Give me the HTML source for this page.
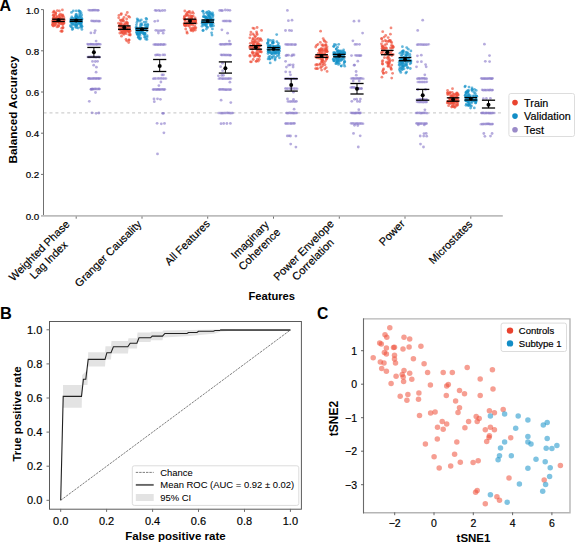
<!DOCTYPE html>
<html><head><meta charset="utf-8"><style>
html,body{margin:0;padding:0;background:#fff;}
svg{display:block;}
text{stroke:#000;stroke-width:0.18px;}
text[font-weight=bold]{stroke:none;}
.lg text{stroke-width:0.05px;}
</style></head><body>
<svg width="575" height="542" viewBox="0 0 575 542">
<rect width="575" height="542" fill="#fff"/>
<g id="panelA">
<line x1="43.6" y1="112.9" x2="502.8" y2="112.9" stroke="#cfcfcf" stroke-width="1.4" stroke-dasharray="3 2.9"/>
<circle cx="60.3" cy="18.9" r="1.4" fill="#EE4E38" fill-opacity="0.66"/>
<circle cx="53.4" cy="23.1" r="1.4" fill="#EE4E38" fill-opacity="0.66"/>
<circle cx="53.2" cy="15.2" r="1.4" fill="#EE4E38" fill-opacity="0.66"/>
<circle cx="58.6" cy="19.1" r="1.4" fill="#EE4E38" fill-opacity="0.66"/>
<circle cx="53.3" cy="26.0" r="1.4" fill="#EE4E38" fill-opacity="0.66"/>
<circle cx="53.6" cy="21.7" r="1.4" fill="#EE4E38" fill-opacity="0.66"/>
<circle cx="54.0" cy="11.1" r="1.4" fill="#EE4E38" fill-opacity="0.66"/>
<circle cx="55.2" cy="25.0" r="1.4" fill="#EE4E38" fill-opacity="0.66"/>
<circle cx="59.4" cy="11.0" r="1.4" fill="#EE4E38" fill-opacity="0.66"/>
<circle cx="57.3" cy="10.7" r="1.4" fill="#EE4E38" fill-opacity="0.66"/>
<circle cx="62.8" cy="22.0" r="1.4" fill="#EE4E38" fill-opacity="0.66"/>
<circle cx="56.0" cy="20.0" r="1.4" fill="#EE4E38" fill-opacity="0.66"/>
<circle cx="56.2" cy="22.0" r="1.4" fill="#EE4E38" fill-opacity="0.66"/>
<circle cx="62.3" cy="22.5" r="1.4" fill="#EE4E38" fill-opacity="0.66"/>
<circle cx="60.2" cy="23.4" r="1.4" fill="#EE4E38" fill-opacity="0.66"/>
<circle cx="57.0" cy="26.9" r="1.4" fill="#EE4E38" fill-opacity="0.66"/>
<circle cx="53.2" cy="18.4" r="1.4" fill="#EE4E38" fill-opacity="0.66"/>
<circle cx="55.0" cy="19.7" r="1.4" fill="#EE4E38" fill-opacity="0.66"/>
<circle cx="56.3" cy="17.8" r="1.4" fill="#EE4E38" fill-opacity="0.66"/>
<circle cx="59.5" cy="15.0" r="1.4" fill="#EE4E38" fill-opacity="0.66"/>
<circle cx="62.0" cy="15.9" r="1.4" fill="#EE4E38" fill-opacity="0.66"/>
<circle cx="60.9" cy="21.6" r="1.4" fill="#EE4E38" fill-opacity="0.66"/>
<circle cx="58.8" cy="20.6" r="1.4" fill="#EE4E38" fill-opacity="0.66"/>
<circle cx="63.0" cy="27.5" r="1.4" fill="#EE4E38" fill-opacity="0.66"/>
<circle cx="64.3" cy="19.7" r="1.4" fill="#EE4E38" fill-opacity="0.66"/>
<circle cx="53.9" cy="15.8" r="1.4" fill="#EE4E38" fill-opacity="0.66"/>
<circle cx="54.3" cy="12.2" r="1.4" fill="#EE4E38" fill-opacity="0.66"/>
<circle cx="58.4" cy="24.9" r="1.4" fill="#EE4E38" fill-opacity="0.66"/>
<circle cx="61.7" cy="28.2" r="1.4" fill="#EE4E38" fill-opacity="0.66"/>
<circle cx="59.4" cy="22.3" r="1.4" fill="#EE4E38" fill-opacity="0.66"/>
<circle cx="60.8" cy="23.7" r="1.4" fill="#EE4E38" fill-opacity="0.66"/>
<circle cx="59.6" cy="16.9" r="1.4" fill="#EE4E38" fill-opacity="0.66"/>
<circle cx="62.6" cy="15.0" r="1.4" fill="#EE4E38" fill-opacity="0.66"/>
<circle cx="63.8" cy="17.4" r="1.4" fill="#EE4E38" fill-opacity="0.66"/>
<circle cx="53.2" cy="12.3" r="1.4" fill="#EE4E38" fill-opacity="0.66"/>
<circle cx="60.9" cy="21.6" r="1.4" fill="#EE4E38" fill-opacity="0.66"/>
<circle cx="62.4" cy="9.9" r="1.4" fill="#EE4E38" fill-opacity="0.66"/>
<circle cx="60.5" cy="19.1" r="1.4" fill="#EE4E38" fill-opacity="0.66"/>
<circle cx="52.8" cy="25.6" r="1.4" fill="#EE4E38" fill-opacity="0.66"/>
<circle cx="53.9" cy="17.1" r="1.4" fill="#EE4E38" fill-opacity="0.66"/>
<circle cx="53.2" cy="21.1" r="1.4" fill="#EE4E38" fill-opacity="0.66"/>
<circle cx="55.5" cy="20.6" r="1.4" fill="#EE4E38" fill-opacity="0.66"/>
<circle cx="57.2" cy="17.4" r="1.4" fill="#EE4E38" fill-opacity="0.66"/>
<circle cx="57.9" cy="21.9" r="1.4" fill="#EE4E38" fill-opacity="0.66"/>
<circle cx="59.1" cy="18.7" r="1.4" fill="#EE4E38" fill-opacity="0.66"/>
<circle cx="62.9" cy="27.9" r="1.4" fill="#EE4E38" fill-opacity="0.66"/>
<circle cx="55.8" cy="13.5" r="1.4" fill="#EE4E38" fill-opacity="0.66"/>
<circle cx="63.1" cy="15.8" r="1.4" fill="#EE4E38" fill-opacity="0.66"/>
<circle cx="64.0" cy="22.9" r="1.4" fill="#EE4E38" fill-opacity="0.66"/>
<circle cx="55.3" cy="22.3" r="1.4" fill="#EE4E38" fill-opacity="0.66"/>
<circle cx="55.3" cy="23.1" r="1.4" fill="#EE4E38" fill-opacity="0.66"/>
<circle cx="55.7" cy="13.0" r="1.4" fill="#EE4E38" fill-opacity="0.66"/>
<circle cx="52.5" cy="21.0" r="1.4" fill="#EE4E38" fill-opacity="0.66"/>
<circle cx="59.3" cy="15.7" r="1.4" fill="#EE4E38" fill-opacity="0.66"/>
<circle cx="63.9" cy="22.9" r="1.4" fill="#EE4E38" fill-opacity="0.66"/>
<circle cx="59.9" cy="17.9" r="1.4" fill="#EE4E38" fill-opacity="0.66"/>
<circle cx="60.6" cy="14.1" r="1.4" fill="#EE4E38" fill-opacity="0.66"/>
<circle cx="61.9" cy="31.4" r="1.4" fill="#EE4E38" fill-opacity="0.66"/>
<circle cx="63.0" cy="24.2" r="1.4" fill="#EE4E38" fill-opacity="0.66"/>
<circle cx="57.3" cy="21.9" r="1.4" fill="#EE4E38" fill-opacity="0.66"/>
<circle cx="53.7" cy="15.1" r="1.4" fill="#EE4E38" fill-opacity="0.66"/>
<circle cx="53.3" cy="19.0" r="1.4" fill="#EE4E38" fill-opacity="0.66"/>
<circle cx="55.0" cy="18.8" r="1.4" fill="#EE4E38" fill-opacity="0.66"/>
<circle cx="53.1" cy="22.9" r="1.4" fill="#EE4E38" fill-opacity="0.66"/>
<circle cx="52.5" cy="24.6" r="1.4" fill="#EE4E38" fill-opacity="0.66"/>
<circle cx="56.9" cy="21.8" r="1.4" fill="#EE4E38" fill-opacity="0.66"/>
<circle cx="52.8" cy="22.4" r="1.4" fill="#EE4E38" fill-opacity="0.66"/>
<circle cx="54.3" cy="25.6" r="1.4" fill="#EE4E38" fill-opacity="0.66"/>
<circle cx="55.5" cy="14.9" r="1.4" fill="#EE4E38" fill-opacity="0.66"/>
<circle cx="54.0" cy="17.3" r="1.4" fill="#EE4E38" fill-opacity="0.66"/>
<circle cx="62.7" cy="24.6" r="1.4" fill="#EE4E38" fill-opacity="0.66"/>
<circle cx="58.3" cy="26.5" r="1.4" fill="#EE4E38" fill-opacity="0.66"/>
<circle cx="53.5" cy="20.0" r="1.4" fill="#EE4E38" fill-opacity="0.66"/>
<circle cx="55.7" cy="24.3" r="1.4" fill="#EE4E38" fill-opacity="0.66"/>
<circle cx="62.4" cy="23.3" r="1.4" fill="#EE4E38" fill-opacity="0.66"/>
<circle cx="63.9" cy="20.9" r="1.4" fill="#EE4E38" fill-opacity="0.66"/>
<circle cx="58.8" cy="21.3" r="1.4" fill="#EE4E38" fill-opacity="0.66"/>
<circle cx="52.8" cy="24.5" r="1.4" fill="#EE4E38" fill-opacity="0.66"/>
<circle cx="58.8" cy="25.8" r="1.4" fill="#EE4E38" fill-opacity="0.66"/>
<circle cx="60.9" cy="31.2" r="1.4" fill="#EE4E38" fill-opacity="0.66"/>
<circle cx="55.6" cy="18.8" r="1.4" fill="#EE4E38" fill-opacity="0.66"/>
<circle cx="61.8" cy="18.1" r="1.4" fill="#EE4E38" fill-opacity="0.66"/>
<circle cx="58.9" cy="22.8" r="1.4" fill="#EE4E38" fill-opacity="0.66"/>
<circle cx="55.2" cy="21.2" r="1.4" fill="#EE4E38" fill-opacity="0.66"/>
<circle cx="62.2" cy="15.5" r="1.4" fill="#EE4E38" fill-opacity="0.66"/>
<circle cx="62.2" cy="31.0" r="1.4" fill="#EE4E38" fill-opacity="0.66"/>
<circle cx="62.3" cy="19.3" r="1.4" fill="#EE4E38" fill-opacity="0.66"/>
<circle cx="58.7" cy="20.0" r="1.4" fill="#EE4E38" fill-opacity="0.66"/>
<circle cx="56.8" cy="16.4" r="1.4" fill="#EE4E38" fill-opacity="0.66"/>
<circle cx="55.9" cy="21.6" r="1.4" fill="#EE4E38" fill-opacity="0.66"/>
<circle cx="73.3" cy="20.8" r="1.4" fill="#1592C9" fill-opacity="0.66"/>
<circle cx="75.6" cy="16.2" r="1.4" fill="#1592C9" fill-opacity="0.66"/>
<circle cx="81.7" cy="14.9" r="1.4" fill="#1592C9" fill-opacity="0.66"/>
<circle cx="72.9" cy="18.3" r="1.4" fill="#1592C9" fill-opacity="0.66"/>
<circle cx="72.6" cy="23.3" r="1.4" fill="#1592C9" fill-opacity="0.66"/>
<circle cx="81.0" cy="22.6" r="1.4" fill="#1592C9" fill-opacity="0.66"/>
<circle cx="80.3" cy="27.3" r="1.4" fill="#1592C9" fill-opacity="0.66"/>
<circle cx="79.8" cy="13.4" r="1.4" fill="#1592C9" fill-opacity="0.66"/>
<circle cx="71.2" cy="21.5" r="1.4" fill="#1592C9" fill-opacity="0.66"/>
<circle cx="79.6" cy="14.8" r="1.4" fill="#1592C9" fill-opacity="0.66"/>
<circle cx="79.2" cy="11.3" r="1.4" fill="#1592C9" fill-opacity="0.66"/>
<circle cx="79.7" cy="17.5" r="1.4" fill="#1592C9" fill-opacity="0.66"/>
<circle cx="74.2" cy="21.0" r="1.4" fill="#1592C9" fill-opacity="0.66"/>
<circle cx="75.0" cy="24.8" r="1.4" fill="#1592C9" fill-opacity="0.66"/>
<circle cx="78.9" cy="10.7" r="1.4" fill="#1592C9" fill-opacity="0.66"/>
<circle cx="72.2" cy="27.6" r="1.4" fill="#1592C9" fill-opacity="0.66"/>
<circle cx="81.1" cy="22.6" r="1.4" fill="#1592C9" fill-opacity="0.66"/>
<circle cx="79.9" cy="22.6" r="1.4" fill="#1592C9" fill-opacity="0.66"/>
<circle cx="82.0" cy="26.3" r="1.4" fill="#1592C9" fill-opacity="0.66"/>
<circle cx="78.1" cy="28.0" r="1.4" fill="#1592C9" fill-opacity="0.66"/>
<circle cx="71.8" cy="16.9" r="1.4" fill="#1592C9" fill-opacity="0.66"/>
<circle cx="70.4" cy="25.7" r="1.4" fill="#1592C9" fill-opacity="0.66"/>
<circle cx="76.5" cy="27.7" r="1.4" fill="#1592C9" fill-opacity="0.66"/>
<circle cx="81.4" cy="19.3" r="1.4" fill="#1592C9" fill-opacity="0.66"/>
<circle cx="80.1" cy="11.3" r="1.4" fill="#1592C9" fill-opacity="0.66"/>
<circle cx="72.7" cy="24.7" r="1.4" fill="#1592C9" fill-opacity="0.66"/>
<circle cx="73.1" cy="20.6" r="1.4" fill="#1592C9" fill-opacity="0.66"/>
<circle cx="77.2" cy="24.8" r="1.4" fill="#1592C9" fill-opacity="0.66"/>
<circle cx="71.8" cy="20.3" r="1.4" fill="#1592C9" fill-opacity="0.66"/>
<circle cx="81.1" cy="25.8" r="1.4" fill="#1592C9" fill-opacity="0.66"/>
<circle cx="77.2" cy="17.2" r="1.4" fill="#1592C9" fill-opacity="0.66"/>
<circle cx="81.1" cy="25.0" r="1.4" fill="#1592C9" fill-opacity="0.66"/>
<circle cx="76.2" cy="10.8" r="1.4" fill="#1592C9" fill-opacity="0.66"/>
<circle cx="76.6" cy="25.9" r="1.4" fill="#1592C9" fill-opacity="0.66"/>
<circle cx="75.5" cy="19.6" r="1.4" fill="#1592C9" fill-opacity="0.66"/>
<circle cx="72.4" cy="20.5" r="1.4" fill="#1592C9" fill-opacity="0.66"/>
<circle cx="72.3" cy="29.6" r="1.4" fill="#1592C9" fill-opacity="0.66"/>
<circle cx="75.9" cy="20.8" r="1.4" fill="#1592C9" fill-opacity="0.66"/>
<circle cx="74.1" cy="19.6" r="1.4" fill="#1592C9" fill-opacity="0.66"/>
<circle cx="76.4" cy="14.3" r="1.4" fill="#1592C9" fill-opacity="0.66"/>
<circle cx="71.5" cy="12.4" r="1.4" fill="#1592C9" fill-opacity="0.66"/>
<circle cx="76.9" cy="17.6" r="1.4" fill="#1592C9" fill-opacity="0.66"/>
<circle cx="79.5" cy="20.6" r="1.4" fill="#1592C9" fill-opacity="0.66"/>
<circle cx="76.3" cy="24.6" r="1.4" fill="#1592C9" fill-opacity="0.66"/>
<circle cx="81.1" cy="12.8" r="1.4" fill="#1592C9" fill-opacity="0.66"/>
<circle cx="75.5" cy="17.4" r="1.4" fill="#1592C9" fill-opacity="0.66"/>
<circle cx="76.3" cy="16.1" r="1.4" fill="#1592C9" fill-opacity="0.66"/>
<circle cx="78.5" cy="16.7" r="1.4" fill="#1592C9" fill-opacity="0.66"/>
<circle cx="75.9" cy="14.7" r="1.4" fill="#1592C9" fill-opacity="0.66"/>
<circle cx="81.5" cy="22.4" r="1.4" fill="#1592C9" fill-opacity="0.66"/>
<circle cx="81.5" cy="17.4" r="1.4" fill="#1592C9" fill-opacity="0.66"/>
<circle cx="73.3" cy="10.9" r="1.4" fill="#1592C9" fill-opacity="0.66"/>
<circle cx="80.3" cy="16.2" r="1.4" fill="#1592C9" fill-opacity="0.66"/>
<circle cx="75.5" cy="22.3" r="1.4" fill="#1592C9" fill-opacity="0.66"/>
<circle cx="71.1" cy="22.5" r="1.4" fill="#1592C9" fill-opacity="0.66"/>
<circle cx="78.2" cy="20.7" r="1.4" fill="#1592C9" fill-opacity="0.66"/>
<circle cx="79.6" cy="22.5" r="1.4" fill="#1592C9" fill-opacity="0.66"/>
<circle cx="78.8" cy="22.9" r="1.4" fill="#1592C9" fill-opacity="0.66"/>
<circle cx="78.1" cy="18.9" r="1.4" fill="#1592C9" fill-opacity="0.66"/>
<circle cx="81.8" cy="27.0" r="1.4" fill="#1592C9" fill-opacity="0.66"/>
<circle cx="72.8" cy="28.7" r="1.4" fill="#1592C9" fill-opacity="0.66"/>
<circle cx="76.0" cy="25.4" r="1.4" fill="#1592C9" fill-opacity="0.66"/>
<circle cx="82.1" cy="19.1" r="1.4" fill="#1592C9" fill-opacity="0.66"/>
<circle cx="75.4" cy="22.1" r="1.4" fill="#1592C9" fill-opacity="0.66"/>
<circle cx="76.4" cy="18.0" r="1.4" fill="#1592C9" fill-opacity="0.66"/>
<circle cx="74.0" cy="18.8" r="1.4" fill="#1592C9" fill-opacity="0.66"/>
<circle cx="78.9" cy="23.4" r="1.4" fill="#1592C9" fill-opacity="0.66"/>
<circle cx="75.5" cy="26.9" r="1.4" fill="#1592C9" fill-opacity="0.66"/>
<circle cx="70.4" cy="21.4" r="1.4" fill="#1592C9" fill-opacity="0.66"/>
<circle cx="76.3" cy="17.2" r="1.4" fill="#1592C9" fill-opacity="0.66"/>
<circle cx="71.0" cy="26.7" r="1.4" fill="#1592C9" fill-opacity="0.66"/>
<circle cx="81.9" cy="29.4" r="1.4" fill="#1592C9" fill-opacity="0.66"/>
<circle cx="71.5" cy="19.8" r="1.4" fill="#1592C9" fill-opacity="0.66"/>
<circle cx="79.5" cy="20.5" r="1.4" fill="#1592C9" fill-opacity="0.66"/>
<circle cx="73.4" cy="22.0" r="1.4" fill="#1592C9" fill-opacity="0.66"/>
<circle cx="81.1" cy="24.2" r="1.4" fill="#1592C9" fill-opacity="0.66"/>
<circle cx="80.0" cy="24.4" r="1.4" fill="#1592C9" fill-opacity="0.66"/>
<circle cx="81.2" cy="20.4" r="1.4" fill="#1592C9" fill-opacity="0.66"/>
<circle cx="77.0" cy="23.4" r="1.4" fill="#1592C9" fill-opacity="0.66"/>
<circle cx="70.9" cy="19.9" r="1.4" fill="#1592C9" fill-opacity="0.66"/>
<circle cx="78.5" cy="18.5" r="1.4" fill="#1592C9" fill-opacity="0.66"/>
<circle cx="81.5" cy="18.9" r="1.4" fill="#1592C9" fill-opacity="0.66"/>
<circle cx="77.8" cy="21.5" r="1.4" fill="#1592C9" fill-opacity="0.66"/>
<circle cx="80.5" cy="21.3" r="1.4" fill="#1592C9" fill-opacity="0.66"/>
<circle cx="71.0" cy="18.6" r="1.4" fill="#1592C9" fill-opacity="0.66"/>
<circle cx="74.3" cy="24.2" r="1.4" fill="#1592C9" fill-opacity="0.66"/>
<circle cx="76.8" cy="16.4" r="1.4" fill="#1592C9" fill-opacity="0.66"/>
<circle cx="71.8" cy="24.1" r="1.4" fill="#1592C9" fill-opacity="0.66"/>
<circle cx="76.5" cy="18.8" r="1.4" fill="#1592C9" fill-opacity="0.66"/>
<circle cx="72.1" cy="20.8" r="1.4" fill="#1592C9" fill-opacity="0.66"/>
<rect x="88.4" y="9.1" width="10.9" height="2.4" rx="1.2" fill="#8575C8" fill-opacity="0.48"/>
<circle cx="88.5" cy="10.1" r="1.25" fill="#8575C8" fill-opacity="0.45"/>
<circle cx="90.1" cy="10.2" r="1.25" fill="#8575C8" fill-opacity="0.45"/>
<circle cx="92.0" cy="10.2" r="1.25" fill="#8575C8" fill-opacity="0.45"/>
<circle cx="93.1" cy="10.1" r="1.25" fill="#8575C8" fill-opacity="0.45"/>
<circle cx="94.4" cy="10.0" r="1.25" fill="#8575C8" fill-opacity="0.45"/>
<circle cx="95.7" cy="10.0" r="1.25" fill="#8575C8" fill-opacity="0.45"/>
<circle cx="97.6" cy="10.3" r="1.25" fill="#8575C8" fill-opacity="0.45"/>
<circle cx="98.5" cy="10.3" r="1.25" fill="#8575C8" fill-opacity="0.45"/>
<rect x="90.5" y="19.8" width="10.0" height="2.4" rx="1.2" fill="#8575C8" fill-opacity="0.48"/>
<circle cx="91.4" cy="20.8" r="1.25" fill="#8575C8" fill-opacity="0.45"/>
<circle cx="93.1" cy="21.0" r="1.25" fill="#8575C8" fill-opacity="0.45"/>
<circle cx="94.6" cy="21.2" r="1.25" fill="#8575C8" fill-opacity="0.45"/>
<circle cx="96.3" cy="21.0" r="1.25" fill="#8575C8" fill-opacity="0.45"/>
<circle cx="98.4" cy="21.3" r="1.25" fill="#8575C8" fill-opacity="0.45"/>
<circle cx="99.8" cy="21.2" r="1.25" fill="#8575C8" fill-opacity="0.45"/>
<circle cx="95.2" cy="30.6" r="1.4" fill="#8575C8" fill-opacity="0.6"/>
<circle cx="90.9" cy="32.9" r="1.4" fill="#8575C8" fill-opacity="0.6"/>
<circle cx="94.5" cy="32.8" r="1.4" fill="#8575C8" fill-opacity="0.6"/>
<circle cx="96.1" cy="41.1" r="1.4" fill="#8575C8" fill-opacity="0.6"/>
<rect x="87.0" y="43.0" width="14.0" height="2.4" rx="1.2" fill="#8575C8" fill-opacity="0.48"/>
<circle cx="87.3" cy="44.0" r="1.25" fill="#8575C8" fill-opacity="0.45"/>
<circle cx="88.3" cy="44.4" r="1.25" fill="#8575C8" fill-opacity="0.45"/>
<circle cx="90.2" cy="44.3" r="1.25" fill="#8575C8" fill-opacity="0.45"/>
<circle cx="90.8" cy="44.0" r="1.25" fill="#8575C8" fill-opacity="0.45"/>
<circle cx="92.0" cy="44.2" r="1.25" fill="#8575C8" fill-opacity="0.45"/>
<circle cx="93.1" cy="44.2" r="1.25" fill="#8575C8" fill-opacity="0.45"/>
<circle cx="94.4" cy="44.5" r="1.25" fill="#8575C8" fill-opacity="0.45"/>
<circle cx="96.2" cy="44.2" r="1.25" fill="#8575C8" fill-opacity="0.45"/>
<circle cx="96.7" cy="44.5" r="1.25" fill="#8575C8" fill-opacity="0.45"/>
<circle cx="97.9" cy="44.1" r="1.25" fill="#8575C8" fill-opacity="0.45"/>
<circle cx="98.8" cy="44.1" r="1.25" fill="#8575C8" fill-opacity="0.45"/>
<circle cx="100.5" cy="44.2" r="1.25" fill="#8575C8" fill-opacity="0.45"/>
<rect x="87.5" y="55.8" width="13.0" height="2.4" rx="1.2" fill="#8575C8" fill-opacity="0.48"/>
<circle cx="87.7" cy="57.0" r="1.25" fill="#8575C8" fill-opacity="0.45"/>
<circle cx="88.6" cy="56.9" r="1.25" fill="#8575C8" fill-opacity="0.45"/>
<circle cx="89.8" cy="56.9" r="1.25" fill="#8575C8" fill-opacity="0.45"/>
<circle cx="90.8" cy="56.7" r="1.25" fill="#8575C8" fill-opacity="0.45"/>
<circle cx="92.2" cy="56.8" r="1.25" fill="#8575C8" fill-opacity="0.45"/>
<circle cx="93.5" cy="57.0" r="1.25" fill="#8575C8" fill-opacity="0.45"/>
<circle cx="94.8" cy="57.1" r="1.25" fill="#8575C8" fill-opacity="0.45"/>
<circle cx="95.9" cy="57.2" r="1.25" fill="#8575C8" fill-opacity="0.45"/>
<circle cx="96.6" cy="56.9" r="1.25" fill="#8575C8" fill-opacity="0.45"/>
<circle cx="98.3" cy="56.8" r="1.25" fill="#8575C8" fill-opacity="0.45"/>
<circle cx="99.1" cy="57.1" r="1.25" fill="#8575C8" fill-opacity="0.45"/>
<circle cx="99.5" cy="57.2" r="1.25" fill="#8575C8" fill-opacity="0.45"/>
<circle cx="92.5" cy="61.4" r="1.4" fill="#8575C8" fill-opacity="0.6"/>
<circle cx="95.3" cy="61.5" r="1.4" fill="#8575C8" fill-opacity="0.6"/>
<circle cx="97.6" cy="61.3" r="1.4" fill="#8575C8" fill-opacity="0.6"/>
<circle cx="93.7" cy="65.2" r="1.4" fill="#8575C8" fill-opacity="0.6"/>
<circle cx="96.4" cy="67.2" r="1.4" fill="#8575C8" fill-opacity="0.6"/>
<circle cx="96.1" cy="72.2" r="1.4" fill="#8575C8" fill-opacity="0.6"/>
<rect x="87.5" y="77.3" width="13.5" height="2.4" rx="1.2" fill="#8575C8" fill-opacity="0.48"/>
<circle cx="88.2" cy="78.6" r="1.25" fill="#8575C8" fill-opacity="0.45"/>
<circle cx="88.8" cy="78.2" r="1.25" fill="#8575C8" fill-opacity="0.45"/>
<circle cx="89.7" cy="78.4" r="1.25" fill="#8575C8" fill-opacity="0.45"/>
<circle cx="90.7" cy="78.7" r="1.25" fill="#8575C8" fill-opacity="0.45"/>
<circle cx="92.2" cy="78.6" r="1.25" fill="#8575C8" fill-opacity="0.45"/>
<circle cx="93.3" cy="78.6" r="1.25" fill="#8575C8" fill-opacity="0.45"/>
<circle cx="94.2" cy="78.2" r="1.25" fill="#8575C8" fill-opacity="0.45"/>
<circle cx="95.6" cy="78.6" r="1.25" fill="#8575C8" fill-opacity="0.45"/>
<circle cx="96.3" cy="78.5" r="1.25" fill="#8575C8" fill-opacity="0.45"/>
<circle cx="97.5" cy="78.2" r="1.25" fill="#8575C8" fill-opacity="0.45"/>
<circle cx="98.7" cy="78.4" r="1.25" fill="#8575C8" fill-opacity="0.45"/>
<circle cx="99.0" cy="78.4" r="1.25" fill="#8575C8" fill-opacity="0.45"/>
<circle cx="100.7" cy="78.3" r="1.25" fill="#8575C8" fill-opacity="0.45"/>
<rect x="90.0" y="87.8" width="10.5" height="2.4" rx="1.2" fill="#8575C8" fill-opacity="0.48"/>
<circle cx="90.7" cy="89.3" r="1.25" fill="#8575C8" fill-opacity="0.45"/>
<circle cx="91.7" cy="88.9" r="1.25" fill="#8575C8" fill-opacity="0.45"/>
<circle cx="92.9" cy="89.1" r="1.25" fill="#8575C8" fill-opacity="0.45"/>
<circle cx="94.3" cy="89.1" r="1.25" fill="#8575C8" fill-opacity="0.45"/>
<circle cx="95.4" cy="88.7" r="1.25" fill="#8575C8" fill-opacity="0.45"/>
<circle cx="96.1" cy="88.9" r="1.25" fill="#8575C8" fill-opacity="0.45"/>
<circle cx="97.9" cy="88.9" r="1.25" fill="#8575C8" fill-opacity="0.45"/>
<circle cx="98.9" cy="88.7" r="1.25" fill="#8575C8" fill-opacity="0.45"/>
<circle cx="99.6" cy="88.9" r="1.25" fill="#8575C8" fill-opacity="0.45"/>
<circle cx="91.2" cy="89.4" r="1.4" fill="#8575C8" fill-opacity="0.6"/>
<circle cx="92.7" cy="89.2" r="1.4" fill="#8575C8" fill-opacity="0.6"/>
<circle cx="95.5" cy="92.5" r="1.4" fill="#8575C8" fill-opacity="0.6"/>
<circle cx="89.3" cy="101.3" r="1.4" fill="#8575C8" fill-opacity="0.6"/>
<circle cx="92.0" cy="112.8" r="1.4" fill="#8575C8" fill-opacity="0.6"/>
<circle cx="96.1" cy="113.3" r="1.4" fill="#8575C8" fill-opacity="0.6"/>
<circle cx="98.9" cy="113.0" r="1.4" fill="#8575C8" fill-opacity="0.6"/>
<circle cx="128.1" cy="31.4" r="1.4" fill="#EE4E38" fill-opacity="0.66"/>
<circle cx="121.5" cy="36.2" r="1.4" fill="#EE4E38" fill-opacity="0.66"/>
<circle cx="120.8" cy="25.9" r="1.4" fill="#EE4E38" fill-opacity="0.66"/>
<circle cx="125.2" cy="32.8" r="1.4" fill="#EE4E38" fill-opacity="0.66"/>
<circle cx="120.0" cy="25.8" r="1.4" fill="#EE4E38" fill-opacity="0.66"/>
<circle cx="119.9" cy="24.6" r="1.4" fill="#EE4E38" fill-opacity="0.66"/>
<circle cx="128.9" cy="31.7" r="1.4" fill="#EE4E38" fill-opacity="0.66"/>
<circle cx="126.7" cy="19.0" r="1.4" fill="#EE4E38" fill-opacity="0.66"/>
<circle cx="124.1" cy="29.6" r="1.4" fill="#EE4E38" fill-opacity="0.66"/>
<circle cx="124.2" cy="28.3" r="1.4" fill="#EE4E38" fill-opacity="0.66"/>
<circle cx="123.7" cy="27.7" r="1.4" fill="#EE4E38" fill-opacity="0.66"/>
<circle cx="122.4" cy="26.2" r="1.4" fill="#EE4E38" fill-opacity="0.66"/>
<circle cx="122.1" cy="31.8" r="1.4" fill="#EE4E38" fill-opacity="0.66"/>
<circle cx="127.3" cy="27.9" r="1.4" fill="#EE4E38" fill-opacity="0.66"/>
<circle cx="128.3" cy="27.2" r="1.4" fill="#EE4E38" fill-opacity="0.66"/>
<circle cx="126.8" cy="40.9" r="1.4" fill="#EE4E38" fill-opacity="0.66"/>
<circle cx="129.1" cy="40.1" r="1.4" fill="#EE4E38" fill-opacity="0.66"/>
<circle cx="123.0" cy="25.7" r="1.4" fill="#EE4E38" fill-opacity="0.66"/>
<circle cx="130.3" cy="35.1" r="1.4" fill="#EE4E38" fill-opacity="0.66"/>
<circle cx="123.4" cy="21.2" r="1.4" fill="#EE4E38" fill-opacity="0.66"/>
<circle cx="121.6" cy="23.6" r="1.4" fill="#EE4E38" fill-opacity="0.66"/>
<circle cx="128.3" cy="31.1" r="1.4" fill="#EE4E38" fill-opacity="0.66"/>
<circle cx="121.7" cy="28.7" r="1.4" fill="#EE4E38" fill-opacity="0.66"/>
<circle cx="121.5" cy="33.2" r="1.4" fill="#EE4E38" fill-opacity="0.66"/>
<circle cx="124.4" cy="25.2" r="1.4" fill="#EE4E38" fill-opacity="0.66"/>
<circle cx="129.7" cy="30.5" r="1.4" fill="#EE4E38" fill-opacity="0.66"/>
<circle cx="128.9" cy="34.8" r="1.4" fill="#EE4E38" fill-opacity="0.66"/>
<circle cx="129.2" cy="31.9" r="1.4" fill="#EE4E38" fill-opacity="0.66"/>
<circle cx="129.6" cy="17.2" r="1.4" fill="#EE4E38" fill-opacity="0.66"/>
<circle cx="118.9" cy="15.4" r="1.4" fill="#EE4E38" fill-opacity="0.66"/>
<circle cx="127.1" cy="23.7" r="1.4" fill="#EE4E38" fill-opacity="0.66"/>
<circle cx="126.0" cy="14.9" r="1.4" fill="#EE4E38" fill-opacity="0.66"/>
<circle cx="121.7" cy="31.7" r="1.4" fill="#EE4E38" fill-opacity="0.66"/>
<circle cx="119.8" cy="33.1" r="1.4" fill="#EE4E38" fill-opacity="0.66"/>
<circle cx="121.8" cy="20.4" r="1.4" fill="#EE4E38" fill-opacity="0.66"/>
<circle cx="127.1" cy="28.9" r="1.4" fill="#EE4E38" fill-opacity="0.66"/>
<circle cx="126.1" cy="33.7" r="1.4" fill="#EE4E38" fill-opacity="0.66"/>
<circle cx="121.9" cy="26.7" r="1.4" fill="#EE4E38" fill-opacity="0.66"/>
<circle cx="120.3" cy="20.1" r="1.4" fill="#EE4E38" fill-opacity="0.66"/>
<circle cx="120.2" cy="24.8" r="1.4" fill="#EE4E38" fill-opacity="0.66"/>
<circle cx="124.2" cy="32.2" r="1.4" fill="#EE4E38" fill-opacity="0.66"/>
<circle cx="130.2" cy="30.9" r="1.4" fill="#EE4E38" fill-opacity="0.66"/>
<circle cx="120.6" cy="23.4" r="1.4" fill="#EE4E38" fill-opacity="0.66"/>
<circle cx="119.4" cy="29.0" r="1.4" fill="#EE4E38" fill-opacity="0.66"/>
<circle cx="121.1" cy="25.7" r="1.4" fill="#EE4E38" fill-opacity="0.66"/>
<circle cx="121.4" cy="30.5" r="1.4" fill="#EE4E38" fill-opacity="0.66"/>
<circle cx="127.3" cy="12.5" r="1.4" fill="#EE4E38" fill-opacity="0.66"/>
<circle cx="123.2" cy="20.5" r="1.4" fill="#EE4E38" fill-opacity="0.66"/>
<circle cx="122.8" cy="19.2" r="1.4" fill="#EE4E38" fill-opacity="0.66"/>
<circle cx="122.3" cy="32.6" r="1.4" fill="#EE4E38" fill-opacity="0.66"/>
<circle cx="129.9" cy="33.6" r="1.4" fill="#EE4E38" fill-opacity="0.66"/>
<circle cx="119.8" cy="30.1" r="1.4" fill="#EE4E38" fill-opacity="0.66"/>
<circle cx="128.6" cy="16.3" r="1.4" fill="#EE4E38" fill-opacity="0.66"/>
<circle cx="120.9" cy="27.4" r="1.4" fill="#EE4E38" fill-opacity="0.66"/>
<circle cx="123.1" cy="26.8" r="1.4" fill="#EE4E38" fill-opacity="0.66"/>
<circle cx="123.6" cy="33.6" r="1.4" fill="#EE4E38" fill-opacity="0.66"/>
<circle cx="128.7" cy="42.5" r="1.4" fill="#EE4E38" fill-opacity="0.66"/>
<circle cx="118.5" cy="23.2" r="1.4" fill="#EE4E38" fill-opacity="0.66"/>
<circle cx="129.0" cy="39.9" r="1.4" fill="#EE4E38" fill-opacity="0.66"/>
<circle cx="123.9" cy="30.1" r="1.4" fill="#EE4E38" fill-opacity="0.66"/>
<circle cx="123.0" cy="27.5" r="1.4" fill="#EE4E38" fill-opacity="0.66"/>
<circle cx="129.4" cy="27.5" r="1.4" fill="#EE4E38" fill-opacity="0.66"/>
<circle cx="129.9" cy="34.8" r="1.4" fill="#EE4E38" fill-opacity="0.66"/>
<circle cx="121.3" cy="13.6" r="1.4" fill="#EE4E38" fill-opacity="0.66"/>
<circle cx="124.5" cy="31.2" r="1.4" fill="#EE4E38" fill-opacity="0.66"/>
<circle cx="126.5" cy="30.5" r="1.4" fill="#EE4E38" fill-opacity="0.66"/>
<circle cx="126.0" cy="39.5" r="1.4" fill="#EE4E38" fill-opacity="0.66"/>
<circle cx="127.4" cy="23.0" r="1.4" fill="#EE4E38" fill-opacity="0.66"/>
<circle cx="118.7" cy="17.8" r="1.4" fill="#EE4E38" fill-opacity="0.66"/>
<circle cx="127.7" cy="30.3" r="1.4" fill="#EE4E38" fill-opacity="0.66"/>
<circle cx="126.0" cy="29.6" r="1.4" fill="#EE4E38" fill-opacity="0.66"/>
<circle cx="121.3" cy="26.2" r="1.4" fill="#EE4E38" fill-opacity="0.66"/>
<circle cx="125.9" cy="31.5" r="1.4" fill="#EE4E38" fill-opacity="0.66"/>
<circle cx="119.1" cy="26.4" r="1.4" fill="#EE4E38" fill-opacity="0.66"/>
<circle cx="124.6" cy="23.9" r="1.4" fill="#EE4E38" fill-opacity="0.66"/>
<circle cx="121.0" cy="20.7" r="1.4" fill="#EE4E38" fill-opacity="0.66"/>
<circle cx="125.5" cy="23.7" r="1.4" fill="#EE4E38" fill-opacity="0.66"/>
<circle cx="123.8" cy="34.4" r="1.4" fill="#EE4E38" fill-opacity="0.66"/>
<circle cx="129.8" cy="28.0" r="1.4" fill="#EE4E38" fill-opacity="0.66"/>
<circle cx="124.0" cy="17.4" r="1.4" fill="#EE4E38" fill-opacity="0.66"/>
<circle cx="121.1" cy="14.5" r="1.4" fill="#EE4E38" fill-opacity="0.66"/>
<circle cx="126.7" cy="28.0" r="1.4" fill="#EE4E38" fill-opacity="0.66"/>
<circle cx="124.2" cy="27.0" r="1.4" fill="#EE4E38" fill-opacity="0.66"/>
<circle cx="126.4" cy="29.2" r="1.4" fill="#EE4E38" fill-opacity="0.66"/>
<circle cx="126.3" cy="22.2" r="1.4" fill="#EE4E38" fill-opacity="0.66"/>
<circle cx="129.4" cy="30.6" r="1.4" fill="#EE4E38" fill-opacity="0.66"/>
<circle cx="122.3" cy="27.9" r="1.4" fill="#EE4E38" fill-opacity="0.66"/>
<circle cx="123.3" cy="29.7" r="1.4" fill="#EE4E38" fill-opacity="0.66"/>
<circle cx="127.8" cy="25.4" r="1.4" fill="#EE4E38" fill-opacity="0.66"/>
<circle cx="127.1" cy="22.8" r="1.4" fill="#EE4E38" fill-opacity="0.66"/>
<circle cx="147.6" cy="25.2" r="1.4" fill="#1592C9" fill-opacity="0.66"/>
<circle cx="139.7" cy="29.2" r="1.4" fill="#1592C9" fill-opacity="0.66"/>
<circle cx="138.6" cy="31.2" r="1.4" fill="#1592C9" fill-opacity="0.66"/>
<circle cx="145.1" cy="25.4" r="1.4" fill="#1592C9" fill-opacity="0.66"/>
<circle cx="141.9" cy="25.2" r="1.4" fill="#1592C9" fill-opacity="0.66"/>
<circle cx="141.0" cy="30.9" r="1.4" fill="#1592C9" fill-opacity="0.66"/>
<circle cx="144.0" cy="33.2" r="1.4" fill="#1592C9" fill-opacity="0.66"/>
<circle cx="140.7" cy="32.5" r="1.4" fill="#1592C9" fill-opacity="0.66"/>
<circle cx="138.5" cy="28.2" r="1.4" fill="#1592C9" fill-opacity="0.66"/>
<circle cx="136.6" cy="32.6" r="1.4" fill="#1592C9" fill-opacity="0.66"/>
<circle cx="136.7" cy="28.8" r="1.4" fill="#1592C9" fill-opacity="0.66"/>
<circle cx="146.6" cy="19.2" r="1.4" fill="#1592C9" fill-opacity="0.66"/>
<circle cx="144.8" cy="37.3" r="1.4" fill="#1592C9" fill-opacity="0.66"/>
<circle cx="139.9" cy="29.1" r="1.4" fill="#1592C9" fill-opacity="0.66"/>
<circle cx="144.9" cy="34.8" r="1.4" fill="#1592C9" fill-opacity="0.66"/>
<circle cx="140.5" cy="38.0" r="1.4" fill="#1592C9" fill-opacity="0.66"/>
<circle cx="140.5" cy="31.1" r="1.4" fill="#1592C9" fill-opacity="0.66"/>
<circle cx="136.0" cy="27.5" r="1.4" fill="#1592C9" fill-opacity="0.66"/>
<circle cx="139.3" cy="32.5" r="1.4" fill="#1592C9" fill-opacity="0.66"/>
<circle cx="137.5" cy="20.4" r="1.4" fill="#1592C9" fill-opacity="0.66"/>
<circle cx="140.2" cy="33.3" r="1.4" fill="#1592C9" fill-opacity="0.66"/>
<circle cx="145.8" cy="28.4" r="1.4" fill="#1592C9" fill-opacity="0.66"/>
<circle cx="136.6" cy="32.1" r="1.4" fill="#1592C9" fill-opacity="0.66"/>
<circle cx="141.7" cy="23.6" r="1.4" fill="#1592C9" fill-opacity="0.66"/>
<circle cx="138.3" cy="19.9" r="1.4" fill="#1592C9" fill-opacity="0.66"/>
<circle cx="140.3" cy="39.0" r="1.4" fill="#1592C9" fill-opacity="0.66"/>
<circle cx="140.9" cy="30.5" r="1.4" fill="#1592C9" fill-opacity="0.66"/>
<circle cx="145.7" cy="28.4" r="1.4" fill="#1592C9" fill-opacity="0.66"/>
<circle cx="136.4" cy="29.5" r="1.4" fill="#1592C9" fill-opacity="0.66"/>
<circle cx="136.7" cy="27.6" r="1.4" fill="#1592C9" fill-opacity="0.66"/>
<circle cx="144.9" cy="33.4" r="1.4" fill="#1592C9" fill-opacity="0.66"/>
<circle cx="146.8" cy="27.1" r="1.4" fill="#1592C9" fill-opacity="0.66"/>
<circle cx="147.5" cy="26.8" r="1.4" fill="#1592C9" fill-opacity="0.66"/>
<circle cx="143.4" cy="33.4" r="1.4" fill="#1592C9" fill-opacity="0.66"/>
<circle cx="139.8" cy="28.6" r="1.4" fill="#1592C9" fill-opacity="0.66"/>
<circle cx="139.3" cy="38.8" r="1.4" fill="#1592C9" fill-opacity="0.66"/>
<circle cx="147.0" cy="39.4" r="1.4" fill="#1592C9" fill-opacity="0.66"/>
<circle cx="143.6" cy="29.5" r="1.4" fill="#1592C9" fill-opacity="0.66"/>
<circle cx="138.8" cy="30.5" r="1.4" fill="#1592C9" fill-opacity="0.66"/>
<circle cx="141.7" cy="28.8" r="1.4" fill="#1592C9" fill-opacity="0.66"/>
<circle cx="140.6" cy="25.3" r="1.4" fill="#1592C9" fill-opacity="0.66"/>
<circle cx="141.9" cy="29.3" r="1.4" fill="#1592C9" fill-opacity="0.66"/>
<circle cx="147.1" cy="35.7" r="1.4" fill="#1592C9" fill-opacity="0.66"/>
<circle cx="144.8" cy="33.7" r="1.4" fill="#1592C9" fill-opacity="0.66"/>
<circle cx="145.8" cy="39.2" r="1.4" fill="#1592C9" fill-opacity="0.66"/>
<circle cx="139.9" cy="30.5" r="1.4" fill="#1592C9" fill-opacity="0.66"/>
<circle cx="139.8" cy="21.2" r="1.4" fill="#1592C9" fill-opacity="0.66"/>
<circle cx="136.9" cy="22.5" r="1.4" fill="#1592C9" fill-opacity="0.66"/>
<circle cx="138.3" cy="37.3" r="1.4" fill="#1592C9" fill-opacity="0.66"/>
<circle cx="136.7" cy="29.4" r="1.4" fill="#1592C9" fill-opacity="0.66"/>
<circle cx="136.4" cy="24.8" r="1.4" fill="#1592C9" fill-opacity="0.66"/>
<circle cx="147.7" cy="24.3" r="1.4" fill="#1592C9" fill-opacity="0.66"/>
<circle cx="146.6" cy="27.6" r="1.4" fill="#1592C9" fill-opacity="0.66"/>
<circle cx="137.0" cy="34.0" r="1.4" fill="#1592C9" fill-opacity="0.66"/>
<circle cx="137.1" cy="28.9" r="1.4" fill="#1592C9" fill-opacity="0.66"/>
<circle cx="141.3" cy="19.9" r="1.4" fill="#1592C9" fill-opacity="0.66"/>
<circle cx="138.8" cy="29.4" r="1.4" fill="#1592C9" fill-opacity="0.66"/>
<circle cx="144.1" cy="22.1" r="1.4" fill="#1592C9" fill-opacity="0.66"/>
<circle cx="144.9" cy="33.5" r="1.4" fill="#1592C9" fill-opacity="0.66"/>
<circle cx="137.4" cy="34.4" r="1.4" fill="#1592C9" fill-opacity="0.66"/>
<circle cx="146.1" cy="22.0" r="1.4" fill="#1592C9" fill-opacity="0.66"/>
<circle cx="140.4" cy="27.2" r="1.4" fill="#1592C9" fill-opacity="0.66"/>
<circle cx="144.8" cy="36.8" r="1.4" fill="#1592C9" fill-opacity="0.66"/>
<circle cx="138.9" cy="30.7" r="1.4" fill="#1592C9" fill-opacity="0.66"/>
<circle cx="137.8" cy="33.6" r="1.4" fill="#1592C9" fill-opacity="0.66"/>
<circle cx="139.9" cy="35.2" r="1.4" fill="#1592C9" fill-opacity="0.66"/>
<circle cx="140.7" cy="24.1" r="1.4" fill="#1592C9" fill-opacity="0.66"/>
<circle cx="138.7" cy="36.4" r="1.4" fill="#1592C9" fill-opacity="0.66"/>
<circle cx="145.7" cy="29.0" r="1.4" fill="#1592C9" fill-opacity="0.66"/>
<circle cx="137.2" cy="18.8" r="1.4" fill="#1592C9" fill-opacity="0.66"/>
<circle cx="146.1" cy="18.3" r="1.4" fill="#1592C9" fill-opacity="0.66"/>
<circle cx="146.9" cy="31.1" r="1.4" fill="#1592C9" fill-opacity="0.66"/>
<circle cx="137.4" cy="34.1" r="1.4" fill="#1592C9" fill-opacity="0.66"/>
<circle cx="138.2" cy="30.6" r="1.4" fill="#1592C9" fill-opacity="0.66"/>
<circle cx="147.1" cy="37.1" r="1.4" fill="#1592C9" fill-opacity="0.66"/>
<circle cx="140.4" cy="28.0" r="1.4" fill="#1592C9" fill-opacity="0.66"/>
<circle cx="139.1" cy="33.7" r="1.4" fill="#1592C9" fill-opacity="0.66"/>
<circle cx="145.3" cy="24.4" r="1.4" fill="#1592C9" fill-opacity="0.66"/>
<circle cx="143.1" cy="32.0" r="1.4" fill="#1592C9" fill-opacity="0.66"/>
<circle cx="143.4" cy="28.4" r="1.4" fill="#1592C9" fill-opacity="0.66"/>
<circle cx="137.7" cy="30.5" r="1.4" fill="#1592C9" fill-opacity="0.66"/>
<circle cx="138.4" cy="34.9" r="1.4" fill="#1592C9" fill-opacity="0.66"/>
<circle cx="143.8" cy="29.0" r="1.4" fill="#1592C9" fill-opacity="0.66"/>
<circle cx="138.4" cy="37.4" r="1.4" fill="#1592C9" fill-opacity="0.66"/>
<circle cx="144.1" cy="34.6" r="1.4" fill="#1592C9" fill-opacity="0.66"/>
<circle cx="138.2" cy="29.7" r="1.4" fill="#1592C9" fill-opacity="0.66"/>
<circle cx="145.5" cy="27.8" r="1.4" fill="#1592C9" fill-opacity="0.66"/>
<circle cx="142.5" cy="33.0" r="1.4" fill="#1592C9" fill-opacity="0.66"/>
<circle cx="140.7" cy="31.9" r="1.4" fill="#1592C9" fill-opacity="0.66"/>
<circle cx="142.6" cy="30.4" r="1.4" fill="#1592C9" fill-opacity="0.66"/>
<circle cx="155.2" cy="10.3" r="1.4" fill="#8575C8" fill-opacity="0.6"/>
<circle cx="156.5" cy="10.6" r="1.4" fill="#8575C8" fill-opacity="0.6"/>
<circle cx="158.7" cy="10.4" r="1.4" fill="#8575C8" fill-opacity="0.6"/>
<circle cx="160.3" cy="10.8" r="1.4" fill="#8575C8" fill-opacity="0.6"/>
<circle cx="162.5" cy="10.5" r="1.4" fill="#8575C8" fill-opacity="0.6"/>
<circle cx="164.8" cy="10.4" r="1.4" fill="#8575C8" fill-opacity="0.6"/>
<circle cx="154.8" cy="21.3" r="1.4" fill="#8575C8" fill-opacity="0.6"/>
<circle cx="157.8" cy="20.8" r="1.4" fill="#8575C8" fill-opacity="0.6"/>
<circle cx="155.8" cy="30.3" r="1.4" fill="#8575C8" fill-opacity="0.6"/>
<circle cx="157.9" cy="30.7" r="1.4" fill="#8575C8" fill-opacity="0.6"/>
<circle cx="160.2" cy="30.7" r="1.4" fill="#8575C8" fill-opacity="0.6"/>
<circle cx="162.1" cy="30.7" r="1.4" fill="#8575C8" fill-opacity="0.6"/>
<circle cx="164.0" cy="30.3" r="1.4" fill="#8575C8" fill-opacity="0.6"/>
<circle cx="158.4" cy="33.0" r="1.4" fill="#8575C8" fill-opacity="0.6"/>
<circle cx="163.2" cy="33.2" r="1.4" fill="#8575C8" fill-opacity="0.6"/>
<rect x="153.5" y="43.3" width="12.0" height="2.4" rx="1.2" fill="#8575C8" fill-opacity="0.48"/>
<circle cx="153.6" cy="44.6" r="1.25" fill="#8575C8" fill-opacity="0.45"/>
<circle cx="155.1" cy="44.5" r="1.25" fill="#8575C8" fill-opacity="0.45"/>
<circle cx="156.1" cy="44.4" r="1.25" fill="#8575C8" fill-opacity="0.45"/>
<circle cx="157.7" cy="44.8" r="1.25" fill="#8575C8" fill-opacity="0.45"/>
<circle cx="158.5" cy="44.5" r="1.25" fill="#8575C8" fill-opacity="0.45"/>
<circle cx="160.4" cy="44.8" r="1.25" fill="#8575C8" fill-opacity="0.45"/>
<circle cx="161.0" cy="44.3" r="1.25" fill="#8575C8" fill-opacity="0.45"/>
<circle cx="163.0" cy="44.8" r="1.25" fill="#8575C8" fill-opacity="0.45"/>
<circle cx="163.8" cy="44.2" r="1.25" fill="#8575C8" fill-opacity="0.45"/>
<circle cx="165.4" cy="44.4" r="1.25" fill="#8575C8" fill-opacity="0.45"/>
<circle cx="155.5" cy="55.1" r="1.4" fill="#8575C8" fill-opacity="0.6"/>
<circle cx="156.9" cy="54.8" r="1.4" fill="#8575C8" fill-opacity="0.6"/>
<circle cx="158.3" cy="54.8" r="1.4" fill="#8575C8" fill-opacity="0.6"/>
<circle cx="159.9" cy="55.2" r="1.4" fill="#8575C8" fill-opacity="0.6"/>
<circle cx="162.9" cy="54.8" r="1.4" fill="#8575C8" fill-opacity="0.6"/>
<circle cx="164.7" cy="54.9" r="1.4" fill="#8575C8" fill-opacity="0.6"/>
<circle cx="162.0" cy="74.9" r="1.4" fill="#8575C8" fill-opacity="0.6"/>
<circle cx="163.5" cy="74.8" r="1.4" fill="#8575C8" fill-opacity="0.6"/>
<rect x="152.5" y="77.3" width="14.0" height="2.4" rx="1.2" fill="#8575C8" fill-opacity="0.48"/>
<circle cx="153.2" cy="78.7" r="1.25" fill="#8575C8" fill-opacity="0.45"/>
<circle cx="155.1" cy="78.5" r="1.25" fill="#8575C8" fill-opacity="0.45"/>
<circle cx="158.5" cy="78.2" r="1.25" fill="#8575C8" fill-opacity="0.45"/>
<circle cx="161.1" cy="78.3" r="1.25" fill="#8575C8" fill-opacity="0.45"/>
<circle cx="163.5" cy="78.5" r="1.25" fill="#8575C8" fill-opacity="0.45"/>
<circle cx="166.1" cy="78.4" r="1.25" fill="#8575C8" fill-opacity="0.45"/>
<circle cx="160.9" cy="82.0" r="1.4" fill="#8575C8" fill-opacity="0.6"/>
<circle cx="158.9" cy="85.6" r="1.4" fill="#8575C8" fill-opacity="0.6"/>
<rect x="152.5" y="88.3" width="13.0" height="2.4" rx="1.2" fill="#8575C8" fill-opacity="0.48"/>
<circle cx="152.9" cy="89.5" r="1.25" fill="#8575C8" fill-opacity="0.45"/>
<circle cx="153.6" cy="89.6" r="1.25" fill="#8575C8" fill-opacity="0.45"/>
<circle cx="155.2" cy="89.3" r="1.25" fill="#8575C8" fill-opacity="0.45"/>
<circle cx="156.5" cy="89.7" r="1.25" fill="#8575C8" fill-opacity="0.45"/>
<circle cx="157.3" cy="89.3" r="1.25" fill="#8575C8" fill-opacity="0.45"/>
<circle cx="158.4" cy="89.3" r="1.25" fill="#8575C8" fill-opacity="0.45"/>
<circle cx="159.2" cy="89.5" r="1.25" fill="#8575C8" fill-opacity="0.45"/>
<circle cx="160.2" cy="89.5" r="1.25" fill="#8575C8" fill-opacity="0.45"/>
<circle cx="161.7" cy="89.2" r="1.25" fill="#8575C8" fill-opacity="0.45"/>
<circle cx="163.0" cy="89.2" r="1.25" fill="#8575C8" fill-opacity="0.45"/>
<circle cx="164.1" cy="89.7" r="1.25" fill="#8575C8" fill-opacity="0.45"/>
<circle cx="165.0" cy="89.2" r="1.25" fill="#8575C8" fill-opacity="0.45"/>
<circle cx="154.0" cy="98.9" r="1.4" fill="#8575C8" fill-opacity="0.6"/>
<circle cx="157.5" cy="98.8" r="1.4" fill="#8575C8" fill-opacity="0.6"/>
<circle cx="160.4" cy="99.3" r="1.4" fill="#8575C8" fill-opacity="0.6"/>
<circle cx="154.3" cy="101.7" r="1.4" fill="#8575C8" fill-opacity="0.6"/>
<circle cx="162.6" cy="113.3" r="1.4" fill="#8575C8" fill-opacity="0.6"/>
<circle cx="163.5" cy="113.3" r="1.4" fill="#8575C8" fill-opacity="0.6"/>
<circle cx="157.1" cy="123.3" r="1.4" fill="#8575C8" fill-opacity="0.6"/>
<circle cx="161.3" cy="123.8" r="1.4" fill="#8575C8" fill-opacity="0.6"/>
<circle cx="164.5" cy="123.4" r="1.4" fill="#8575C8" fill-opacity="0.6"/>
<circle cx="163.9" cy="132.8" r="1.4" fill="#8575C8" fill-opacity="0.6"/>
<circle cx="157.5" cy="153.9" r="1.4" fill="#8575C8" fill-opacity="0.6"/>
<circle cx="190.1" cy="22.4" r="1.4" fill="#EE4E38" fill-opacity="0.66"/>
<circle cx="195.1" cy="18.0" r="1.4" fill="#EE4E38" fill-opacity="0.66"/>
<circle cx="190.1" cy="22.3" r="1.4" fill="#EE4E38" fill-opacity="0.66"/>
<circle cx="187.9" cy="25.6" r="1.4" fill="#EE4E38" fill-opacity="0.66"/>
<circle cx="186.0" cy="24.8" r="1.4" fill="#EE4E38" fill-opacity="0.66"/>
<circle cx="195.3" cy="22.0" r="1.4" fill="#EE4E38" fill-opacity="0.66"/>
<circle cx="186.1" cy="15.6" r="1.4" fill="#EE4E38" fill-opacity="0.66"/>
<circle cx="190.4" cy="21.7" r="1.4" fill="#EE4E38" fill-opacity="0.66"/>
<circle cx="191.7" cy="18.2" r="1.4" fill="#EE4E38" fill-opacity="0.66"/>
<circle cx="190.7" cy="13.3" r="1.4" fill="#EE4E38" fill-opacity="0.66"/>
<circle cx="191.0" cy="30.5" r="1.4" fill="#EE4E38" fill-opacity="0.66"/>
<circle cx="196.0" cy="23.2" r="1.4" fill="#EE4E38" fill-opacity="0.66"/>
<circle cx="191.6" cy="19.2" r="1.4" fill="#EE4E38" fill-opacity="0.66"/>
<circle cx="187.2" cy="12.7" r="1.4" fill="#EE4E38" fill-opacity="0.66"/>
<circle cx="195.9" cy="27.7" r="1.4" fill="#EE4E38" fill-opacity="0.66"/>
<circle cx="193.2" cy="16.1" r="1.4" fill="#EE4E38" fill-opacity="0.66"/>
<circle cx="189.3" cy="18.5" r="1.4" fill="#EE4E38" fill-opacity="0.66"/>
<circle cx="184.6" cy="25.5" r="1.4" fill="#EE4E38" fill-opacity="0.66"/>
<circle cx="193.9" cy="30.0" r="1.4" fill="#EE4E38" fill-opacity="0.66"/>
<circle cx="195.8" cy="20.9" r="1.4" fill="#EE4E38" fill-opacity="0.66"/>
<circle cx="191.1" cy="29.7" r="1.4" fill="#EE4E38" fill-opacity="0.66"/>
<circle cx="184.1" cy="18.4" r="1.4" fill="#EE4E38" fill-opacity="0.66"/>
<circle cx="184.4" cy="16.6" r="1.4" fill="#EE4E38" fill-opacity="0.66"/>
<circle cx="189.2" cy="26.0" r="1.4" fill="#EE4E38" fill-opacity="0.66"/>
<circle cx="190.2" cy="27.8" r="1.4" fill="#EE4E38" fill-opacity="0.66"/>
<circle cx="186.8" cy="23.6" r="1.4" fill="#EE4E38" fill-opacity="0.66"/>
<circle cx="191.9" cy="19.2" r="1.4" fill="#EE4E38" fill-opacity="0.66"/>
<circle cx="188.3" cy="21.5" r="1.4" fill="#EE4E38" fill-opacity="0.66"/>
<circle cx="185.3" cy="21.2" r="1.4" fill="#EE4E38" fill-opacity="0.66"/>
<circle cx="191.0" cy="18.4" r="1.4" fill="#EE4E38" fill-opacity="0.66"/>
<circle cx="191.1" cy="24.4" r="1.4" fill="#EE4E38" fill-opacity="0.66"/>
<circle cx="189.7" cy="23.5" r="1.4" fill="#EE4E38" fill-opacity="0.66"/>
<circle cx="185.7" cy="29.1" r="1.4" fill="#EE4E38" fill-opacity="0.66"/>
<circle cx="185.8" cy="25.2" r="1.4" fill="#EE4E38" fill-opacity="0.66"/>
<circle cx="185.2" cy="19.4" r="1.4" fill="#EE4E38" fill-opacity="0.66"/>
<circle cx="193.4" cy="13.3" r="1.4" fill="#EE4E38" fill-opacity="0.66"/>
<circle cx="188.9" cy="11.8" r="1.4" fill="#EE4E38" fill-opacity="0.66"/>
<circle cx="191.8" cy="21.0" r="1.4" fill="#EE4E38" fill-opacity="0.66"/>
<circle cx="190.8" cy="22.0" r="1.4" fill="#EE4E38" fill-opacity="0.66"/>
<circle cx="189.4" cy="16.0" r="1.4" fill="#EE4E38" fill-opacity="0.66"/>
<circle cx="195.3" cy="28.1" r="1.4" fill="#EE4E38" fill-opacity="0.66"/>
<circle cx="194.9" cy="20.6" r="1.4" fill="#EE4E38" fill-opacity="0.66"/>
<circle cx="184.6" cy="16.6" r="1.4" fill="#EE4E38" fill-opacity="0.66"/>
<circle cx="186.9" cy="15.1" r="1.4" fill="#EE4E38" fill-opacity="0.66"/>
<circle cx="184.7" cy="19.9" r="1.4" fill="#EE4E38" fill-opacity="0.66"/>
<circle cx="190.7" cy="21.3" r="1.4" fill="#EE4E38" fill-opacity="0.66"/>
<circle cx="195.3" cy="20.2" r="1.4" fill="#EE4E38" fill-opacity="0.66"/>
<circle cx="191.3" cy="23.6" r="1.4" fill="#EE4E38" fill-opacity="0.66"/>
<circle cx="190.1" cy="24.2" r="1.4" fill="#EE4E38" fill-opacity="0.66"/>
<circle cx="186.1" cy="14.2" r="1.4" fill="#EE4E38" fill-opacity="0.66"/>
<circle cx="187.8" cy="12.6" r="1.4" fill="#EE4E38" fill-opacity="0.66"/>
<circle cx="194.7" cy="20.5" r="1.4" fill="#EE4E38" fill-opacity="0.66"/>
<circle cx="193.4" cy="22.9" r="1.4" fill="#EE4E38" fill-opacity="0.66"/>
<circle cx="194.2" cy="21.0" r="1.4" fill="#EE4E38" fill-opacity="0.66"/>
<circle cx="193.0" cy="20.4" r="1.4" fill="#EE4E38" fill-opacity="0.66"/>
<circle cx="189.5" cy="11.5" r="1.4" fill="#EE4E38" fill-opacity="0.66"/>
<circle cx="186.8" cy="23.2" r="1.4" fill="#EE4E38" fill-opacity="0.66"/>
<circle cx="184.5" cy="24.5" r="1.4" fill="#EE4E38" fill-opacity="0.66"/>
<circle cx="188.1" cy="23.8" r="1.4" fill="#EE4E38" fill-opacity="0.66"/>
<circle cx="194.2" cy="21.1" r="1.4" fill="#EE4E38" fill-opacity="0.66"/>
<circle cx="192.6" cy="11.9" r="1.4" fill="#EE4E38" fill-opacity="0.66"/>
<circle cx="189.3" cy="20.3" r="1.4" fill="#EE4E38" fill-opacity="0.66"/>
<circle cx="193.5" cy="28.7" r="1.4" fill="#EE4E38" fill-opacity="0.66"/>
<circle cx="191.7" cy="16.4" r="1.4" fill="#EE4E38" fill-opacity="0.66"/>
<circle cx="195.6" cy="20.4" r="1.4" fill="#EE4E38" fill-opacity="0.66"/>
<circle cx="184.2" cy="23.6" r="1.4" fill="#EE4E38" fill-opacity="0.66"/>
<circle cx="187.2" cy="33.2" r="1.4" fill="#EE4E38" fill-opacity="0.66"/>
<circle cx="195.4" cy="22.0" r="1.4" fill="#EE4E38" fill-opacity="0.66"/>
<circle cx="193.0" cy="31.0" r="1.4" fill="#EE4E38" fill-opacity="0.66"/>
<circle cx="188.0" cy="15.4" r="1.4" fill="#EE4E38" fill-opacity="0.66"/>
<circle cx="186.9" cy="32.0" r="1.4" fill="#EE4E38" fill-opacity="0.66"/>
<circle cx="192.4" cy="28.2" r="1.4" fill="#EE4E38" fill-opacity="0.66"/>
<circle cx="192.0" cy="16.5" r="1.4" fill="#EE4E38" fill-opacity="0.66"/>
<circle cx="194.1" cy="27.8" r="1.4" fill="#EE4E38" fill-opacity="0.66"/>
<circle cx="192.4" cy="20.2" r="1.4" fill="#EE4E38" fill-opacity="0.66"/>
<circle cx="192.7" cy="25.1" r="1.4" fill="#EE4E38" fill-opacity="0.66"/>
<circle cx="190.9" cy="16.1" r="1.4" fill="#EE4E38" fill-opacity="0.66"/>
<circle cx="191.5" cy="19.6" r="1.4" fill="#EE4E38" fill-opacity="0.66"/>
<circle cx="185.0" cy="25.0" r="1.4" fill="#EE4E38" fill-opacity="0.66"/>
<circle cx="184.4" cy="23.9" r="1.4" fill="#EE4E38" fill-opacity="0.66"/>
<circle cx="185.3" cy="19.3" r="1.4" fill="#EE4E38" fill-opacity="0.66"/>
<circle cx="185.7" cy="26.1" r="1.4" fill="#EE4E38" fill-opacity="0.66"/>
<circle cx="184.4" cy="18.7" r="1.4" fill="#EE4E38" fill-opacity="0.66"/>
<circle cx="191.6" cy="30.0" r="1.4" fill="#EE4E38" fill-opacity="0.66"/>
<circle cx="192.4" cy="23.5" r="1.4" fill="#EE4E38" fill-opacity="0.66"/>
<circle cx="191.1" cy="20.9" r="1.4" fill="#EE4E38" fill-opacity="0.66"/>
<circle cx="188.4" cy="18.9" r="1.4" fill="#EE4E38" fill-opacity="0.66"/>
<circle cx="194.7" cy="25.7" r="1.4" fill="#EE4E38" fill-opacity="0.66"/>
<circle cx="184.8" cy="11.0" r="1.4" fill="#EE4E38" fill-opacity="0.66"/>
<circle cx="195.4" cy="30.1" r="1.4" fill="#EE4E38" fill-opacity="0.66"/>
<circle cx="203.0" cy="11.3" r="1.4" fill="#1592C9" fill-opacity="0.66"/>
<circle cx="202.2" cy="21.9" r="1.4" fill="#1592C9" fill-opacity="0.66"/>
<circle cx="211.9" cy="23.9" r="1.4" fill="#1592C9" fill-opacity="0.66"/>
<circle cx="211.6" cy="24.3" r="1.4" fill="#1592C9" fill-opacity="0.66"/>
<circle cx="209.3" cy="13.2" r="1.4" fill="#1592C9" fill-opacity="0.66"/>
<circle cx="202.9" cy="20.5" r="1.4" fill="#1592C9" fill-opacity="0.66"/>
<circle cx="210.8" cy="23.8" r="1.4" fill="#1592C9" fill-opacity="0.66"/>
<circle cx="206.8" cy="22.6" r="1.4" fill="#1592C9" fill-opacity="0.66"/>
<circle cx="202.0" cy="26.2" r="1.4" fill="#1592C9" fill-opacity="0.66"/>
<circle cx="210.3" cy="20.9" r="1.4" fill="#1592C9" fill-opacity="0.66"/>
<circle cx="206.2" cy="26.0" r="1.4" fill="#1592C9" fill-opacity="0.66"/>
<circle cx="207.8" cy="14.4" r="1.4" fill="#1592C9" fill-opacity="0.66"/>
<circle cx="212.0" cy="35.1" r="1.4" fill="#1592C9" fill-opacity="0.66"/>
<circle cx="206.7" cy="20.0" r="1.4" fill="#1592C9" fill-opacity="0.66"/>
<circle cx="207.0" cy="20.1" r="1.4" fill="#1592C9" fill-opacity="0.66"/>
<circle cx="210.2" cy="21.9" r="1.4" fill="#1592C9" fill-opacity="0.66"/>
<circle cx="208.2" cy="15.6" r="1.4" fill="#1592C9" fill-opacity="0.66"/>
<circle cx="202.8" cy="23.6" r="1.4" fill="#1592C9" fill-opacity="0.66"/>
<circle cx="211.6" cy="32.8" r="1.4" fill="#1592C9" fill-opacity="0.66"/>
<circle cx="204.2" cy="21.2" r="1.4" fill="#1592C9" fill-opacity="0.66"/>
<circle cx="210.9" cy="21.4" r="1.4" fill="#1592C9" fill-opacity="0.66"/>
<circle cx="207.6" cy="21.7" r="1.4" fill="#1592C9" fill-opacity="0.66"/>
<circle cx="207.6" cy="21.0" r="1.4" fill="#1592C9" fill-opacity="0.66"/>
<circle cx="207.7" cy="22.2" r="1.4" fill="#1592C9" fill-opacity="0.66"/>
<circle cx="205.9" cy="17.4" r="1.4" fill="#1592C9" fill-opacity="0.66"/>
<circle cx="213.1" cy="23.4" r="1.4" fill="#1592C9" fill-opacity="0.66"/>
<circle cx="205.1" cy="17.0" r="1.4" fill="#1592C9" fill-opacity="0.66"/>
<circle cx="207.7" cy="23.1" r="1.4" fill="#1592C9" fill-opacity="0.66"/>
<circle cx="203.1" cy="30.2" r="1.4" fill="#1592C9" fill-opacity="0.66"/>
<circle cx="211.2" cy="19.5" r="1.4" fill="#1592C9" fill-opacity="0.66"/>
<circle cx="210.1" cy="19.2" r="1.4" fill="#1592C9" fill-opacity="0.66"/>
<circle cx="206.0" cy="23.0" r="1.4" fill="#1592C9" fill-opacity="0.66"/>
<circle cx="206.6" cy="12.9" r="1.4" fill="#1592C9" fill-opacity="0.66"/>
<circle cx="202.8" cy="11.2" r="1.4" fill="#1592C9" fill-opacity="0.66"/>
<circle cx="212.4" cy="28.9" r="1.4" fill="#1592C9" fill-opacity="0.66"/>
<circle cx="204.9" cy="25.1" r="1.4" fill="#1592C9" fill-opacity="0.66"/>
<circle cx="212.6" cy="21.7" r="1.4" fill="#1592C9" fill-opacity="0.66"/>
<circle cx="212.3" cy="15.2" r="1.4" fill="#1592C9" fill-opacity="0.66"/>
<circle cx="204.5" cy="21.1" r="1.4" fill="#1592C9" fill-opacity="0.66"/>
<circle cx="210.8" cy="13.9" r="1.4" fill="#1592C9" fill-opacity="0.66"/>
<circle cx="210.8" cy="22.9" r="1.4" fill="#1592C9" fill-opacity="0.66"/>
<circle cx="205.7" cy="17.7" r="1.4" fill="#1592C9" fill-opacity="0.66"/>
<circle cx="203.6" cy="16.7" r="1.4" fill="#1592C9" fill-opacity="0.66"/>
<circle cx="210.6" cy="26.0" r="1.4" fill="#1592C9" fill-opacity="0.66"/>
<circle cx="203.8" cy="13.7" r="1.4" fill="#1592C9" fill-opacity="0.66"/>
<circle cx="208.7" cy="11.5" r="1.4" fill="#1592C9" fill-opacity="0.66"/>
<circle cx="203.3" cy="25.0" r="1.4" fill="#1592C9" fill-opacity="0.66"/>
<circle cx="204.6" cy="24.1" r="1.4" fill="#1592C9" fill-opacity="0.66"/>
<circle cx="210.2" cy="22.9" r="1.4" fill="#1592C9" fill-opacity="0.66"/>
<circle cx="211.9" cy="25.8" r="1.4" fill="#1592C9" fill-opacity="0.66"/>
<circle cx="204.7" cy="23.1" r="1.4" fill="#1592C9" fill-opacity="0.66"/>
<circle cx="205.7" cy="24.0" r="1.4" fill="#1592C9" fill-opacity="0.66"/>
<circle cx="205.7" cy="17.6" r="1.4" fill="#1592C9" fill-opacity="0.66"/>
<circle cx="204.0" cy="20.6" r="1.4" fill="#1592C9" fill-opacity="0.66"/>
<circle cx="203.0" cy="30.7" r="1.4" fill="#1592C9" fill-opacity="0.66"/>
<circle cx="213.3" cy="19.6" r="1.4" fill="#1592C9" fill-opacity="0.66"/>
<circle cx="213.5" cy="25.8" r="1.4" fill="#1592C9" fill-opacity="0.66"/>
<circle cx="211.3" cy="24.6" r="1.4" fill="#1592C9" fill-opacity="0.66"/>
<circle cx="204.1" cy="20.4" r="1.4" fill="#1592C9" fill-opacity="0.66"/>
<circle cx="209.4" cy="14.7" r="1.4" fill="#1592C9" fill-opacity="0.66"/>
<circle cx="206.4" cy="24.3" r="1.4" fill="#1592C9" fill-opacity="0.66"/>
<circle cx="202.1" cy="23.6" r="1.4" fill="#1592C9" fill-opacity="0.66"/>
<circle cx="210.1" cy="12.5" r="1.4" fill="#1592C9" fill-opacity="0.66"/>
<circle cx="207.7" cy="27.4" r="1.4" fill="#1592C9" fill-opacity="0.66"/>
<circle cx="203.4" cy="16.6" r="1.4" fill="#1592C9" fill-opacity="0.66"/>
<circle cx="209.0" cy="16.2" r="1.4" fill="#1592C9" fill-opacity="0.66"/>
<circle cx="212.6" cy="13.0" r="1.4" fill="#1592C9" fill-opacity="0.66"/>
<circle cx="206.9" cy="26.7" r="1.4" fill="#1592C9" fill-opacity="0.66"/>
<circle cx="206.8" cy="12.2" r="1.4" fill="#1592C9" fill-opacity="0.66"/>
<circle cx="204.5" cy="16.6" r="1.4" fill="#1592C9" fill-opacity="0.66"/>
<circle cx="211.0" cy="19.0" r="1.4" fill="#1592C9" fill-opacity="0.66"/>
<circle cx="209.9" cy="17.5" r="1.4" fill="#1592C9" fill-opacity="0.66"/>
<circle cx="205.5" cy="16.9" r="1.4" fill="#1592C9" fill-opacity="0.66"/>
<circle cx="209.3" cy="16.0" r="1.4" fill="#1592C9" fill-opacity="0.66"/>
<circle cx="211.1" cy="26.2" r="1.4" fill="#1592C9" fill-opacity="0.66"/>
<circle cx="210.3" cy="24.7" r="1.4" fill="#1592C9" fill-opacity="0.66"/>
<circle cx="206.8" cy="18.0" r="1.4" fill="#1592C9" fill-opacity="0.66"/>
<circle cx="207.2" cy="17.8" r="1.4" fill="#1592C9" fill-opacity="0.66"/>
<circle cx="209.8" cy="16.7" r="1.4" fill="#1592C9" fill-opacity="0.66"/>
<circle cx="212.9" cy="16.8" r="1.4" fill="#1592C9" fill-opacity="0.66"/>
<circle cx="211.1" cy="24.7" r="1.4" fill="#1592C9" fill-opacity="0.66"/>
<circle cx="206.4" cy="29.1" r="1.4" fill="#1592C9" fill-opacity="0.66"/>
<circle cx="202.2" cy="22.1" r="1.4" fill="#1592C9" fill-opacity="0.66"/>
<circle cx="211.1" cy="17.7" r="1.4" fill="#1592C9" fill-opacity="0.66"/>
<circle cx="213.0" cy="20.1" r="1.4" fill="#1592C9" fill-opacity="0.66"/>
<circle cx="208.6" cy="18.4" r="1.4" fill="#1592C9" fill-opacity="0.66"/>
<circle cx="208.2" cy="20.8" r="1.4" fill="#1592C9" fill-opacity="0.66"/>
<circle cx="209.4" cy="19.6" r="1.4" fill="#1592C9" fill-opacity="0.66"/>
<circle cx="211.7" cy="14.1" r="1.4" fill="#1592C9" fill-opacity="0.66"/>
<circle cx="213.1" cy="15.0" r="1.4" fill="#1592C9" fill-opacity="0.66"/>
<circle cx="219.7" cy="10.4" r="1.4" fill="#8575C8" fill-opacity="0.6"/>
<circle cx="221.4" cy="10.5" r="1.4" fill="#8575C8" fill-opacity="0.6"/>
<circle cx="222.5" cy="10.6" r="1.4" fill="#8575C8" fill-opacity="0.6"/>
<circle cx="225.3" cy="10.0" r="1.4" fill="#8575C8" fill-opacity="0.6"/>
<circle cx="227.7" cy="10.2" r="1.4" fill="#8575C8" fill-opacity="0.6"/>
<circle cx="229.9" cy="10.3" r="1.4" fill="#8575C8" fill-opacity="0.6"/>
<rect x="222.5" y="19.8" width="8.8" height="2.4" rx="1.2" fill="#8575C8" fill-opacity="0.48"/>
<circle cx="222.9" cy="21.1" r="1.25" fill="#8575C8" fill-opacity="0.45"/>
<circle cx="224.8" cy="20.9" r="1.25" fill="#8575C8" fill-opacity="0.45"/>
<circle cx="226.6" cy="21.1" r="1.25" fill="#8575C8" fill-opacity="0.45"/>
<circle cx="229.3" cy="21.0" r="1.25" fill="#8575C8" fill-opacity="0.45"/>
<circle cx="230.5" cy="21.2" r="1.25" fill="#8575C8" fill-opacity="0.45"/>
<circle cx="221.9" cy="29.8" r="1.4" fill="#8575C8" fill-opacity="0.6"/>
<circle cx="227.6" cy="33.2" r="1.4" fill="#8575C8" fill-opacity="0.6"/>
<circle cx="229.4" cy="41.1" r="1.4" fill="#8575C8" fill-opacity="0.6"/>
<rect x="219.5" y="43.0" width="12.0" height="2.4" rx="1.2" fill="#8575C8" fill-opacity="0.48"/>
<circle cx="220.0" cy="44.2" r="1.25" fill="#8575C8" fill-opacity="0.45"/>
<circle cx="221.1" cy="44.5" r="1.25" fill="#8575C8" fill-opacity="0.45"/>
<circle cx="222.6" cy="44.3" r="1.25" fill="#8575C8" fill-opacity="0.45"/>
<circle cx="224.4" cy="44.4" r="1.25" fill="#8575C8" fill-opacity="0.45"/>
<circle cx="225.5" cy="44.1" r="1.25" fill="#8575C8" fill-opacity="0.45"/>
<circle cx="226.9" cy="44.0" r="1.25" fill="#8575C8" fill-opacity="0.45"/>
<circle cx="228.6" cy="44.1" r="1.25" fill="#8575C8" fill-opacity="0.45"/>
<circle cx="230.0" cy="44.1" r="1.25" fill="#8575C8" fill-opacity="0.45"/>
<circle cx="230.9" cy="44.1" r="1.25" fill="#8575C8" fill-opacity="0.45"/>
<rect x="220.5" y="53.8" width="11.0" height="2.4" rx="1.2" fill="#8575C8" fill-opacity="0.48"/>
<circle cx="220.9" cy="54.8" r="1.25" fill="#8575C8" fill-opacity="0.45"/>
<circle cx="221.9" cy="55.1" r="1.25" fill="#8575C8" fill-opacity="0.45"/>
<circle cx="223.6" cy="54.8" r="1.25" fill="#8575C8" fill-opacity="0.45"/>
<circle cx="225.1" cy="55.0" r="1.25" fill="#8575C8" fill-opacity="0.45"/>
<circle cx="226.6" cy="55.1" r="1.25" fill="#8575C8" fill-opacity="0.45"/>
<circle cx="228.3" cy="54.9" r="1.25" fill="#8575C8" fill-opacity="0.45"/>
<circle cx="230.0" cy="55.2" r="1.25" fill="#8575C8" fill-opacity="0.45"/>
<circle cx="230.6" cy="55.2" r="1.25" fill="#8575C8" fill-opacity="0.45"/>
<circle cx="222.5" cy="63.2" r="1.4" fill="#8575C8" fill-opacity="0.6"/>
<circle cx="220.6" cy="66.7" r="1.4" fill="#8575C8" fill-opacity="0.6"/>
<circle cx="222.6" cy="70.7" r="1.4" fill="#8575C8" fill-opacity="0.6"/>
<circle cx="218.4" cy="75.8" r="1.4" fill="#8575C8" fill-opacity="0.6"/>
<circle cx="221.7" cy="75.4" r="1.4" fill="#8575C8" fill-opacity="0.6"/>
<circle cx="223.5" cy="75.3" r="1.4" fill="#8575C8" fill-opacity="0.6"/>
<rect x="218.5" y="77.3" width="13.0" height="2.4" rx="1.2" fill="#8575C8" fill-opacity="0.48"/>
<circle cx="218.7" cy="78.7" r="1.25" fill="#8575C8" fill-opacity="0.45"/>
<circle cx="220.3" cy="78.3" r="1.25" fill="#8575C8" fill-opacity="0.45"/>
<circle cx="222.4" cy="78.7" r="1.25" fill="#8575C8" fill-opacity="0.45"/>
<circle cx="223.2" cy="78.7" r="1.25" fill="#8575C8" fill-opacity="0.45"/>
<circle cx="225.1" cy="78.7" r="1.25" fill="#8575C8" fill-opacity="0.45"/>
<circle cx="226.7" cy="78.7" r="1.25" fill="#8575C8" fill-opacity="0.45"/>
<circle cx="228.3" cy="78.7" r="1.25" fill="#8575C8" fill-opacity="0.45"/>
<circle cx="229.2" cy="78.6" r="1.25" fill="#8575C8" fill-opacity="0.45"/>
<circle cx="231.0" cy="78.6" r="1.25" fill="#8575C8" fill-opacity="0.45"/>
<circle cx="229.9" cy="82.2" r="1.4" fill="#8575C8" fill-opacity="0.6"/>
<rect x="218.5" y="88.3" width="13.0" height="2.4" rx="1.2" fill="#8575C8" fill-opacity="0.48"/>
<circle cx="219.1" cy="89.4" r="1.25" fill="#8575C8" fill-opacity="0.45"/>
<circle cx="220.1" cy="89.3" r="1.25" fill="#8575C8" fill-opacity="0.45"/>
<circle cx="221.7" cy="89.2" r="1.25" fill="#8575C8" fill-opacity="0.45"/>
<circle cx="223.0" cy="89.3" r="1.25" fill="#8575C8" fill-opacity="0.45"/>
<circle cx="224.3" cy="89.5" r="1.25" fill="#8575C8" fill-opacity="0.45"/>
<circle cx="225.7" cy="89.7" r="1.25" fill="#8575C8" fill-opacity="0.45"/>
<circle cx="226.5" cy="89.7" r="1.25" fill="#8575C8" fill-opacity="0.45"/>
<circle cx="228.3" cy="89.5" r="1.25" fill="#8575C8" fill-opacity="0.45"/>
<circle cx="229.8" cy="89.7" r="1.25" fill="#8575C8" fill-opacity="0.45"/>
<circle cx="230.9" cy="89.5" r="1.25" fill="#8575C8" fill-opacity="0.45"/>
<circle cx="221.1" cy="100.2" r="1.4" fill="#8575C8" fill-opacity="0.6"/>
<circle cx="230.8" cy="102.6" r="1.4" fill="#8575C8" fill-opacity="0.6"/>
<rect x="218.5" y="111.8" width="15.0" height="2.4" rx="1.2" fill="#8575C8" fill-opacity="0.48"/>
<circle cx="218.5" cy="113.1" r="1.25" fill="#8575C8" fill-opacity="0.45"/>
<circle cx="221.2" cy="113.3" r="1.25" fill="#8575C8" fill-opacity="0.45"/>
<circle cx="222.8" cy="113.3" r="1.25" fill="#8575C8" fill-opacity="0.45"/>
<circle cx="225.0" cy="113.0" r="1.25" fill="#8575C8" fill-opacity="0.45"/>
<circle cx="227.4" cy="112.7" r="1.25" fill="#8575C8" fill-opacity="0.45"/>
<circle cx="229.2" cy="113.1" r="1.25" fill="#8575C8" fill-opacity="0.45"/>
<circle cx="230.8" cy="113.2" r="1.25" fill="#8575C8" fill-opacity="0.45"/>
<circle cx="232.9" cy="113.0" r="1.25" fill="#8575C8" fill-opacity="0.45"/>
<circle cx="221.0" cy="123.7" r="1.4" fill="#8575C8" fill-opacity="0.6"/>
<circle cx="223.7" cy="123.5" r="1.4" fill="#8575C8" fill-opacity="0.6"/>
<circle cx="226.9" cy="123.5" r="1.4" fill="#8575C8" fill-opacity="0.6"/>
<circle cx="230.4" cy="123.4" r="1.4" fill="#8575C8" fill-opacity="0.6"/>
<circle cx="259.7" cy="46.0" r="1.4" fill="#EE4E38" fill-opacity="0.66"/>
<circle cx="253.1" cy="38.9" r="1.4" fill="#EE4E38" fill-opacity="0.66"/>
<circle cx="255.9" cy="52.9" r="1.4" fill="#EE4E38" fill-opacity="0.66"/>
<circle cx="259.3" cy="59.4" r="1.4" fill="#EE4E38" fill-opacity="0.66"/>
<circle cx="253.8" cy="45.3" r="1.4" fill="#EE4E38" fill-opacity="0.66"/>
<circle cx="256.8" cy="44.3" r="1.4" fill="#EE4E38" fill-opacity="0.66"/>
<circle cx="257.4" cy="53.7" r="1.4" fill="#EE4E38" fill-opacity="0.66"/>
<circle cx="258.5" cy="47.7" r="1.4" fill="#EE4E38" fill-opacity="0.66"/>
<circle cx="260.4" cy="44.8" r="1.4" fill="#EE4E38" fill-opacity="0.66"/>
<circle cx="253.4" cy="44.6" r="1.4" fill="#EE4E38" fill-opacity="0.66"/>
<circle cx="249.9" cy="46.4" r="1.4" fill="#EE4E38" fill-opacity="0.66"/>
<circle cx="257.1" cy="54.3" r="1.4" fill="#EE4E38" fill-opacity="0.66"/>
<circle cx="260.7" cy="39.0" r="1.4" fill="#EE4E38" fill-opacity="0.66"/>
<circle cx="257.2" cy="34.6" r="1.4" fill="#EE4E38" fill-opacity="0.66"/>
<circle cx="258.2" cy="38.3" r="1.4" fill="#EE4E38" fill-opacity="0.66"/>
<circle cx="257.0" cy="39.2" r="1.4" fill="#EE4E38" fill-opacity="0.66"/>
<circle cx="257.8" cy="44.7" r="1.4" fill="#EE4E38" fill-opacity="0.66"/>
<circle cx="255.3" cy="41.9" r="1.4" fill="#EE4E38" fill-opacity="0.66"/>
<circle cx="252.0" cy="47.5" r="1.4" fill="#EE4E38" fill-opacity="0.66"/>
<circle cx="250.3" cy="43.3" r="1.4" fill="#EE4E38" fill-opacity="0.66"/>
<circle cx="257.7" cy="50.1" r="1.4" fill="#EE4E38" fill-opacity="0.66"/>
<circle cx="254.2" cy="28.6" r="1.4" fill="#EE4E38" fill-opacity="0.66"/>
<circle cx="256.6" cy="53.8" r="1.4" fill="#EE4E38" fill-opacity="0.66"/>
<circle cx="252.9" cy="33.8" r="1.4" fill="#EE4E38" fill-opacity="0.66"/>
<circle cx="253.6" cy="44.3" r="1.4" fill="#EE4E38" fill-opacity="0.66"/>
<circle cx="255.0" cy="55.6" r="1.4" fill="#EE4E38" fill-opacity="0.66"/>
<circle cx="250.5" cy="34.7" r="1.4" fill="#EE4E38" fill-opacity="0.66"/>
<circle cx="256.6" cy="31.8" r="1.4" fill="#EE4E38" fill-opacity="0.66"/>
<circle cx="259.5" cy="51.3" r="1.4" fill="#EE4E38" fill-opacity="0.66"/>
<circle cx="256.7" cy="48.2" r="1.4" fill="#EE4E38" fill-opacity="0.66"/>
<circle cx="250.0" cy="55.3" r="1.4" fill="#EE4E38" fill-opacity="0.66"/>
<circle cx="254.5" cy="42.7" r="1.4" fill="#EE4E38" fill-opacity="0.66"/>
<circle cx="261.6" cy="30.4" r="1.4" fill="#EE4E38" fill-opacity="0.66"/>
<circle cx="255.5" cy="36.3" r="1.4" fill="#EE4E38" fill-opacity="0.66"/>
<circle cx="257.5" cy="43.8" r="1.4" fill="#EE4E38" fill-opacity="0.66"/>
<circle cx="252.4" cy="49.3" r="1.4" fill="#EE4E38" fill-opacity="0.66"/>
<circle cx="249.9" cy="48.1" r="1.4" fill="#EE4E38" fill-opacity="0.66"/>
<circle cx="258.0" cy="48.4" r="1.4" fill="#EE4E38" fill-opacity="0.66"/>
<circle cx="251.4" cy="61.8" r="1.4" fill="#EE4E38" fill-opacity="0.66"/>
<circle cx="250.0" cy="56.2" r="1.4" fill="#EE4E38" fill-opacity="0.66"/>
<circle cx="258.6" cy="46.0" r="1.4" fill="#EE4E38" fill-opacity="0.66"/>
<circle cx="252.1" cy="41.0" r="1.4" fill="#EE4E38" fill-opacity="0.66"/>
<circle cx="258.4" cy="61.1" r="1.4" fill="#EE4E38" fill-opacity="0.66"/>
<circle cx="260.1" cy="51.7" r="1.4" fill="#EE4E38" fill-opacity="0.66"/>
<circle cx="257.4" cy="46.7" r="1.4" fill="#EE4E38" fill-opacity="0.66"/>
<circle cx="258.3" cy="43.7" r="1.4" fill="#EE4E38" fill-opacity="0.66"/>
<circle cx="252.9" cy="28.1" r="1.4" fill="#EE4E38" fill-opacity="0.66"/>
<circle cx="261.4" cy="52.0" r="1.4" fill="#EE4E38" fill-opacity="0.66"/>
<circle cx="250.0" cy="46.9" r="1.4" fill="#EE4E38" fill-opacity="0.66"/>
<circle cx="257.6" cy="45.9" r="1.4" fill="#EE4E38" fill-opacity="0.66"/>
<circle cx="253.5" cy="48.6" r="1.4" fill="#EE4E38" fill-opacity="0.66"/>
<circle cx="258.6" cy="44.0" r="1.4" fill="#EE4E38" fill-opacity="0.66"/>
<circle cx="255.6" cy="55.7" r="1.4" fill="#EE4E38" fill-opacity="0.66"/>
<circle cx="250.5" cy="61.8" r="1.4" fill="#EE4E38" fill-opacity="0.66"/>
<circle cx="255.1" cy="39.7" r="1.4" fill="#EE4E38" fill-opacity="0.66"/>
<circle cx="257.9" cy="55.4" r="1.4" fill="#EE4E38" fill-opacity="0.66"/>
<circle cx="254.2" cy="56.5" r="1.4" fill="#EE4E38" fill-opacity="0.66"/>
<circle cx="257.5" cy="59.2" r="1.4" fill="#EE4E38" fill-opacity="0.66"/>
<circle cx="254.4" cy="41.1" r="1.4" fill="#EE4E38" fill-opacity="0.66"/>
<circle cx="259.2" cy="40.8" r="1.4" fill="#EE4E38" fill-opacity="0.66"/>
<circle cx="256.6" cy="61.2" r="1.4" fill="#EE4E38" fill-opacity="0.66"/>
<circle cx="253.3" cy="42.1" r="1.4" fill="#EE4E38" fill-opacity="0.66"/>
<circle cx="258.2" cy="55.7" r="1.4" fill="#EE4E38" fill-opacity="0.66"/>
<circle cx="257.1" cy="50.8" r="1.4" fill="#EE4E38" fill-opacity="0.66"/>
<circle cx="261.5" cy="40.4" r="1.4" fill="#EE4E38" fill-opacity="0.66"/>
<circle cx="253.5" cy="52.8" r="1.4" fill="#EE4E38" fill-opacity="0.66"/>
<circle cx="255.0" cy="37.1" r="1.4" fill="#EE4E38" fill-opacity="0.66"/>
<circle cx="258.0" cy="53.5" r="1.4" fill="#EE4E38" fill-opacity="0.66"/>
<circle cx="257.0" cy="41.9" r="1.4" fill="#EE4E38" fill-opacity="0.66"/>
<circle cx="253.2" cy="59.5" r="1.4" fill="#EE4E38" fill-opacity="0.66"/>
<circle cx="249.8" cy="37.8" r="1.4" fill="#EE4E38" fill-opacity="0.66"/>
<circle cx="256.8" cy="46.5" r="1.4" fill="#EE4E38" fill-opacity="0.66"/>
<circle cx="259.6" cy="56.1" r="1.4" fill="#EE4E38" fill-opacity="0.66"/>
<circle cx="259.8" cy="49.1" r="1.4" fill="#EE4E38" fill-opacity="0.66"/>
<circle cx="259.6" cy="45.6" r="1.4" fill="#EE4E38" fill-opacity="0.66"/>
<circle cx="253.1" cy="54.6" r="1.4" fill="#EE4E38" fill-opacity="0.66"/>
<circle cx="260.0" cy="39.0" r="1.4" fill="#EE4E38" fill-opacity="0.66"/>
<circle cx="260.8" cy="51.7" r="1.4" fill="#EE4E38" fill-opacity="0.66"/>
<circle cx="254.0" cy="35.1" r="1.4" fill="#EE4E38" fill-opacity="0.66"/>
<circle cx="259.4" cy="56.5" r="1.4" fill="#EE4E38" fill-opacity="0.66"/>
<circle cx="252.2" cy="52.7" r="1.4" fill="#EE4E38" fill-opacity="0.66"/>
<circle cx="252.6" cy="47.2" r="1.4" fill="#EE4E38" fill-opacity="0.66"/>
<circle cx="257.1" cy="27.5" r="1.4" fill="#EE4E38" fill-opacity="0.66"/>
<circle cx="252.3" cy="43.0" r="1.4" fill="#EE4E38" fill-opacity="0.66"/>
<circle cx="252.9" cy="38.7" r="1.4" fill="#EE4E38" fill-opacity="0.66"/>
<circle cx="255.3" cy="47.3" r="1.4" fill="#EE4E38" fill-opacity="0.66"/>
<circle cx="250.9" cy="32.1" r="1.4" fill="#EE4E38" fill-opacity="0.66"/>
<circle cx="252.6" cy="52.3" r="1.4" fill="#EE4E38" fill-opacity="0.66"/>
<circle cx="256.8" cy="33.5" r="1.4" fill="#EE4E38" fill-opacity="0.66"/>
<circle cx="256.1" cy="61.3" r="1.4" fill="#EE4E38" fill-opacity="0.66"/>
<circle cx="273.2" cy="40.5" r="1.4" fill="#1592C9" fill-opacity="0.66"/>
<circle cx="269.8" cy="45.1" r="1.4" fill="#1592C9" fill-opacity="0.66"/>
<circle cx="269.7" cy="46.5" r="1.4" fill="#1592C9" fill-opacity="0.66"/>
<circle cx="274.3" cy="46.8" r="1.4" fill="#1592C9" fill-opacity="0.66"/>
<circle cx="272.3" cy="42.8" r="1.4" fill="#1592C9" fill-opacity="0.66"/>
<circle cx="268.0" cy="45.0" r="1.4" fill="#1592C9" fill-opacity="0.66"/>
<circle cx="279.5" cy="48.3" r="1.4" fill="#1592C9" fill-opacity="0.66"/>
<circle cx="275.1" cy="46.5" r="1.4" fill="#1592C9" fill-opacity="0.66"/>
<circle cx="277.0" cy="50.9" r="1.4" fill="#1592C9" fill-opacity="0.66"/>
<circle cx="271.6" cy="53.6" r="1.4" fill="#1592C9" fill-opacity="0.66"/>
<circle cx="273.7" cy="56.0" r="1.4" fill="#1592C9" fill-opacity="0.66"/>
<circle cx="279.4" cy="50.4" r="1.4" fill="#1592C9" fill-opacity="0.66"/>
<circle cx="277.9" cy="48.9" r="1.4" fill="#1592C9" fill-opacity="0.66"/>
<circle cx="270.6" cy="40.3" r="1.4" fill="#1592C9" fill-opacity="0.66"/>
<circle cx="276.9" cy="49.4" r="1.4" fill="#1592C9" fill-opacity="0.66"/>
<circle cx="276.7" cy="34.6" r="1.4" fill="#1592C9" fill-opacity="0.66"/>
<circle cx="277.3" cy="55.8" r="1.4" fill="#1592C9" fill-opacity="0.66"/>
<circle cx="268.0" cy="53.5" r="1.4" fill="#1592C9" fill-opacity="0.66"/>
<circle cx="269.9" cy="47.6" r="1.4" fill="#1592C9" fill-opacity="0.66"/>
<circle cx="268.1" cy="49.8" r="1.4" fill="#1592C9" fill-opacity="0.66"/>
<circle cx="274.2" cy="51.2" r="1.4" fill="#1592C9" fill-opacity="0.66"/>
<circle cx="278.9" cy="53.6" r="1.4" fill="#1592C9" fill-opacity="0.66"/>
<circle cx="278.4" cy="43.5" r="1.4" fill="#1592C9" fill-opacity="0.66"/>
<circle cx="272.3" cy="56.8" r="1.4" fill="#1592C9" fill-opacity="0.66"/>
<circle cx="268.9" cy="52.1" r="1.4" fill="#1592C9" fill-opacity="0.66"/>
<circle cx="274.3" cy="53.5" r="1.4" fill="#1592C9" fill-opacity="0.66"/>
<circle cx="275.2" cy="47.4" r="1.4" fill="#1592C9" fill-opacity="0.66"/>
<circle cx="272.2" cy="58.0" r="1.4" fill="#1592C9" fill-opacity="0.66"/>
<circle cx="272.9" cy="46.1" r="1.4" fill="#1592C9" fill-opacity="0.66"/>
<circle cx="279.4" cy="57.8" r="1.4" fill="#1592C9" fill-opacity="0.66"/>
<circle cx="270.2" cy="62.9" r="1.4" fill="#1592C9" fill-opacity="0.66"/>
<circle cx="271.7" cy="53.6" r="1.4" fill="#1592C9" fill-opacity="0.66"/>
<circle cx="278.3" cy="49.9" r="1.4" fill="#1592C9" fill-opacity="0.66"/>
<circle cx="268.1" cy="58.9" r="1.4" fill="#1592C9" fill-opacity="0.66"/>
<circle cx="276.9" cy="41.7" r="1.4" fill="#1592C9" fill-opacity="0.66"/>
<circle cx="279.3" cy="46.3" r="1.4" fill="#1592C9" fill-opacity="0.66"/>
<circle cx="268.2" cy="39.6" r="1.4" fill="#1592C9" fill-opacity="0.66"/>
<circle cx="278.8" cy="55.4" r="1.4" fill="#1592C9" fill-opacity="0.66"/>
<circle cx="275.6" cy="57.3" r="1.4" fill="#1592C9" fill-opacity="0.66"/>
<circle cx="276.6" cy="46.1" r="1.4" fill="#1592C9" fill-opacity="0.66"/>
<circle cx="268.8" cy="57.0" r="1.4" fill="#1592C9" fill-opacity="0.66"/>
<circle cx="269.0" cy="46.5" r="1.4" fill="#1592C9" fill-opacity="0.66"/>
<circle cx="273.3" cy="53.2" r="1.4" fill="#1592C9" fill-opacity="0.66"/>
<circle cx="269.2" cy="51.0" r="1.4" fill="#1592C9" fill-opacity="0.66"/>
<circle cx="275.6" cy="52.9" r="1.4" fill="#1592C9" fill-opacity="0.66"/>
<circle cx="269.9" cy="59.0" r="1.4" fill="#1592C9" fill-opacity="0.66"/>
<circle cx="267.9" cy="49.5" r="1.4" fill="#1592C9" fill-opacity="0.66"/>
<circle cx="278.7" cy="52.8" r="1.4" fill="#1592C9" fill-opacity="0.66"/>
<circle cx="277.9" cy="46.7" r="1.4" fill="#1592C9" fill-opacity="0.66"/>
<circle cx="272.9" cy="51.4" r="1.4" fill="#1592C9" fill-opacity="0.66"/>
<circle cx="268.7" cy="46.4" r="1.4" fill="#1592C9" fill-opacity="0.66"/>
<circle cx="275.1" cy="60.0" r="1.4" fill="#1592C9" fill-opacity="0.66"/>
<circle cx="272.9" cy="43.3" r="1.4" fill="#1592C9" fill-opacity="0.66"/>
<circle cx="273.2" cy="42.2" r="1.4" fill="#1592C9" fill-opacity="0.66"/>
<circle cx="275.0" cy="58.9" r="1.4" fill="#1592C9" fill-opacity="0.66"/>
<circle cx="268.2" cy="51.6" r="1.4" fill="#1592C9" fill-opacity="0.66"/>
<circle cx="276.1" cy="52.3" r="1.4" fill="#1592C9" fill-opacity="0.66"/>
<circle cx="278.0" cy="45.3" r="1.4" fill="#1592C9" fill-opacity="0.66"/>
<circle cx="270.7" cy="47.5" r="1.4" fill="#1592C9" fill-opacity="0.66"/>
<circle cx="270.8" cy="45.5" r="1.4" fill="#1592C9" fill-opacity="0.66"/>
<circle cx="277.6" cy="50.7" r="1.4" fill="#1592C9" fill-opacity="0.66"/>
<circle cx="273.4" cy="46.7" r="1.4" fill="#1592C9" fill-opacity="0.66"/>
<circle cx="271.3" cy="52.1" r="1.4" fill="#1592C9" fill-opacity="0.66"/>
<circle cx="279.3" cy="51.3" r="1.4" fill="#1592C9" fill-opacity="0.66"/>
<circle cx="268.2" cy="46.9" r="1.4" fill="#1592C9" fill-opacity="0.66"/>
<circle cx="270.0" cy="56.3" r="1.4" fill="#1592C9" fill-opacity="0.66"/>
<circle cx="273.2" cy="42.8" r="1.4" fill="#1592C9" fill-opacity="0.66"/>
<circle cx="269.9" cy="47.6" r="1.4" fill="#1592C9" fill-opacity="0.66"/>
<circle cx="271.9" cy="53.6" r="1.4" fill="#1592C9" fill-opacity="0.66"/>
<circle cx="278.6" cy="47.4" r="1.4" fill="#1592C9" fill-opacity="0.66"/>
<circle cx="278.3" cy="53.1" r="1.4" fill="#1592C9" fill-opacity="0.66"/>
<circle cx="268.2" cy="51.8" r="1.4" fill="#1592C9" fill-opacity="0.66"/>
<circle cx="279.3" cy="47.9" r="1.4" fill="#1592C9" fill-opacity="0.66"/>
<circle cx="267.7" cy="43.3" r="1.4" fill="#1592C9" fill-opacity="0.66"/>
<circle cx="269.2" cy="50.8" r="1.4" fill="#1592C9" fill-opacity="0.66"/>
<circle cx="267.5" cy="43.1" r="1.4" fill="#1592C9" fill-opacity="0.66"/>
<circle cx="269.7" cy="52.6" r="1.4" fill="#1592C9" fill-opacity="0.66"/>
<circle cx="272.7" cy="41.8" r="1.4" fill="#1592C9" fill-opacity="0.66"/>
<circle cx="274.4" cy="52.6" r="1.4" fill="#1592C9" fill-opacity="0.66"/>
<circle cx="269.2" cy="46.3" r="1.4" fill="#1592C9" fill-opacity="0.66"/>
<circle cx="276.0" cy="53.4" r="1.4" fill="#1592C9" fill-opacity="0.66"/>
<circle cx="269.9" cy="58.8" r="1.4" fill="#1592C9" fill-opacity="0.66"/>
<circle cx="274.8" cy="51.1" r="1.4" fill="#1592C9" fill-opacity="0.66"/>
<circle cx="273.5" cy="50.0" r="1.4" fill="#1592C9" fill-opacity="0.66"/>
<circle cx="274.9" cy="48.0" r="1.4" fill="#1592C9" fill-opacity="0.66"/>
<circle cx="276.0" cy="53.1" r="1.4" fill="#1592C9" fill-opacity="0.66"/>
<circle cx="269.9" cy="51.9" r="1.4" fill="#1592C9" fill-opacity="0.66"/>
<circle cx="268.3" cy="40.7" r="1.4" fill="#1592C9" fill-opacity="0.66"/>
<circle cx="276.2" cy="48.0" r="1.4" fill="#1592C9" fill-opacity="0.66"/>
<circle cx="268.2" cy="42.1" r="1.4" fill="#1592C9" fill-opacity="0.66"/>
<circle cx="287.4" cy="10.4" r="1.4" fill="#8575C8" fill-opacity="0.6"/>
<circle cx="288.4" cy="20.7" r="1.4" fill="#8575C8" fill-opacity="0.6"/>
<circle cx="292.0" cy="20.2" r="1.4" fill="#8575C8" fill-opacity="0.6"/>
<circle cx="285.5" cy="30.5" r="1.4" fill="#8575C8" fill-opacity="0.6"/>
<circle cx="289.4" cy="30.4" r="1.4" fill="#8575C8" fill-opacity="0.6"/>
<circle cx="291.6" cy="30.7" r="1.4" fill="#8575C8" fill-opacity="0.6"/>
<rect x="285.0" y="43.3" width="11.5" height="2.4" rx="1.2" fill="#8575C8" fill-opacity="0.48"/>
<circle cx="285.4" cy="44.3" r="1.25" fill="#8575C8" fill-opacity="0.45"/>
<circle cx="287.1" cy="44.6" r="1.25" fill="#8575C8" fill-opacity="0.45"/>
<circle cx="288.5" cy="44.5" r="1.25" fill="#8575C8" fill-opacity="0.45"/>
<circle cx="290.7" cy="44.5" r="1.25" fill="#8575C8" fill-opacity="0.45"/>
<circle cx="292.1" cy="44.6" r="1.25" fill="#8575C8" fill-opacity="0.45"/>
<circle cx="294.6" cy="44.7" r="1.25" fill="#8575C8" fill-opacity="0.45"/>
<circle cx="295.8" cy="44.6" r="1.25" fill="#8575C8" fill-opacity="0.45"/>
<circle cx="286.9" cy="55.2" r="1.4" fill="#8575C8" fill-opacity="0.6"/>
<circle cx="288.5" cy="55.2" r="1.4" fill="#8575C8" fill-opacity="0.6"/>
<circle cx="292.5" cy="55.0" r="1.4" fill="#8575C8" fill-opacity="0.6"/>
<circle cx="294.0" cy="55.0" r="1.4" fill="#8575C8" fill-opacity="0.6"/>
<circle cx="286.0" cy="55.7" r="1.4" fill="#8575C8" fill-opacity="0.6"/>
<circle cx="291.6" cy="55.8" r="1.4" fill="#8575C8" fill-opacity="0.6"/>
<circle cx="285.6" cy="61.3" r="1.4" fill="#8575C8" fill-opacity="0.6"/>
<circle cx="288.7" cy="65.2" r="1.4" fill="#8575C8" fill-opacity="0.6"/>
<circle cx="290.4" cy="64.8" r="1.4" fill="#8575C8" fill-opacity="0.6"/>
<circle cx="293.2" cy="64.8" r="1.4" fill="#8575C8" fill-opacity="0.6"/>
<circle cx="286.4" cy="67.1" r="1.4" fill="#8575C8" fill-opacity="0.6"/>
<circle cx="293.1" cy="67.0" r="1.4" fill="#8575C8" fill-opacity="0.6"/>
<circle cx="285.7" cy="71.8" r="1.4" fill="#8575C8" fill-opacity="0.6"/>
<circle cx="289.9" cy="72.1" r="1.4" fill="#8575C8" fill-opacity="0.6"/>
<circle cx="290.5" cy="74.8" r="1.4" fill="#8575C8" fill-opacity="0.6"/>
<rect x="284.5" y="77.6" width="13.0" height="2.4" rx="1.2" fill="#8575C8" fill-opacity="0.48"/>
<circle cx="285.0" cy="78.8" r="1.25" fill="#8575C8" fill-opacity="0.45"/>
<circle cx="286.5" cy="78.6" r="1.25" fill="#8575C8" fill-opacity="0.45"/>
<circle cx="288.3" cy="78.6" r="1.25" fill="#8575C8" fill-opacity="0.45"/>
<circle cx="290.2" cy="79.0" r="1.25" fill="#8575C8" fill-opacity="0.45"/>
<circle cx="291.5" cy="78.8" r="1.25" fill="#8575C8" fill-opacity="0.45"/>
<circle cx="293.8" cy="78.6" r="1.25" fill="#8575C8" fill-opacity="0.45"/>
<circle cx="295.6" cy="79.1" r="1.25" fill="#8575C8" fill-opacity="0.45"/>
<circle cx="296.9" cy="78.8" r="1.25" fill="#8575C8" fill-opacity="0.45"/>
<rect x="284.5" y="87.3" width="13.0" height="2.4" rx="1.2" fill="#8575C8" fill-opacity="0.48"/>
<circle cx="285.3" cy="88.5" r="1.25" fill="#8575C8" fill-opacity="0.45"/>
<circle cx="287.3" cy="88.8" r="1.25" fill="#8575C8" fill-opacity="0.45"/>
<circle cx="290.1" cy="88.4" r="1.25" fill="#8575C8" fill-opacity="0.45"/>
<circle cx="291.9" cy="88.4" r="1.25" fill="#8575C8" fill-opacity="0.45"/>
<circle cx="294.5" cy="88.8" r="1.25" fill="#8575C8" fill-opacity="0.45"/>
<circle cx="297.3" cy="88.7" r="1.25" fill="#8575C8" fill-opacity="0.45"/>
<circle cx="293.4" cy="92.2" r="1.4" fill="#8575C8" fill-opacity="0.6"/>
<circle cx="287.5" cy="99.0" r="1.4" fill="#8575C8" fill-opacity="0.6"/>
<circle cx="293.5" cy="99.3" r="1.4" fill="#8575C8" fill-opacity="0.6"/>
<rect x="287.5" y="100.3" width="10.0" height="2.4" rx="1.2" fill="#8575C8" fill-opacity="0.48"/>
<circle cx="287.7" cy="101.5" r="1.25" fill="#8575C8" fill-opacity="0.45"/>
<circle cx="290.4" cy="101.4" r="1.25" fill="#8575C8" fill-opacity="0.45"/>
<circle cx="292.5" cy="101.2" r="1.25" fill="#8575C8" fill-opacity="0.45"/>
<circle cx="294.7" cy="101.5" r="1.25" fill="#8575C8" fill-opacity="0.45"/>
<circle cx="296.5" cy="101.3" r="1.25" fill="#8575C8" fill-opacity="0.45"/>
<circle cx="294.1" cy="109.2" r="1.4" fill="#8575C8" fill-opacity="0.6"/>
<rect x="285.5" y="111.8" width="12.0" height="2.4" rx="1.2" fill="#8575C8" fill-opacity="0.48"/>
<circle cx="286.4" cy="113.1" r="1.25" fill="#8575C8" fill-opacity="0.45"/>
<circle cx="287.9" cy="113.2" r="1.25" fill="#8575C8" fill-opacity="0.45"/>
<circle cx="289.5" cy="112.7" r="1.25" fill="#8575C8" fill-opacity="0.45"/>
<circle cx="290.9" cy="112.9" r="1.25" fill="#8575C8" fill-opacity="0.45"/>
<circle cx="292.5" cy="112.9" r="1.25" fill="#8575C8" fill-opacity="0.45"/>
<circle cx="293.9" cy="113.3" r="1.25" fill="#8575C8" fill-opacity="0.45"/>
<circle cx="295.5" cy="112.9" r="1.25" fill="#8575C8" fill-opacity="0.45"/>
<circle cx="297.0" cy="113.0" r="1.25" fill="#8575C8" fill-opacity="0.45"/>
<rect x="284.5" y="122.3" width="11.0" height="2.4" rx="1.2" fill="#8575C8" fill-opacity="0.48"/>
<circle cx="285.5" cy="123.4" r="1.25" fill="#8575C8" fill-opacity="0.45"/>
<circle cx="286.5" cy="123.6" r="1.25" fill="#8575C8" fill-opacity="0.45"/>
<circle cx="288.0" cy="123.6" r="1.25" fill="#8575C8" fill-opacity="0.45"/>
<circle cx="290.5" cy="123.5" r="1.25" fill="#8575C8" fill-opacity="0.45"/>
<circle cx="291.4" cy="123.5" r="1.25" fill="#8575C8" fill-opacity="0.45"/>
<circle cx="293.4" cy="123.3" r="1.25" fill="#8575C8" fill-opacity="0.45"/>
<circle cx="294.6" cy="123.3" r="1.25" fill="#8575C8" fill-opacity="0.45"/>
<circle cx="287.3" cy="135.9" r="1.4" fill="#8575C8" fill-opacity="0.6"/>
<circle cx="289.0" cy="135.8" r="1.4" fill="#8575C8" fill-opacity="0.6"/>
<circle cx="290.5" cy="136.0" r="1.4" fill="#8575C8" fill-opacity="0.6"/>
<circle cx="295.9" cy="136.1" r="1.4" fill="#8575C8" fill-opacity="0.6"/>
<circle cx="290.7" cy="144.1" r="1.4" fill="#8575C8" fill-opacity="0.6"/>
<circle cx="295.9" cy="147.1" r="1.4" fill="#8575C8" fill-opacity="0.6"/>
<circle cx="322.9" cy="44.9" r="1.4" fill="#EE4E38" fill-opacity="0.66"/>
<circle cx="321.2" cy="58.7" r="1.4" fill="#EE4E38" fill-opacity="0.66"/>
<circle cx="318.2" cy="53.4" r="1.4" fill="#EE4E38" fill-opacity="0.66"/>
<circle cx="321.7" cy="62.1" r="1.4" fill="#EE4E38" fill-opacity="0.66"/>
<circle cx="315.7" cy="47.0" r="1.4" fill="#EE4E38" fill-opacity="0.66"/>
<circle cx="319.8" cy="63.9" r="1.4" fill="#EE4E38" fill-opacity="0.66"/>
<circle cx="322.3" cy="60.2" r="1.4" fill="#EE4E38" fill-opacity="0.66"/>
<circle cx="321.5" cy="50.8" r="1.4" fill="#EE4E38" fill-opacity="0.66"/>
<circle cx="319.1" cy="50.1" r="1.4" fill="#EE4E38" fill-opacity="0.66"/>
<circle cx="316.4" cy="56.6" r="1.4" fill="#EE4E38" fill-opacity="0.66"/>
<circle cx="326.0" cy="50.7" r="1.4" fill="#EE4E38" fill-opacity="0.66"/>
<circle cx="320.2" cy="52.9" r="1.4" fill="#EE4E38" fill-opacity="0.66"/>
<circle cx="320.9" cy="57.1" r="1.4" fill="#EE4E38" fill-opacity="0.66"/>
<circle cx="318.3" cy="55.5" r="1.4" fill="#EE4E38" fill-opacity="0.66"/>
<circle cx="327.1" cy="51.6" r="1.4" fill="#EE4E38" fill-opacity="0.66"/>
<circle cx="319.6" cy="55.5" r="1.4" fill="#EE4E38" fill-opacity="0.66"/>
<circle cx="319.8" cy="50.7" r="1.4" fill="#EE4E38" fill-opacity="0.66"/>
<circle cx="325.8" cy="50.3" r="1.4" fill="#EE4E38" fill-opacity="0.66"/>
<circle cx="325.4" cy="44.8" r="1.4" fill="#EE4E38" fill-opacity="0.66"/>
<circle cx="324.5" cy="41.2" r="1.4" fill="#EE4E38" fill-opacity="0.66"/>
<circle cx="324.7" cy="54.3" r="1.4" fill="#EE4E38" fill-opacity="0.66"/>
<circle cx="324.1" cy="40.3" r="1.4" fill="#EE4E38" fill-opacity="0.66"/>
<circle cx="326.6" cy="58.3" r="1.4" fill="#EE4E38" fill-opacity="0.66"/>
<circle cx="315.6" cy="68.6" r="1.4" fill="#EE4E38" fill-opacity="0.66"/>
<circle cx="324.8" cy="69.0" r="1.4" fill="#EE4E38" fill-opacity="0.66"/>
<circle cx="327.1" cy="46.8" r="1.4" fill="#EE4E38" fill-opacity="0.66"/>
<circle cx="322.4" cy="50.5" r="1.4" fill="#EE4E38" fill-opacity="0.66"/>
<circle cx="326.1" cy="42.2" r="1.4" fill="#EE4E38" fill-opacity="0.66"/>
<circle cx="322.9" cy="63.7" r="1.4" fill="#EE4E38" fill-opacity="0.66"/>
<circle cx="321.1" cy="48.7" r="1.4" fill="#EE4E38" fill-opacity="0.66"/>
<circle cx="324.3" cy="62.7" r="1.4" fill="#EE4E38" fill-opacity="0.66"/>
<circle cx="322.2" cy="53.5" r="1.4" fill="#EE4E38" fill-opacity="0.66"/>
<circle cx="320.2" cy="64.5" r="1.4" fill="#EE4E38" fill-opacity="0.66"/>
<circle cx="325.8" cy="49.0" r="1.4" fill="#EE4E38" fill-opacity="0.66"/>
<circle cx="321.6" cy="70.1" r="1.4" fill="#EE4E38" fill-opacity="0.66"/>
<circle cx="319.2" cy="50.5" r="1.4" fill="#EE4E38" fill-opacity="0.66"/>
<circle cx="317.3" cy="57.9" r="1.4" fill="#EE4E38" fill-opacity="0.66"/>
<circle cx="316.6" cy="45.3" r="1.4" fill="#EE4E38" fill-opacity="0.66"/>
<circle cx="326.6" cy="50.5" r="1.4" fill="#EE4E38" fill-opacity="0.66"/>
<circle cx="325.6" cy="48.1" r="1.4" fill="#EE4E38" fill-opacity="0.66"/>
<circle cx="327.1" cy="71.4" r="1.4" fill="#EE4E38" fill-opacity="0.66"/>
<circle cx="326.5" cy="58.6" r="1.4" fill="#EE4E38" fill-opacity="0.66"/>
<circle cx="315.7" cy="65.0" r="1.4" fill="#EE4E38" fill-opacity="0.66"/>
<circle cx="321.5" cy="67.0" r="1.4" fill="#EE4E38" fill-opacity="0.66"/>
<circle cx="326.6" cy="59.3" r="1.4" fill="#EE4E38" fill-opacity="0.66"/>
<circle cx="327.6" cy="57.5" r="1.4" fill="#EE4E38" fill-opacity="0.66"/>
<circle cx="321.8" cy="44.8" r="1.4" fill="#EE4E38" fill-opacity="0.66"/>
<circle cx="320.3" cy="42.3" r="1.4" fill="#EE4E38" fill-opacity="0.66"/>
<circle cx="319.9" cy="54.4" r="1.4" fill="#EE4E38" fill-opacity="0.66"/>
<circle cx="327.0" cy="49.0" r="1.4" fill="#EE4E38" fill-opacity="0.66"/>
<circle cx="323.7" cy="51.2" r="1.4" fill="#EE4E38" fill-opacity="0.66"/>
<circle cx="320.1" cy="51.8" r="1.4" fill="#EE4E38" fill-opacity="0.66"/>
<circle cx="320.4" cy="55.3" r="1.4" fill="#EE4E38" fill-opacity="0.66"/>
<circle cx="326.1" cy="45.0" r="1.4" fill="#EE4E38" fill-opacity="0.66"/>
<circle cx="327.2" cy="51.5" r="1.4" fill="#EE4E38" fill-opacity="0.66"/>
<circle cx="323.1" cy="46.2" r="1.4" fill="#EE4E38" fill-opacity="0.66"/>
<circle cx="327.5" cy="56.7" r="1.4" fill="#EE4E38" fill-opacity="0.66"/>
<circle cx="325.4" cy="49.8" r="1.4" fill="#EE4E38" fill-opacity="0.66"/>
<circle cx="317.6" cy="65.1" r="1.4" fill="#EE4E38" fill-opacity="0.66"/>
<circle cx="325.5" cy="45.6" r="1.4" fill="#EE4E38" fill-opacity="0.66"/>
<circle cx="326.3" cy="51.6" r="1.4" fill="#EE4E38" fill-opacity="0.66"/>
<circle cx="323.9" cy="55.6" r="1.4" fill="#EE4E38" fill-opacity="0.66"/>
<circle cx="326.2" cy="67.6" r="1.4" fill="#EE4E38" fill-opacity="0.66"/>
<circle cx="320.6" cy="31.2" r="1.4" fill="#EE4E38" fill-opacity="0.66"/>
<circle cx="321.7" cy="60.0" r="1.4" fill="#EE4E38" fill-opacity="0.66"/>
<circle cx="321.6" cy="62.1" r="1.4" fill="#EE4E38" fill-opacity="0.66"/>
<circle cx="323.1" cy="58.1" r="1.4" fill="#EE4E38" fill-opacity="0.66"/>
<circle cx="322.8" cy="61.2" r="1.4" fill="#EE4E38" fill-opacity="0.66"/>
<circle cx="323.2" cy="38.6" r="1.4" fill="#EE4E38" fill-opacity="0.66"/>
<circle cx="325.0" cy="64.8" r="1.4" fill="#EE4E38" fill-opacity="0.66"/>
<circle cx="319.3" cy="58.3" r="1.4" fill="#EE4E38" fill-opacity="0.66"/>
<circle cx="319.2" cy="55.6" r="1.4" fill="#EE4E38" fill-opacity="0.66"/>
<circle cx="325.7" cy="55.2" r="1.4" fill="#EE4E38" fill-opacity="0.66"/>
<circle cx="317.9" cy="44.4" r="1.4" fill="#EE4E38" fill-opacity="0.66"/>
<circle cx="321.6" cy="49.0" r="1.4" fill="#EE4E38" fill-opacity="0.66"/>
<circle cx="323.3" cy="49.2" r="1.4" fill="#EE4E38" fill-opacity="0.66"/>
<circle cx="322.0" cy="53.6" r="1.4" fill="#EE4E38" fill-opacity="0.66"/>
<circle cx="320.5" cy="67.7" r="1.4" fill="#EE4E38" fill-opacity="0.66"/>
<circle cx="317.0" cy="55.7" r="1.4" fill="#EE4E38" fill-opacity="0.66"/>
<circle cx="316.9" cy="64.3" r="1.4" fill="#EE4E38" fill-opacity="0.66"/>
<circle cx="316.8" cy="68.6" r="1.4" fill="#EE4E38" fill-opacity="0.66"/>
<circle cx="325.5" cy="61.1" r="1.4" fill="#EE4E38" fill-opacity="0.66"/>
<circle cx="322.9" cy="65.5" r="1.4" fill="#EE4E38" fill-opacity="0.66"/>
<circle cx="315.7" cy="57.0" r="1.4" fill="#EE4E38" fill-opacity="0.66"/>
<circle cx="324.8" cy="52.9" r="1.4" fill="#EE4E38" fill-opacity="0.66"/>
<circle cx="319.8" cy="49.6" r="1.4" fill="#EE4E38" fill-opacity="0.66"/>
<circle cx="317.6" cy="68.7" r="1.4" fill="#EE4E38" fill-opacity="0.66"/>
<circle cx="326.4" cy="55.5" r="1.4" fill="#EE4E38" fill-opacity="0.66"/>
<circle cx="322.6" cy="60.0" r="1.4" fill="#EE4E38" fill-opacity="0.66"/>
<circle cx="320.2" cy="50.2" r="1.4" fill="#EE4E38" fill-opacity="0.66"/>
<circle cx="333.9" cy="60.9" r="1.4" fill="#1592C9" fill-opacity="0.66"/>
<circle cx="344.8" cy="61.7" r="1.4" fill="#1592C9" fill-opacity="0.66"/>
<circle cx="338.6" cy="50.6" r="1.4" fill="#1592C9" fill-opacity="0.66"/>
<circle cx="333.8" cy="52.3" r="1.4" fill="#1592C9" fill-opacity="0.66"/>
<circle cx="344.4" cy="52.5" r="1.4" fill="#1592C9" fill-opacity="0.66"/>
<circle cx="344.1" cy="58.8" r="1.4" fill="#1592C9" fill-opacity="0.66"/>
<circle cx="343.1" cy="51.5" r="1.4" fill="#1592C9" fill-opacity="0.66"/>
<circle cx="344.8" cy="52.9" r="1.4" fill="#1592C9" fill-opacity="0.66"/>
<circle cx="339.2" cy="63.3" r="1.4" fill="#1592C9" fill-opacity="0.66"/>
<circle cx="338.0" cy="59.9" r="1.4" fill="#1592C9" fill-opacity="0.66"/>
<circle cx="341.9" cy="54.2" r="1.4" fill="#1592C9" fill-opacity="0.66"/>
<circle cx="343.8" cy="56.5" r="1.4" fill="#1592C9" fill-opacity="0.66"/>
<circle cx="339.1" cy="60.7" r="1.4" fill="#1592C9" fill-opacity="0.66"/>
<circle cx="335.4" cy="56.8" r="1.4" fill="#1592C9" fill-opacity="0.66"/>
<circle cx="337.6" cy="51.3" r="1.4" fill="#1592C9" fill-opacity="0.66"/>
<circle cx="336.8" cy="61.8" r="1.4" fill="#1592C9" fill-opacity="0.66"/>
<circle cx="339.7" cy="52.9" r="1.4" fill="#1592C9" fill-opacity="0.66"/>
<circle cx="337.9" cy="54.5" r="1.4" fill="#1592C9" fill-opacity="0.66"/>
<circle cx="334.8" cy="53.8" r="1.4" fill="#1592C9" fill-opacity="0.66"/>
<circle cx="343.2" cy="56.9" r="1.4" fill="#1592C9" fill-opacity="0.66"/>
<circle cx="335.6" cy="52.9" r="1.4" fill="#1592C9" fill-opacity="0.66"/>
<circle cx="336.7" cy="59.2" r="1.4" fill="#1592C9" fill-opacity="0.66"/>
<circle cx="341.3" cy="55.7" r="1.4" fill="#1592C9" fill-opacity="0.66"/>
<circle cx="337.4" cy="57.2" r="1.4" fill="#1592C9" fill-opacity="0.66"/>
<circle cx="334.4" cy="60.8" r="1.4" fill="#1592C9" fill-opacity="0.66"/>
<circle cx="336.5" cy="63.4" r="1.4" fill="#1592C9" fill-opacity="0.66"/>
<circle cx="338.6" cy="57.2" r="1.4" fill="#1592C9" fill-opacity="0.66"/>
<circle cx="343.3" cy="52.9" r="1.4" fill="#1592C9" fill-opacity="0.66"/>
<circle cx="337.5" cy="56.8" r="1.4" fill="#1592C9" fill-opacity="0.66"/>
<circle cx="341.9" cy="52.3" r="1.4" fill="#1592C9" fill-opacity="0.66"/>
<circle cx="335.8" cy="44.8" r="1.4" fill="#1592C9" fill-opacity="0.66"/>
<circle cx="344.7" cy="66.2" r="1.4" fill="#1592C9" fill-opacity="0.66"/>
<circle cx="338.7" cy="51.3" r="1.4" fill="#1592C9" fill-opacity="0.66"/>
<circle cx="334.9" cy="55.5" r="1.4" fill="#1592C9" fill-opacity="0.66"/>
<circle cx="344.1" cy="54.3" r="1.4" fill="#1592C9" fill-opacity="0.66"/>
<circle cx="340.3" cy="51.1" r="1.4" fill="#1592C9" fill-opacity="0.66"/>
<circle cx="340.6" cy="52.6" r="1.4" fill="#1592C9" fill-opacity="0.66"/>
<circle cx="335.8" cy="58.9" r="1.4" fill="#1592C9" fill-opacity="0.66"/>
<circle cx="339.4" cy="57.7" r="1.4" fill="#1592C9" fill-opacity="0.66"/>
<circle cx="339.8" cy="53.4" r="1.4" fill="#1592C9" fill-opacity="0.66"/>
<circle cx="337.9" cy="54.3" r="1.4" fill="#1592C9" fill-opacity="0.66"/>
<circle cx="341.2" cy="65.8" r="1.4" fill="#1592C9" fill-opacity="0.66"/>
<circle cx="338.0" cy="50.9" r="1.4" fill="#1592C9" fill-opacity="0.66"/>
<circle cx="334.3" cy="53.5" r="1.4" fill="#1592C9" fill-opacity="0.66"/>
<circle cx="337.1" cy="60.8" r="1.4" fill="#1592C9" fill-opacity="0.66"/>
<circle cx="341.2" cy="66.1" r="1.4" fill="#1592C9" fill-opacity="0.66"/>
<circle cx="337.6" cy="61.6" r="1.4" fill="#1592C9" fill-opacity="0.66"/>
<circle cx="339.3" cy="60.5" r="1.4" fill="#1592C9" fill-opacity="0.66"/>
<circle cx="337.0" cy="55.0" r="1.4" fill="#1592C9" fill-opacity="0.66"/>
<circle cx="336.0" cy="57.7" r="1.4" fill="#1592C9" fill-opacity="0.66"/>
<circle cx="336.7" cy="62.3" r="1.4" fill="#1592C9" fill-opacity="0.66"/>
<circle cx="338.1" cy="62.4" r="1.4" fill="#1592C9" fill-opacity="0.66"/>
<circle cx="343.9" cy="64.3" r="1.4" fill="#1592C9" fill-opacity="0.66"/>
<circle cx="343.6" cy="50.0" r="1.4" fill="#1592C9" fill-opacity="0.66"/>
<circle cx="333.6" cy="58.9" r="1.4" fill="#1592C9" fill-opacity="0.66"/>
<circle cx="341.4" cy="59.2" r="1.4" fill="#1592C9" fill-opacity="0.66"/>
<circle cx="338.2" cy="52.7" r="1.4" fill="#1592C9" fill-opacity="0.66"/>
<circle cx="341.2" cy="50.8" r="1.4" fill="#1592C9" fill-opacity="0.66"/>
<circle cx="343.4" cy="54.2" r="1.4" fill="#1592C9" fill-opacity="0.66"/>
<circle cx="337.5" cy="51.3" r="1.4" fill="#1592C9" fill-opacity="0.66"/>
<circle cx="334.7" cy="53.0" r="1.4" fill="#1592C9" fill-opacity="0.66"/>
<circle cx="344.2" cy="52.8" r="1.4" fill="#1592C9" fill-opacity="0.66"/>
<circle cx="333.8" cy="54.7" r="1.4" fill="#1592C9" fill-opacity="0.66"/>
<circle cx="333.8" cy="46.2" r="1.4" fill="#1592C9" fill-opacity="0.66"/>
<circle cx="336.9" cy="57.7" r="1.4" fill="#1592C9" fill-opacity="0.66"/>
<circle cx="337.8" cy="59.0" r="1.4" fill="#1592C9" fill-opacity="0.66"/>
<circle cx="340.9" cy="60.6" r="1.4" fill="#1592C9" fill-opacity="0.66"/>
<circle cx="335.4" cy="56.9" r="1.4" fill="#1592C9" fill-opacity="0.66"/>
<circle cx="341.9" cy="59.8" r="1.4" fill="#1592C9" fill-opacity="0.66"/>
<circle cx="336.3" cy="49.0" r="1.4" fill="#1592C9" fill-opacity="0.66"/>
<circle cx="337.5" cy="47.2" r="1.4" fill="#1592C9" fill-opacity="0.66"/>
<circle cx="333.3" cy="59.2" r="1.4" fill="#1592C9" fill-opacity="0.66"/>
<circle cx="336.7" cy="60.8" r="1.4" fill="#1592C9" fill-opacity="0.66"/>
<circle cx="333.8" cy="46.6" r="1.4" fill="#1592C9" fill-opacity="0.66"/>
<circle cx="333.8" cy="60.6" r="1.4" fill="#1592C9" fill-opacity="0.66"/>
<circle cx="336.2" cy="49.1" r="1.4" fill="#1592C9" fill-opacity="0.66"/>
<circle cx="335.8" cy="63.7" r="1.4" fill="#1592C9" fill-opacity="0.66"/>
<circle cx="344.3" cy="62.4" r="1.4" fill="#1592C9" fill-opacity="0.66"/>
<circle cx="341.6" cy="55.6" r="1.4" fill="#1592C9" fill-opacity="0.66"/>
<circle cx="338.0" cy="53.1" r="1.4" fill="#1592C9" fill-opacity="0.66"/>
<circle cx="336.7" cy="55.4" r="1.4" fill="#1592C9" fill-opacity="0.66"/>
<circle cx="334.4" cy="44.3" r="1.4" fill="#1592C9" fill-opacity="0.66"/>
<circle cx="344.4" cy="61.5" r="1.4" fill="#1592C9" fill-opacity="0.66"/>
<circle cx="341.6" cy="53.5" r="1.4" fill="#1592C9" fill-opacity="0.66"/>
<circle cx="340.8" cy="54.8" r="1.4" fill="#1592C9" fill-opacity="0.66"/>
<circle cx="338.7" cy="44.3" r="1.4" fill="#1592C9" fill-opacity="0.66"/>
<circle cx="338.4" cy="64.4" r="1.4" fill="#1592C9" fill-opacity="0.66"/>
<circle cx="339.4" cy="58.7" r="1.4" fill="#1592C9" fill-opacity="0.66"/>
<circle cx="342.4" cy="58.4" r="1.4" fill="#1592C9" fill-opacity="0.66"/>
<circle cx="333.8" cy="54.2" r="1.4" fill="#1592C9" fill-opacity="0.66"/>
<circle cx="354.0" cy="21.2" r="1.4" fill="#8575C8" fill-opacity="0.6"/>
<circle cx="359.0" cy="21.0" r="1.4" fill="#8575C8" fill-opacity="0.6"/>
<circle cx="362.6" cy="33.1" r="1.4" fill="#8575C8" fill-opacity="0.6"/>
<circle cx="352.9" cy="40.8" r="1.4" fill="#8575C8" fill-opacity="0.6"/>
<circle cx="355.0" cy="44.4" r="1.4" fill="#8575C8" fill-opacity="0.6"/>
<circle cx="356.9" cy="44.3" r="1.4" fill="#8575C8" fill-opacity="0.6"/>
<circle cx="359.5" cy="44.3" r="1.4" fill="#8575C8" fill-opacity="0.6"/>
<circle cx="351.5" cy="55.6" r="1.4" fill="#8575C8" fill-opacity="0.6"/>
<rect x="355.0" y="54.3" width="7.0" height="2.4" rx="1.2" fill="#8575C8" fill-opacity="0.48"/>
<circle cx="355.2" cy="55.3" r="1.25" fill="#8575C8" fill-opacity="0.45"/>
<circle cx="357.0" cy="55.5" r="1.25" fill="#8575C8" fill-opacity="0.45"/>
<circle cx="358.9" cy="55.4" r="1.25" fill="#8575C8" fill-opacity="0.45"/>
<circle cx="359.8" cy="55.7" r="1.25" fill="#8575C8" fill-opacity="0.45"/>
<circle cx="361.1" cy="55.5" r="1.25" fill="#8575C8" fill-opacity="0.45"/>
<circle cx="357.8" cy="61.2" r="1.4" fill="#8575C8" fill-opacity="0.6"/>
<circle cx="354.1" cy="65.2" r="1.4" fill="#8575C8" fill-opacity="0.6"/>
<circle cx="354.6" cy="65.1" r="1.4" fill="#8575C8" fill-opacity="0.6"/>
<circle cx="356.1" cy="71.5" r="1.4" fill="#8575C8" fill-opacity="0.6"/>
<circle cx="356.3" cy="75.2" r="1.4" fill="#8575C8" fill-opacity="0.6"/>
<rect x="351.0" y="77.3" width="12.5" height="2.4" rx="1.2" fill="#8575C8" fill-opacity="0.48"/>
<circle cx="351.1" cy="78.4" r="1.25" fill="#8575C8" fill-opacity="0.45"/>
<circle cx="352.8" cy="78.3" r="1.25" fill="#8575C8" fill-opacity="0.45"/>
<circle cx="353.9" cy="78.4" r="1.25" fill="#8575C8" fill-opacity="0.45"/>
<circle cx="355.5" cy="78.6" r="1.25" fill="#8575C8" fill-opacity="0.45"/>
<circle cx="357.2" cy="78.3" r="1.25" fill="#8575C8" fill-opacity="0.45"/>
<circle cx="358.5" cy="78.5" r="1.25" fill="#8575C8" fill-opacity="0.45"/>
<circle cx="360.0" cy="78.3" r="1.25" fill="#8575C8" fill-opacity="0.45"/>
<circle cx="361.1" cy="78.2" r="1.25" fill="#8575C8" fill-opacity="0.45"/>
<circle cx="363.5" cy="78.7" r="1.25" fill="#8575C8" fill-opacity="0.45"/>
<circle cx="353.2" cy="81.1" r="1.4" fill="#8575C8" fill-opacity="0.6"/>
<circle cx="359.2" cy="81.0" r="1.4" fill="#8575C8" fill-opacity="0.6"/>
<rect x="350.5" y="86.3" width="5.0" height="2.4" rx="1.2" fill="#8575C8" fill-opacity="0.48"/>
<circle cx="350.6" cy="87.5" r="1.25" fill="#8575C8" fill-opacity="0.45"/>
<circle cx="351.9" cy="87.3" r="1.25" fill="#8575C8" fill-opacity="0.45"/>
<circle cx="353.0" cy="87.2" r="1.25" fill="#8575C8" fill-opacity="0.45"/>
<circle cx="354.4" cy="87.6" r="1.25" fill="#8575C8" fill-opacity="0.45"/>
<circle cx="355.1" cy="87.8" r="1.25" fill="#8575C8" fill-opacity="0.45"/>
<rect x="357.5" y="87.3" width="5.0" height="2.4" rx="1.2" fill="#8575C8" fill-opacity="0.48"/>
<circle cx="358.2" cy="88.4" r="1.25" fill="#8575C8" fill-opacity="0.45"/>
<circle cx="358.7" cy="88.3" r="1.25" fill="#8575C8" fill-opacity="0.45"/>
<circle cx="359.5" cy="88.7" r="1.25" fill="#8575C8" fill-opacity="0.45"/>
<circle cx="361.3" cy="88.4" r="1.25" fill="#8575C8" fill-opacity="0.45"/>
<circle cx="361.7" cy="88.6" r="1.25" fill="#8575C8" fill-opacity="0.45"/>
<circle cx="354.4" cy="99.3" r="1.4" fill="#8575C8" fill-opacity="0.6"/>
<circle cx="356.6" cy="99.2" r="1.4" fill="#8575C8" fill-opacity="0.6"/>
<circle cx="360.4" cy="99.1" r="1.4" fill="#8575C8" fill-opacity="0.6"/>
<circle cx="351.8" cy="101.3" r="1.4" fill="#8575C8" fill-opacity="0.6"/>
<circle cx="357.4" cy="101.4" r="1.4" fill="#8575C8" fill-opacity="0.6"/>
<circle cx="359.8" cy="101.5" r="1.4" fill="#8575C8" fill-opacity="0.6"/>
<circle cx="358.8" cy="109.7" r="1.4" fill="#8575C8" fill-opacity="0.6"/>
<rect x="350.5" y="111.8" width="11.0" height="2.4" rx="1.2" fill="#8575C8" fill-opacity="0.48"/>
<circle cx="350.7" cy="112.7" r="1.25" fill="#8575C8" fill-opacity="0.45"/>
<circle cx="352.2" cy="113.1" r="1.25" fill="#8575C8" fill-opacity="0.45"/>
<circle cx="353.5" cy="113.1" r="1.25" fill="#8575C8" fill-opacity="0.45"/>
<circle cx="354.7" cy="113.3" r="1.25" fill="#8575C8" fill-opacity="0.45"/>
<circle cx="355.4" cy="113.0" r="1.25" fill="#8575C8" fill-opacity="0.45"/>
<circle cx="356.2" cy="112.9" r="1.25" fill="#8575C8" fill-opacity="0.45"/>
<circle cx="357.7" cy="112.7" r="1.25" fill="#8575C8" fill-opacity="0.45"/>
<circle cx="359.0" cy="112.8" r="1.25" fill="#8575C8" fill-opacity="0.45"/>
<circle cx="359.8" cy="113.3" r="1.25" fill="#8575C8" fill-opacity="0.45"/>
<circle cx="360.6" cy="112.7" r="1.25" fill="#8575C8" fill-opacity="0.45"/>
<rect x="350.5" y="122.3" width="13.0" height="2.4" rx="1.2" fill="#8575C8" fill-opacity="0.48"/>
<circle cx="350.9" cy="123.3" r="1.25" fill="#8575C8" fill-opacity="0.45"/>
<circle cx="352.9" cy="123.2" r="1.25" fill="#8575C8" fill-opacity="0.45"/>
<circle cx="354.8" cy="123.7" r="1.25" fill="#8575C8" fill-opacity="0.45"/>
<circle cx="356.4" cy="123.5" r="1.25" fill="#8575C8" fill-opacity="0.45"/>
<circle cx="357.6" cy="123.6" r="1.25" fill="#8575C8" fill-opacity="0.45"/>
<circle cx="359.6" cy="123.5" r="1.25" fill="#8575C8" fill-opacity="0.45"/>
<circle cx="361.1" cy="123.5" r="1.25" fill="#8575C8" fill-opacity="0.45"/>
<circle cx="363.2" cy="123.7" r="1.25" fill="#8575C8" fill-opacity="0.45"/>
<circle cx="354.5" cy="125.3" r="1.4" fill="#8575C8" fill-opacity="0.6"/>
<circle cx="357.8" cy="125.5" r="1.4" fill="#8575C8" fill-opacity="0.6"/>
<circle cx="353.5" cy="133.4" r="1.4" fill="#8575C8" fill-opacity="0.6"/>
<circle cx="360.2" cy="135.8" r="1.4" fill="#8575C8" fill-opacity="0.6"/>
<circle cx="358.3" cy="147.0" r="1.4" fill="#8575C8" fill-opacity="0.6"/>
<circle cx="391.7" cy="78.1" r="1.4" fill="#EE4E38" fill-opacity="0.66"/>
<circle cx="393.0" cy="47.6" r="1.4" fill="#EE4E38" fill-opacity="0.66"/>
<circle cx="391.1" cy="68.5" r="1.4" fill="#EE4E38" fill-opacity="0.66"/>
<circle cx="382.1" cy="48.3" r="1.4" fill="#EE4E38" fill-opacity="0.66"/>
<circle cx="384.9" cy="45.0" r="1.4" fill="#EE4E38" fill-opacity="0.66"/>
<circle cx="388.2" cy="37.6" r="1.4" fill="#EE4E38" fill-opacity="0.66"/>
<circle cx="389.1" cy="65.4" r="1.4" fill="#EE4E38" fill-opacity="0.66"/>
<circle cx="384.9" cy="48.3" r="1.4" fill="#EE4E38" fill-opacity="0.66"/>
<circle cx="381.7" cy="38.5" r="1.4" fill="#EE4E38" fill-opacity="0.66"/>
<circle cx="383.6" cy="73.1" r="1.4" fill="#EE4E38" fill-opacity="0.66"/>
<circle cx="382.4" cy="46.6" r="1.4" fill="#EE4E38" fill-opacity="0.66"/>
<circle cx="389.3" cy="40.5" r="1.4" fill="#EE4E38" fill-opacity="0.66"/>
<circle cx="386.3" cy="41.3" r="1.4" fill="#EE4E38" fill-opacity="0.66"/>
<circle cx="387.7" cy="63.7" r="1.4" fill="#EE4E38" fill-opacity="0.66"/>
<circle cx="382.7" cy="41.2" r="1.4" fill="#EE4E38" fill-opacity="0.66"/>
<circle cx="383.5" cy="47.5" r="1.4" fill="#EE4E38" fill-opacity="0.66"/>
<circle cx="382.7" cy="64.0" r="1.4" fill="#EE4E38" fill-opacity="0.66"/>
<circle cx="391.7" cy="42.7" r="1.4" fill="#EE4E38" fill-opacity="0.66"/>
<circle cx="387.7" cy="52.2" r="1.4" fill="#EE4E38" fill-opacity="0.66"/>
<circle cx="384.4" cy="57.7" r="1.4" fill="#EE4E38" fill-opacity="0.66"/>
<circle cx="384.1" cy="37.1" r="1.4" fill="#EE4E38" fill-opacity="0.66"/>
<circle cx="388.2" cy="53.3" r="1.4" fill="#EE4E38" fill-opacity="0.66"/>
<circle cx="388.4" cy="63.2" r="1.4" fill="#EE4E38" fill-opacity="0.66"/>
<circle cx="382.3" cy="61.7" r="1.4" fill="#EE4E38" fill-opacity="0.66"/>
<circle cx="386.6" cy="48.4" r="1.4" fill="#EE4E38" fill-opacity="0.66"/>
<circle cx="391.7" cy="54.9" r="1.4" fill="#EE4E38" fill-opacity="0.66"/>
<circle cx="390.4" cy="34.2" r="1.4" fill="#EE4E38" fill-opacity="0.66"/>
<circle cx="382.7" cy="46.4" r="1.4" fill="#EE4E38" fill-opacity="0.66"/>
<circle cx="382.6" cy="71.5" r="1.4" fill="#EE4E38" fill-opacity="0.66"/>
<circle cx="391.3" cy="51.2" r="1.4" fill="#EE4E38" fill-opacity="0.66"/>
<circle cx="392.9" cy="46.6" r="1.4" fill="#EE4E38" fill-opacity="0.66"/>
<circle cx="388.1" cy="56.9" r="1.4" fill="#EE4E38" fill-opacity="0.66"/>
<circle cx="390.7" cy="53.3" r="1.4" fill="#EE4E38" fill-opacity="0.66"/>
<circle cx="382.0" cy="45.9" r="1.4" fill="#EE4E38" fill-opacity="0.66"/>
<circle cx="381.5" cy="53.3" r="1.4" fill="#EE4E38" fill-opacity="0.66"/>
<circle cx="388.5" cy="63.8" r="1.4" fill="#EE4E38" fill-opacity="0.66"/>
<circle cx="389.8" cy="54.6" r="1.4" fill="#EE4E38" fill-opacity="0.66"/>
<circle cx="386.5" cy="62.2" r="1.4" fill="#EE4E38" fill-opacity="0.66"/>
<circle cx="391.8" cy="65.1" r="1.4" fill="#EE4E38" fill-opacity="0.66"/>
<circle cx="388.1" cy="41.5" r="1.4" fill="#EE4E38" fill-opacity="0.66"/>
<circle cx="383.4" cy="73.4" r="1.4" fill="#EE4E38" fill-opacity="0.66"/>
<circle cx="390.3" cy="40.3" r="1.4" fill="#EE4E38" fill-opacity="0.66"/>
<circle cx="389.5" cy="41.2" r="1.4" fill="#EE4E38" fill-opacity="0.66"/>
<circle cx="391.3" cy="69.4" r="1.4" fill="#EE4E38" fill-opacity="0.66"/>
<circle cx="390.2" cy="60.6" r="1.4" fill="#EE4E38" fill-opacity="0.66"/>
<circle cx="392.7" cy="60.4" r="1.4" fill="#EE4E38" fill-opacity="0.66"/>
<circle cx="388.6" cy="51.7" r="1.4" fill="#EE4E38" fill-opacity="0.66"/>
<circle cx="382.5" cy="48.8" r="1.4" fill="#EE4E38" fill-opacity="0.66"/>
<circle cx="382.7" cy="31.7" r="1.4" fill="#EE4E38" fill-opacity="0.66"/>
<circle cx="392.5" cy="45.8" r="1.4" fill="#EE4E38" fill-opacity="0.66"/>
<circle cx="383.7" cy="48.1" r="1.4" fill="#EE4E38" fill-opacity="0.66"/>
<circle cx="386.7" cy="44.1" r="1.4" fill="#EE4E38" fill-opacity="0.66"/>
<circle cx="382.7" cy="60.6" r="1.4" fill="#EE4E38" fill-opacity="0.66"/>
<circle cx="381.6" cy="38.8" r="1.4" fill="#EE4E38" fill-opacity="0.66"/>
<circle cx="383.6" cy="68.9" r="1.4" fill="#EE4E38" fill-opacity="0.66"/>
<circle cx="388.0" cy="66.1" r="1.4" fill="#EE4E38" fill-opacity="0.66"/>
<circle cx="385.9" cy="47.7" r="1.4" fill="#EE4E38" fill-opacity="0.66"/>
<circle cx="383.1" cy="70.0" r="1.4" fill="#EE4E38" fill-opacity="0.66"/>
<circle cx="389.6" cy="62.9" r="1.4" fill="#EE4E38" fill-opacity="0.66"/>
<circle cx="391.0" cy="41.8" r="1.4" fill="#EE4E38" fill-opacity="0.66"/>
<circle cx="385.5" cy="54.2" r="1.4" fill="#EE4E38" fill-opacity="0.66"/>
<circle cx="383.2" cy="51.7" r="1.4" fill="#EE4E38" fill-opacity="0.66"/>
<circle cx="391.0" cy="27.9" r="1.4" fill="#EE4E38" fill-opacity="0.66"/>
<circle cx="381.8" cy="52.0" r="1.4" fill="#EE4E38" fill-opacity="0.66"/>
<circle cx="389.5" cy="61.4" r="1.4" fill="#EE4E38" fill-opacity="0.66"/>
<circle cx="386.1" cy="72.5" r="1.4" fill="#EE4E38" fill-opacity="0.66"/>
<circle cx="391.5" cy="45.3" r="1.4" fill="#EE4E38" fill-opacity="0.66"/>
<circle cx="386.1" cy="53.4" r="1.4" fill="#EE4E38" fill-opacity="0.66"/>
<circle cx="382.3" cy="63.8" r="1.4" fill="#EE4E38" fill-opacity="0.66"/>
<circle cx="385.3" cy="40.5" r="1.4" fill="#EE4E38" fill-opacity="0.66"/>
<circle cx="388.4" cy="57.6" r="1.4" fill="#EE4E38" fill-opacity="0.66"/>
<circle cx="381.9" cy="77.2" r="1.4" fill="#EE4E38" fill-opacity="0.66"/>
<circle cx="387.0" cy="57.8" r="1.4" fill="#EE4E38" fill-opacity="0.66"/>
<circle cx="388.3" cy="62.2" r="1.4" fill="#EE4E38" fill-opacity="0.66"/>
<circle cx="381.4" cy="43.8" r="1.4" fill="#EE4E38" fill-opacity="0.66"/>
<circle cx="388.3" cy="59.6" r="1.4" fill="#EE4E38" fill-opacity="0.66"/>
<circle cx="386.9" cy="51.1" r="1.4" fill="#EE4E38" fill-opacity="0.66"/>
<circle cx="393.2" cy="54.4" r="1.4" fill="#EE4E38" fill-opacity="0.66"/>
<circle cx="389.4" cy="58.8" r="1.4" fill="#EE4E38" fill-opacity="0.66"/>
<circle cx="384.6" cy="54.2" r="1.4" fill="#EE4E38" fill-opacity="0.66"/>
<circle cx="384.5" cy="50.2" r="1.4" fill="#EE4E38" fill-opacity="0.66"/>
<circle cx="388.2" cy="66.3" r="1.4" fill="#EE4E38" fill-opacity="0.66"/>
<circle cx="393.3" cy="47.0" r="1.4" fill="#EE4E38" fill-opacity="0.66"/>
<circle cx="390.6" cy="67.3" r="1.4" fill="#EE4E38" fill-opacity="0.66"/>
<circle cx="391.8" cy="55.6" r="1.4" fill="#EE4E38" fill-opacity="0.66"/>
<circle cx="389.0" cy="54.9" r="1.4" fill="#EE4E38" fill-opacity="0.66"/>
<circle cx="385.7" cy="35.5" r="1.4" fill="#EE4E38" fill-opacity="0.66"/>
<circle cx="391.8" cy="48.1" r="1.4" fill="#EE4E38" fill-opacity="0.66"/>
<circle cx="392.6" cy="73.3" r="1.4" fill="#EE4E38" fill-opacity="0.66"/>
<circle cx="390.5" cy="48.0" r="1.4" fill="#EE4E38" fill-opacity="0.66"/>
<circle cx="407.9" cy="54.9" r="1.4" fill="#1592C9" fill-opacity="0.66"/>
<circle cx="403.3" cy="51.0" r="1.4" fill="#1592C9" fill-opacity="0.66"/>
<circle cx="405.7" cy="59.0" r="1.4" fill="#1592C9" fill-opacity="0.66"/>
<circle cx="403.1" cy="57.7" r="1.4" fill="#1592C9" fill-opacity="0.66"/>
<circle cx="402.9" cy="60.7" r="1.4" fill="#1592C9" fill-opacity="0.66"/>
<circle cx="403.5" cy="66.4" r="1.4" fill="#1592C9" fill-opacity="0.66"/>
<circle cx="402.0" cy="59.0" r="1.4" fill="#1592C9" fill-opacity="0.66"/>
<circle cx="400.7" cy="60.0" r="1.4" fill="#1592C9" fill-opacity="0.66"/>
<circle cx="399.1" cy="65.0" r="1.4" fill="#1592C9" fill-opacity="0.66"/>
<circle cx="404.4" cy="64.0" r="1.4" fill="#1592C9" fill-opacity="0.66"/>
<circle cx="405.9" cy="54.7" r="1.4" fill="#1592C9" fill-opacity="0.66"/>
<circle cx="399.8" cy="58.3" r="1.4" fill="#1592C9" fill-opacity="0.66"/>
<circle cx="402.7" cy="63.0" r="1.4" fill="#1592C9" fill-opacity="0.66"/>
<circle cx="405.7" cy="56.0" r="1.4" fill="#1592C9" fill-opacity="0.66"/>
<circle cx="410.3" cy="68.5" r="1.4" fill="#1592C9" fill-opacity="0.66"/>
<circle cx="406.1" cy="52.2" r="1.4" fill="#1592C9" fill-opacity="0.66"/>
<circle cx="400.0" cy="70.9" r="1.4" fill="#1592C9" fill-opacity="0.66"/>
<circle cx="410.9" cy="62.9" r="1.4" fill="#1592C9" fill-opacity="0.66"/>
<circle cx="403.3" cy="66.6" r="1.4" fill="#1592C9" fill-opacity="0.66"/>
<circle cx="409.5" cy="60.5" r="1.4" fill="#1592C9" fill-opacity="0.66"/>
<circle cx="399.9" cy="53.2" r="1.4" fill="#1592C9" fill-opacity="0.66"/>
<circle cx="402.4" cy="46.7" r="1.4" fill="#1592C9" fill-opacity="0.66"/>
<circle cx="402.1" cy="60.7" r="1.4" fill="#1592C9" fill-opacity="0.66"/>
<circle cx="402.3" cy="63.1" r="1.4" fill="#1592C9" fill-opacity="0.66"/>
<circle cx="407.5" cy="60.0" r="1.4" fill="#1592C9" fill-opacity="0.66"/>
<circle cx="401.5" cy="60.7" r="1.4" fill="#1592C9" fill-opacity="0.66"/>
<circle cx="406.3" cy="65.4" r="1.4" fill="#1592C9" fill-opacity="0.66"/>
<circle cx="401.4" cy="65.2" r="1.4" fill="#1592C9" fill-opacity="0.66"/>
<circle cx="407.9" cy="53.0" r="1.4" fill="#1592C9" fill-opacity="0.66"/>
<circle cx="400.0" cy="67.4" r="1.4" fill="#1592C9" fill-opacity="0.66"/>
<circle cx="408.8" cy="57.6" r="1.4" fill="#1592C9" fill-opacity="0.66"/>
<circle cx="400.7" cy="63.4" r="1.4" fill="#1592C9" fill-opacity="0.66"/>
<circle cx="401.3" cy="55.6" r="1.4" fill="#1592C9" fill-opacity="0.66"/>
<circle cx="406.7" cy="47.6" r="1.4" fill="#1592C9" fill-opacity="0.66"/>
<circle cx="410.1" cy="56.7" r="1.4" fill="#1592C9" fill-opacity="0.66"/>
<circle cx="408.0" cy="60.8" r="1.4" fill="#1592C9" fill-opacity="0.66"/>
<circle cx="406.8" cy="64.7" r="1.4" fill="#1592C9" fill-opacity="0.66"/>
<circle cx="403.1" cy="52.0" r="1.4" fill="#1592C9" fill-opacity="0.66"/>
<circle cx="399.7" cy="64.6" r="1.4" fill="#1592C9" fill-opacity="0.66"/>
<circle cx="406.6" cy="57.9" r="1.4" fill="#1592C9" fill-opacity="0.66"/>
<circle cx="403.1" cy="60.4" r="1.4" fill="#1592C9" fill-opacity="0.66"/>
<circle cx="402.1" cy="51.4" r="1.4" fill="#1592C9" fill-opacity="0.66"/>
<circle cx="404.6" cy="59.8" r="1.4" fill="#1592C9" fill-opacity="0.66"/>
<circle cx="405.8" cy="73.1" r="1.4" fill="#1592C9" fill-opacity="0.66"/>
<circle cx="410.9" cy="60.7" r="1.4" fill="#1592C9" fill-opacity="0.66"/>
<circle cx="407.7" cy="67.3" r="1.4" fill="#1592C9" fill-opacity="0.66"/>
<circle cx="403.0" cy="62.4" r="1.4" fill="#1592C9" fill-opacity="0.66"/>
<circle cx="400.8" cy="62.4" r="1.4" fill="#1592C9" fill-opacity="0.66"/>
<circle cx="408.3" cy="61.4" r="1.4" fill="#1592C9" fill-opacity="0.66"/>
<circle cx="404.1" cy="68.8" r="1.4" fill="#1592C9" fill-opacity="0.66"/>
<circle cx="405.5" cy="65.4" r="1.4" fill="#1592C9" fill-opacity="0.66"/>
<circle cx="406.9" cy="53.0" r="1.4" fill="#1592C9" fill-opacity="0.66"/>
<circle cx="406.3" cy="55.5" r="1.4" fill="#1592C9" fill-opacity="0.66"/>
<circle cx="402.1" cy="54.7" r="1.4" fill="#1592C9" fill-opacity="0.66"/>
<circle cx="407.6" cy="68.1" r="1.4" fill="#1592C9" fill-opacity="0.66"/>
<circle cx="402.8" cy="60.4" r="1.4" fill="#1592C9" fill-opacity="0.66"/>
<circle cx="408.3" cy="49.2" r="1.4" fill="#1592C9" fill-opacity="0.66"/>
<circle cx="402.4" cy="66.0" r="1.4" fill="#1592C9" fill-opacity="0.66"/>
<circle cx="405.3" cy="58.6" r="1.4" fill="#1592C9" fill-opacity="0.66"/>
<circle cx="399.2" cy="62.5" r="1.4" fill="#1592C9" fill-opacity="0.66"/>
<circle cx="404.8" cy="58.3" r="1.4" fill="#1592C9" fill-opacity="0.66"/>
<circle cx="403.4" cy="53.7" r="1.4" fill="#1592C9" fill-opacity="0.66"/>
<circle cx="410.9" cy="50.9" r="1.4" fill="#1592C9" fill-opacity="0.66"/>
<circle cx="400.1" cy="60.9" r="1.4" fill="#1592C9" fill-opacity="0.66"/>
<circle cx="399.4" cy="69.5" r="1.4" fill="#1592C9" fill-opacity="0.66"/>
<circle cx="405.1" cy="60.9" r="1.4" fill="#1592C9" fill-opacity="0.66"/>
<circle cx="405.7" cy="61.1" r="1.4" fill="#1592C9" fill-opacity="0.66"/>
<circle cx="403.4" cy="65.4" r="1.4" fill="#1592C9" fill-opacity="0.66"/>
<circle cx="400.8" cy="72.4" r="1.4" fill="#1592C9" fill-opacity="0.66"/>
<circle cx="410.1" cy="63.8" r="1.4" fill="#1592C9" fill-opacity="0.66"/>
<circle cx="401.0" cy="68.3" r="1.4" fill="#1592C9" fill-opacity="0.66"/>
<circle cx="402.0" cy="69.7" r="1.4" fill="#1592C9" fill-opacity="0.66"/>
<circle cx="410.8" cy="61.4" r="1.4" fill="#1592C9" fill-opacity="0.66"/>
<circle cx="403.2" cy="51.0" r="1.4" fill="#1592C9" fill-opacity="0.66"/>
<circle cx="408.7" cy="59.6" r="1.4" fill="#1592C9" fill-opacity="0.66"/>
<circle cx="409.9" cy="54.4" r="1.4" fill="#1592C9" fill-opacity="0.66"/>
<circle cx="400.3" cy="60.8" r="1.4" fill="#1592C9" fill-opacity="0.66"/>
<circle cx="406.8" cy="59.3" r="1.4" fill="#1592C9" fill-opacity="0.66"/>
<circle cx="403.9" cy="57.3" r="1.4" fill="#1592C9" fill-opacity="0.66"/>
<circle cx="405.8" cy="60.9" r="1.4" fill="#1592C9" fill-opacity="0.66"/>
<circle cx="404.0" cy="57.9" r="1.4" fill="#1592C9" fill-opacity="0.66"/>
<circle cx="406.6" cy="72.1" r="1.4" fill="#1592C9" fill-opacity="0.66"/>
<circle cx="401.7" cy="52.5" r="1.4" fill="#1592C9" fill-opacity="0.66"/>
<circle cx="404.3" cy="59.4" r="1.4" fill="#1592C9" fill-opacity="0.66"/>
<circle cx="401.8" cy="64.2" r="1.4" fill="#1592C9" fill-opacity="0.66"/>
<circle cx="406.8" cy="62.4" r="1.4" fill="#1592C9" fill-opacity="0.66"/>
<circle cx="402.6" cy="69.2" r="1.4" fill="#1592C9" fill-opacity="0.66"/>
<circle cx="405.9" cy="63.7" r="1.4" fill="#1592C9" fill-opacity="0.66"/>
<circle cx="400.9" cy="59.4" r="1.4" fill="#1592C9" fill-opacity="0.66"/>
<circle cx="402.3" cy="67.4" r="1.4" fill="#1592C9" fill-opacity="0.66"/>
<circle cx="422.7" cy="20.2" r="1.4" fill="#8575C8" fill-opacity="0.6"/>
<circle cx="417.7" cy="30.4" r="1.4" fill="#8575C8" fill-opacity="0.6"/>
<rect x="416.5" y="43.3" width="12.5" height="2.4" rx="1.2" fill="#8575C8" fill-opacity="0.48"/>
<circle cx="417.0" cy="44.7" r="1.25" fill="#8575C8" fill-opacity="0.45"/>
<circle cx="418.6" cy="44.6" r="1.25" fill="#8575C8" fill-opacity="0.45"/>
<circle cx="420.9" cy="44.5" r="1.25" fill="#8575C8" fill-opacity="0.45"/>
<circle cx="422.8" cy="44.7" r="1.25" fill="#8575C8" fill-opacity="0.45"/>
<circle cx="424.4" cy="44.7" r="1.25" fill="#8575C8" fill-opacity="0.45"/>
<circle cx="426.4" cy="44.7" r="1.25" fill="#8575C8" fill-opacity="0.45"/>
<circle cx="428.9" cy="44.3" r="1.25" fill="#8575C8" fill-opacity="0.45"/>
<circle cx="417.4" cy="55.8" r="1.4" fill="#8575C8" fill-opacity="0.6"/>
<circle cx="421.3" cy="55.2" r="1.4" fill="#8575C8" fill-opacity="0.6"/>
<circle cx="417.5" cy="61.8" r="1.4" fill="#8575C8" fill-opacity="0.6"/>
<circle cx="421.4" cy="61.7" r="1.4" fill="#8575C8" fill-opacity="0.6"/>
<circle cx="425.6" cy="64.6" r="1.4" fill="#8575C8" fill-opacity="0.6"/>
<circle cx="416.5" cy="66.8" r="1.4" fill="#8575C8" fill-opacity="0.6"/>
<circle cx="426.2" cy="66.8" r="1.4" fill="#8575C8" fill-opacity="0.6"/>
<circle cx="424.8" cy="74.8" r="1.4" fill="#8575C8" fill-opacity="0.6"/>
<rect x="416.5" y="77.3" width="11.0" height="2.4" rx="1.2" fill="#8575C8" fill-opacity="0.48"/>
<circle cx="417.2" cy="78.7" r="1.25" fill="#8575C8" fill-opacity="0.45"/>
<circle cx="418.9" cy="78.2" r="1.25" fill="#8575C8" fill-opacity="0.45"/>
<circle cx="419.6" cy="78.7" r="1.25" fill="#8575C8" fill-opacity="0.45"/>
<circle cx="421.5" cy="78.2" r="1.25" fill="#8575C8" fill-opacity="0.45"/>
<circle cx="422.7" cy="78.3" r="1.25" fill="#8575C8" fill-opacity="0.45"/>
<circle cx="424.1" cy="78.3" r="1.25" fill="#8575C8" fill-opacity="0.45"/>
<circle cx="425.1" cy="78.8" r="1.25" fill="#8575C8" fill-opacity="0.45"/>
<circle cx="426.8" cy="78.7" r="1.25" fill="#8575C8" fill-opacity="0.45"/>
<rect x="417.5" y="80.8" width="10.0" height="2.4" rx="1.2" fill="#8575C8" fill-opacity="0.48"/>
<circle cx="417.6" cy="82.0" r="1.25" fill="#8575C8" fill-opacity="0.45"/>
<circle cx="419.9" cy="82.0" r="1.25" fill="#8575C8" fill-opacity="0.45"/>
<circle cx="422.2" cy="82.1" r="1.25" fill="#8575C8" fill-opacity="0.45"/>
<circle cx="424.4" cy="82.1" r="1.25" fill="#8575C8" fill-opacity="0.45"/>
<circle cx="427.0" cy="81.8" r="1.25" fill="#8575C8" fill-opacity="0.45"/>
<circle cx="417.8" cy="89.5" r="1.4" fill="#8575C8" fill-opacity="0.6"/>
<circle cx="425.5" cy="89.4" r="1.4" fill="#8575C8" fill-opacity="0.6"/>
<rect x="416.5" y="98.3" width="11.0" height="2.4" rx="1.2" fill="#8575C8" fill-opacity="0.48"/>
<circle cx="416.7" cy="99.8" r="1.25" fill="#8575C8" fill-opacity="0.45"/>
<circle cx="419.4" cy="99.6" r="1.25" fill="#8575C8" fill-opacity="0.45"/>
<circle cx="420.8" cy="99.3" r="1.25" fill="#8575C8" fill-opacity="0.45"/>
<circle cx="422.8" cy="99.2" r="1.25" fill="#8575C8" fill-opacity="0.45"/>
<circle cx="424.5" cy="99.5" r="1.25" fill="#8575C8" fill-opacity="0.45"/>
<circle cx="426.9" cy="99.5" r="1.25" fill="#8575C8" fill-opacity="0.45"/>
<rect x="416.5" y="100.8" width="11.0" height="2.4" rx="1.2" fill="#8575C8" fill-opacity="0.48"/>
<circle cx="416.9" cy="101.7" r="1.25" fill="#8575C8" fill-opacity="0.45"/>
<circle cx="419.2" cy="102.1" r="1.25" fill="#8575C8" fill-opacity="0.45"/>
<circle cx="421.0" cy="102.0" r="1.25" fill="#8575C8" fill-opacity="0.45"/>
<circle cx="423.2" cy="102.3" r="1.25" fill="#8575C8" fill-opacity="0.45"/>
<circle cx="425.4" cy="102.1" r="1.25" fill="#8575C8" fill-opacity="0.45"/>
<circle cx="426.9" cy="101.9" r="1.25" fill="#8575C8" fill-opacity="0.45"/>
<circle cx="424.9" cy="109.8" r="1.4" fill="#8575C8" fill-opacity="0.6"/>
<rect x="415.5" y="111.8" width="12.0" height="2.4" rx="1.2" fill="#8575C8" fill-opacity="0.48"/>
<circle cx="415.9" cy="112.9" r="1.25" fill="#8575C8" fill-opacity="0.45"/>
<circle cx="417.5" cy="112.8" r="1.25" fill="#8575C8" fill-opacity="0.45"/>
<circle cx="419.6" cy="112.7" r="1.25" fill="#8575C8" fill-opacity="0.45"/>
<circle cx="420.8" cy="113.3" r="1.25" fill="#8575C8" fill-opacity="0.45"/>
<circle cx="422.0" cy="113.1" r="1.25" fill="#8575C8" fill-opacity="0.45"/>
<circle cx="423.7" cy="112.8" r="1.25" fill="#8575C8" fill-opacity="0.45"/>
<circle cx="425.1" cy="112.8" r="1.25" fill="#8575C8" fill-opacity="0.45"/>
<circle cx="427.3" cy="113.2" r="1.25" fill="#8575C8" fill-opacity="0.45"/>
<rect x="415.5" y="122.3" width="12.0" height="2.4" rx="1.2" fill="#8575C8" fill-opacity="0.48"/>
<circle cx="416.4" cy="123.2" r="1.25" fill="#8575C8" fill-opacity="0.45"/>
<circle cx="417.8" cy="123.4" r="1.25" fill="#8575C8" fill-opacity="0.45"/>
<circle cx="419.3" cy="123.5" r="1.25" fill="#8575C8" fill-opacity="0.45"/>
<circle cx="420.5" cy="123.8" r="1.25" fill="#8575C8" fill-opacity="0.45"/>
<circle cx="421.8" cy="123.6" r="1.25" fill="#8575C8" fill-opacity="0.45"/>
<circle cx="424.2" cy="123.5" r="1.25" fill="#8575C8" fill-opacity="0.45"/>
<circle cx="425.5" cy="123.8" r="1.25" fill="#8575C8" fill-opacity="0.45"/>
<circle cx="426.7" cy="123.6" r="1.25" fill="#8575C8" fill-opacity="0.45"/>
<circle cx="418.3" cy="124.9" r="1.4" fill="#8575C8" fill-opacity="0.6"/>
<circle cx="424.3" cy="124.9" r="1.4" fill="#8575C8" fill-opacity="0.6"/>
<circle cx="424.0" cy="133.6" r="1.4" fill="#8575C8" fill-opacity="0.6"/>
<circle cx="426.2" cy="133.4" r="1.4" fill="#8575C8" fill-opacity="0.6"/>
<circle cx="420.2" cy="136.0" r="1.4" fill="#8575C8" fill-opacity="0.6"/>
<circle cx="423.7" cy="136.1" r="1.4" fill="#8575C8" fill-opacity="0.6"/>
<circle cx="426.7" cy="136.2" r="1.4" fill="#8575C8" fill-opacity="0.6"/>
<circle cx="420.5" cy="144.1" r="1.4" fill="#8575C8" fill-opacity="0.6"/>
<circle cx="423.5" cy="147.0" r="1.4" fill="#8575C8" fill-opacity="0.6"/>
<circle cx="449.8" cy="92.2" r="1.4" fill="#EE4E38" fill-opacity="0.66"/>
<circle cx="453.5" cy="106.4" r="1.4" fill="#EE4E38" fill-opacity="0.66"/>
<circle cx="456.9" cy="93.7" r="1.4" fill="#EE4E38" fill-opacity="0.66"/>
<circle cx="450.0" cy="98.6" r="1.4" fill="#EE4E38" fill-opacity="0.66"/>
<circle cx="452.6" cy="103.7" r="1.4" fill="#EE4E38" fill-opacity="0.66"/>
<circle cx="454.8" cy="107.4" r="1.4" fill="#EE4E38" fill-opacity="0.66"/>
<circle cx="457.5" cy="104.3" r="1.4" fill="#EE4E38" fill-opacity="0.66"/>
<circle cx="447.6" cy="90.5" r="1.4" fill="#EE4E38" fill-opacity="0.66"/>
<circle cx="456.9" cy="92.8" r="1.4" fill="#EE4E38" fill-opacity="0.66"/>
<circle cx="448.6" cy="105.7" r="1.4" fill="#EE4E38" fill-opacity="0.66"/>
<circle cx="448.4" cy="101.6" r="1.4" fill="#EE4E38" fill-opacity="0.66"/>
<circle cx="451.4" cy="102.5" r="1.4" fill="#EE4E38" fill-opacity="0.66"/>
<circle cx="452.6" cy="101.4" r="1.4" fill="#EE4E38" fill-opacity="0.66"/>
<circle cx="448.2" cy="94.0" r="1.4" fill="#EE4E38" fill-opacity="0.66"/>
<circle cx="452.9" cy="97.7" r="1.4" fill="#EE4E38" fill-opacity="0.66"/>
<circle cx="456.7" cy="94.6" r="1.4" fill="#EE4E38" fill-opacity="0.66"/>
<circle cx="455.3" cy="99.7" r="1.4" fill="#EE4E38" fill-opacity="0.66"/>
<circle cx="451.5" cy="96.8" r="1.4" fill="#EE4E38" fill-opacity="0.66"/>
<circle cx="451.6" cy="96.0" r="1.4" fill="#EE4E38" fill-opacity="0.66"/>
<circle cx="451.2" cy="99.0" r="1.4" fill="#EE4E38" fill-opacity="0.66"/>
<circle cx="449.5" cy="98.8" r="1.4" fill="#EE4E38" fill-opacity="0.66"/>
<circle cx="454.0" cy="100.1" r="1.4" fill="#EE4E38" fill-opacity="0.66"/>
<circle cx="455.7" cy="102.3" r="1.4" fill="#EE4E38" fill-opacity="0.66"/>
<circle cx="450.4" cy="100.6" r="1.4" fill="#EE4E38" fill-opacity="0.66"/>
<circle cx="457.1" cy="97.9" r="1.4" fill="#EE4E38" fill-opacity="0.66"/>
<circle cx="448.2" cy="102.7" r="1.4" fill="#EE4E38" fill-opacity="0.66"/>
<circle cx="449.5" cy="93.3" r="1.4" fill="#EE4E38" fill-opacity="0.66"/>
<circle cx="452.2" cy="92.3" r="1.4" fill="#EE4E38" fill-opacity="0.66"/>
<circle cx="451.6" cy="101.2" r="1.4" fill="#EE4E38" fill-opacity="0.66"/>
<circle cx="447.6" cy="93.1" r="1.4" fill="#EE4E38" fill-opacity="0.66"/>
<circle cx="455.7" cy="95.2" r="1.4" fill="#EE4E38" fill-opacity="0.66"/>
<circle cx="450.7" cy="101.1" r="1.4" fill="#EE4E38" fill-opacity="0.66"/>
<circle cx="456.8" cy="93.7" r="1.4" fill="#EE4E38" fill-opacity="0.66"/>
<circle cx="451.3" cy="103.3" r="1.4" fill="#EE4E38" fill-opacity="0.66"/>
<circle cx="458.2" cy="94.8" r="1.4" fill="#EE4E38" fill-opacity="0.66"/>
<circle cx="449.4" cy="103.7" r="1.4" fill="#EE4E38" fill-opacity="0.66"/>
<circle cx="451.6" cy="107.0" r="1.4" fill="#EE4E38" fill-opacity="0.66"/>
<circle cx="455.1" cy="98.1" r="1.4" fill="#EE4E38" fill-opacity="0.66"/>
<circle cx="456.2" cy="98.6" r="1.4" fill="#EE4E38" fill-opacity="0.66"/>
<circle cx="451.7" cy="101.1" r="1.4" fill="#EE4E38" fill-opacity="0.66"/>
<circle cx="457.9" cy="93.9" r="1.4" fill="#EE4E38" fill-opacity="0.66"/>
<circle cx="456.2" cy="98.6" r="1.4" fill="#EE4E38" fill-opacity="0.66"/>
<circle cx="452.7" cy="105.9" r="1.4" fill="#EE4E38" fill-opacity="0.66"/>
<circle cx="452.7" cy="100.5" r="1.4" fill="#EE4E38" fill-opacity="0.66"/>
<circle cx="452.8" cy="102.2" r="1.4" fill="#EE4E38" fill-opacity="0.66"/>
<circle cx="457.8" cy="95.3" r="1.4" fill="#EE4E38" fill-opacity="0.66"/>
<circle cx="453.3" cy="94.3" r="1.4" fill="#EE4E38" fill-opacity="0.66"/>
<circle cx="457.0" cy="101.6" r="1.4" fill="#EE4E38" fill-opacity="0.66"/>
<circle cx="451.9" cy="95.7" r="1.4" fill="#EE4E38" fill-opacity="0.66"/>
<circle cx="447.6" cy="92.6" r="1.4" fill="#EE4E38" fill-opacity="0.66"/>
<circle cx="456.4" cy="96.9" r="1.4" fill="#EE4E38" fill-opacity="0.66"/>
<circle cx="456.4" cy="94.0" r="1.4" fill="#EE4E38" fill-opacity="0.66"/>
<circle cx="448.0" cy="102.0" r="1.4" fill="#EE4E38" fill-opacity="0.66"/>
<circle cx="456.9" cy="101.8" r="1.4" fill="#EE4E38" fill-opacity="0.66"/>
<circle cx="456.2" cy="101.2" r="1.4" fill="#EE4E38" fill-opacity="0.66"/>
<circle cx="453.9" cy="100.7" r="1.4" fill="#EE4E38" fill-opacity="0.66"/>
<circle cx="455.7" cy="106.3" r="1.4" fill="#EE4E38" fill-opacity="0.66"/>
<circle cx="452.9" cy="102.0" r="1.4" fill="#EE4E38" fill-opacity="0.66"/>
<circle cx="452.1" cy="106.4" r="1.4" fill="#EE4E38" fill-opacity="0.66"/>
<circle cx="454.1" cy="102.0" r="1.4" fill="#EE4E38" fill-opacity="0.66"/>
<circle cx="457.6" cy="99.4" r="1.4" fill="#EE4E38" fill-opacity="0.66"/>
<circle cx="453.3" cy="102.1" r="1.4" fill="#EE4E38" fill-opacity="0.66"/>
<circle cx="447.2" cy="102.9" r="1.4" fill="#EE4E38" fill-opacity="0.66"/>
<circle cx="450.3" cy="103.3" r="1.4" fill="#EE4E38" fill-opacity="0.66"/>
<circle cx="450.9" cy="99.2" r="1.4" fill="#EE4E38" fill-opacity="0.66"/>
<circle cx="453.8" cy="99.2" r="1.4" fill="#EE4E38" fill-opacity="0.66"/>
<circle cx="447.7" cy="94.5" r="1.4" fill="#EE4E38" fill-opacity="0.66"/>
<circle cx="450.8" cy="99.2" r="1.4" fill="#EE4E38" fill-opacity="0.66"/>
<circle cx="457.4" cy="105.3" r="1.4" fill="#EE4E38" fill-opacity="0.66"/>
<circle cx="450.2" cy="93.1" r="1.4" fill="#EE4E38" fill-opacity="0.66"/>
<circle cx="453.6" cy="100.0" r="1.4" fill="#EE4E38" fill-opacity="0.66"/>
<circle cx="451.6" cy="101.0" r="1.4" fill="#EE4E38" fill-opacity="0.66"/>
<circle cx="454.1" cy="94.1" r="1.4" fill="#EE4E38" fill-opacity="0.66"/>
<circle cx="451.5" cy="100.7" r="1.4" fill="#EE4E38" fill-opacity="0.66"/>
<circle cx="458.2" cy="100.5" r="1.4" fill="#EE4E38" fill-opacity="0.66"/>
<circle cx="453.8" cy="96.5" r="1.4" fill="#EE4E38" fill-opacity="0.66"/>
<circle cx="453.5" cy="103.5" r="1.4" fill="#EE4E38" fill-opacity="0.66"/>
<circle cx="452.0" cy="100.8" r="1.4" fill="#EE4E38" fill-opacity="0.66"/>
<circle cx="450.4" cy="95.6" r="1.4" fill="#EE4E38" fill-opacity="0.66"/>
<circle cx="456.7" cy="97.8" r="1.4" fill="#EE4E38" fill-opacity="0.66"/>
<circle cx="456.7" cy="97.5" r="1.4" fill="#EE4E38" fill-opacity="0.66"/>
<circle cx="454.2" cy="106.8" r="1.4" fill="#EE4E38" fill-opacity="0.66"/>
<circle cx="452.5" cy="88.7" r="1.4" fill="#EE4E38" fill-opacity="0.66"/>
<circle cx="457.7" cy="102.7" r="1.4" fill="#EE4E38" fill-opacity="0.66"/>
<circle cx="454.8" cy="104.3" r="1.4" fill="#EE4E38" fill-opacity="0.66"/>
<circle cx="447.7" cy="101.3" r="1.4" fill="#EE4E38" fill-opacity="0.66"/>
<circle cx="454.3" cy="100.7" r="1.4" fill="#EE4E38" fill-opacity="0.66"/>
<circle cx="449.3" cy="98.1" r="1.4" fill="#EE4E38" fill-opacity="0.66"/>
<circle cx="456.7" cy="104.9" r="1.4" fill="#EE4E38" fill-opacity="0.66"/>
<circle cx="453.1" cy="96.6" r="1.4" fill="#EE4E38" fill-opacity="0.66"/>
<circle cx="468.4" cy="95.0" r="1.4" fill="#1592C9" fill-opacity="0.66"/>
<circle cx="467.4" cy="91.5" r="1.4" fill="#1592C9" fill-opacity="0.66"/>
<circle cx="475.8" cy="100.4" r="1.4" fill="#1592C9" fill-opacity="0.66"/>
<circle cx="467.3" cy="96.2" r="1.4" fill="#1592C9" fill-opacity="0.66"/>
<circle cx="474.2" cy="100.8" r="1.4" fill="#1592C9" fill-opacity="0.66"/>
<circle cx="476.2" cy="100.3" r="1.4" fill="#1592C9" fill-opacity="0.66"/>
<circle cx="467.9" cy="91.9" r="1.4" fill="#1592C9" fill-opacity="0.66"/>
<circle cx="475.7" cy="102.9" r="1.4" fill="#1592C9" fill-opacity="0.66"/>
<circle cx="465.5" cy="97.5" r="1.4" fill="#1592C9" fill-opacity="0.66"/>
<circle cx="473.2" cy="95.9" r="1.4" fill="#1592C9" fill-opacity="0.66"/>
<circle cx="468.3" cy="101.5" r="1.4" fill="#1592C9" fill-opacity="0.66"/>
<circle cx="468.6" cy="99.6" r="1.4" fill="#1592C9" fill-opacity="0.66"/>
<circle cx="471.5" cy="106.0" r="1.4" fill="#1592C9" fill-opacity="0.66"/>
<circle cx="468.7" cy="105.7" r="1.4" fill="#1592C9" fill-opacity="0.66"/>
<circle cx="474.4" cy="100.5" r="1.4" fill="#1592C9" fill-opacity="0.66"/>
<circle cx="476.6" cy="96.1" r="1.4" fill="#1592C9" fill-opacity="0.66"/>
<circle cx="469.4" cy="97.7" r="1.4" fill="#1592C9" fill-opacity="0.66"/>
<circle cx="472.5" cy="99.7" r="1.4" fill="#1592C9" fill-opacity="0.66"/>
<circle cx="465.9" cy="100.0" r="1.4" fill="#1592C9" fill-opacity="0.66"/>
<circle cx="470.4" cy="105.6" r="1.4" fill="#1592C9" fill-opacity="0.66"/>
<circle cx="473.0" cy="98.0" r="1.4" fill="#1592C9" fill-opacity="0.66"/>
<circle cx="466.2" cy="93.0" r="1.4" fill="#1592C9" fill-opacity="0.66"/>
<circle cx="475.9" cy="100.1" r="1.4" fill="#1592C9" fill-opacity="0.66"/>
<circle cx="476.8" cy="96.3" r="1.4" fill="#1592C9" fill-opacity="0.66"/>
<circle cx="468.3" cy="105.0" r="1.4" fill="#1592C9" fill-opacity="0.66"/>
<circle cx="469.0" cy="96.3" r="1.4" fill="#1592C9" fill-opacity="0.66"/>
<circle cx="476.0" cy="98.8" r="1.4" fill="#1592C9" fill-opacity="0.66"/>
<circle cx="465.9" cy="92.4" r="1.4" fill="#1592C9" fill-opacity="0.66"/>
<circle cx="472.0" cy="87.9" r="1.4" fill="#1592C9" fill-opacity="0.66"/>
<circle cx="471.3" cy="99.9" r="1.4" fill="#1592C9" fill-opacity="0.66"/>
<circle cx="468.1" cy="101.4" r="1.4" fill="#1592C9" fill-opacity="0.66"/>
<circle cx="475.5" cy="100.4" r="1.4" fill="#1592C9" fill-opacity="0.66"/>
<circle cx="475.9" cy="101.0" r="1.4" fill="#1592C9" fill-opacity="0.66"/>
<circle cx="465.2" cy="95.5" r="1.4" fill="#1592C9" fill-opacity="0.66"/>
<circle cx="469.0" cy="87.1" r="1.4" fill="#1592C9" fill-opacity="0.66"/>
<circle cx="476.2" cy="90.4" r="1.4" fill="#1592C9" fill-opacity="0.66"/>
<circle cx="468.8" cy="97.8" r="1.4" fill="#1592C9" fill-opacity="0.66"/>
<circle cx="470.2" cy="97.3" r="1.4" fill="#1592C9" fill-opacity="0.66"/>
<circle cx="467.0" cy="98.9" r="1.4" fill="#1592C9" fill-opacity="0.66"/>
<circle cx="474.3" cy="107.9" r="1.4" fill="#1592C9" fill-opacity="0.66"/>
<circle cx="471.5" cy="98.2" r="1.4" fill="#1592C9" fill-opacity="0.66"/>
<circle cx="466.0" cy="100.8" r="1.4" fill="#1592C9" fill-opacity="0.66"/>
<circle cx="472.0" cy="89.6" r="1.4" fill="#1592C9" fill-opacity="0.66"/>
<circle cx="470.4" cy="95.7" r="1.4" fill="#1592C9" fill-opacity="0.66"/>
<circle cx="466.0" cy="105.3" r="1.4" fill="#1592C9" fill-opacity="0.66"/>
<circle cx="472.6" cy="100.2" r="1.4" fill="#1592C9" fill-opacity="0.66"/>
<circle cx="469.1" cy="103.7" r="1.4" fill="#1592C9" fill-opacity="0.66"/>
<circle cx="469.3" cy="104.1" r="1.4" fill="#1592C9" fill-opacity="0.66"/>
<circle cx="466.9" cy="97.1" r="1.4" fill="#1592C9" fill-opacity="0.66"/>
<circle cx="476.1" cy="96.0" r="1.4" fill="#1592C9" fill-opacity="0.66"/>
<circle cx="475.3" cy="93.6" r="1.4" fill="#1592C9" fill-opacity="0.66"/>
<circle cx="470.6" cy="108.0" r="1.4" fill="#1592C9" fill-opacity="0.66"/>
<circle cx="475.4" cy="100.2" r="1.4" fill="#1592C9" fill-opacity="0.66"/>
<circle cx="466.2" cy="100.8" r="1.4" fill="#1592C9" fill-opacity="0.66"/>
<circle cx="466.2" cy="92.0" r="1.4" fill="#1592C9" fill-opacity="0.66"/>
<circle cx="470.4" cy="99.0" r="1.4" fill="#1592C9" fill-opacity="0.66"/>
<circle cx="470.9" cy="102.3" r="1.4" fill="#1592C9" fill-opacity="0.66"/>
<circle cx="469.2" cy="104.6" r="1.4" fill="#1592C9" fill-opacity="0.66"/>
<circle cx="467.3" cy="100.6" r="1.4" fill="#1592C9" fill-opacity="0.66"/>
<circle cx="466.3" cy="104.1" r="1.4" fill="#1592C9" fill-opacity="0.66"/>
<circle cx="470.8" cy="99.5" r="1.4" fill="#1592C9" fill-opacity="0.66"/>
<circle cx="476.1" cy="99.5" r="1.4" fill="#1592C9" fill-opacity="0.66"/>
<circle cx="470.7" cy="98.2" r="1.4" fill="#1592C9" fill-opacity="0.66"/>
<circle cx="473.1" cy="100.6" r="1.4" fill="#1592C9" fill-opacity="0.66"/>
<circle cx="467.6" cy="91.9" r="1.4" fill="#1592C9" fill-opacity="0.66"/>
<circle cx="468.0" cy="98.8" r="1.4" fill="#1592C9" fill-opacity="0.66"/>
<circle cx="465.2" cy="95.6" r="1.4" fill="#1592C9" fill-opacity="0.66"/>
<circle cx="468.3" cy="93.6" r="1.4" fill="#1592C9" fill-opacity="0.66"/>
<circle cx="475.5" cy="102.9" r="1.4" fill="#1592C9" fill-opacity="0.66"/>
<circle cx="467.6" cy="105.0" r="1.4" fill="#1592C9" fill-opacity="0.66"/>
<circle cx="472.0" cy="102.5" r="1.4" fill="#1592C9" fill-opacity="0.66"/>
<circle cx="465.6" cy="100.6" r="1.4" fill="#1592C9" fill-opacity="0.66"/>
<circle cx="467.8" cy="90.3" r="1.4" fill="#1592C9" fill-opacity="0.66"/>
<circle cx="465.3" cy="86.1" r="1.4" fill="#1592C9" fill-opacity="0.66"/>
<circle cx="472.2" cy="89.6" r="1.4" fill="#1592C9" fill-opacity="0.66"/>
<circle cx="468.9" cy="95.2" r="1.4" fill="#1592C9" fill-opacity="0.66"/>
<circle cx="474.5" cy="89.4" r="1.4" fill="#1592C9" fill-opacity="0.66"/>
<circle cx="464.9" cy="86.8" r="1.4" fill="#1592C9" fill-opacity="0.66"/>
<circle cx="476.1" cy="101.7" r="1.4" fill="#1592C9" fill-opacity="0.66"/>
<circle cx="465.9" cy="94.0" r="1.4" fill="#1592C9" fill-opacity="0.66"/>
<circle cx="467.8" cy="101.8" r="1.4" fill="#1592C9" fill-opacity="0.66"/>
<circle cx="466.6" cy="98.0" r="1.4" fill="#1592C9" fill-opacity="0.66"/>
<circle cx="469.0" cy="90.6" r="1.4" fill="#1592C9" fill-opacity="0.66"/>
<circle cx="467.5" cy="101.1" r="1.4" fill="#1592C9" fill-opacity="0.66"/>
<circle cx="468.8" cy="101.6" r="1.4" fill="#1592C9" fill-opacity="0.66"/>
<circle cx="474.3" cy="96.0" r="1.4" fill="#1592C9" fill-opacity="0.66"/>
<circle cx="474.2" cy="92.4" r="1.4" fill="#1592C9" fill-opacity="0.66"/>
<circle cx="475.7" cy="99.6" r="1.4" fill="#1592C9" fill-opacity="0.66"/>
<circle cx="467.2" cy="98.9" r="1.4" fill="#1592C9" fill-opacity="0.66"/>
<circle cx="472.3" cy="91.0" r="1.4" fill="#1592C9" fill-opacity="0.66"/>
<circle cx="484.4" cy="44.2" r="1.4" fill="#8575C8" fill-opacity="0.6"/>
<circle cx="489.5" cy="55.6" r="1.4" fill="#8575C8" fill-opacity="0.6"/>
<circle cx="485.3" cy="61.3" r="1.4" fill="#8575C8" fill-opacity="0.6"/>
<circle cx="489.6" cy="61.6" r="1.4" fill="#8575C8" fill-opacity="0.6"/>
<rect x="480.5" y="77.3" width="13.0" height="2.4" rx="1.2" fill="#8575C8" fill-opacity="0.48"/>
<circle cx="481.2" cy="78.3" r="1.25" fill="#8575C8" fill-opacity="0.45"/>
<circle cx="482.4" cy="78.8" r="1.25" fill="#8575C8" fill-opacity="0.45"/>
<circle cx="483.6" cy="78.6" r="1.25" fill="#8575C8" fill-opacity="0.45"/>
<circle cx="484.6" cy="78.7" r="1.25" fill="#8575C8" fill-opacity="0.45"/>
<circle cx="485.5" cy="78.5" r="1.25" fill="#8575C8" fill-opacity="0.45"/>
<circle cx="486.8" cy="78.7" r="1.25" fill="#8575C8" fill-opacity="0.45"/>
<circle cx="487.9" cy="78.4" r="1.25" fill="#8575C8" fill-opacity="0.45"/>
<circle cx="489.1" cy="78.5" r="1.25" fill="#8575C8" fill-opacity="0.45"/>
<circle cx="490.2" cy="78.3" r="1.25" fill="#8575C8" fill-opacity="0.45"/>
<circle cx="491.3" cy="78.7" r="1.25" fill="#8575C8" fill-opacity="0.45"/>
<circle cx="491.7" cy="78.7" r="1.25" fill="#8575C8" fill-opacity="0.45"/>
<circle cx="492.7" cy="78.3" r="1.25" fill="#8575C8" fill-opacity="0.45"/>
<rect x="481.5" y="88.8" width="12.0" height="2.4" rx="1.2" fill="#8575C8" fill-opacity="0.48"/>
<circle cx="482.0" cy="89.8" r="1.25" fill="#8575C8" fill-opacity="0.45"/>
<circle cx="483.4" cy="90.2" r="1.25" fill="#8575C8" fill-opacity="0.45"/>
<circle cx="484.9" cy="90.1" r="1.25" fill="#8575C8" fill-opacity="0.45"/>
<circle cx="486.0" cy="90.2" r="1.25" fill="#8575C8" fill-opacity="0.45"/>
<circle cx="487.8" cy="90.1" r="1.25" fill="#8575C8" fill-opacity="0.45"/>
<circle cx="489.3" cy="90.2" r="1.25" fill="#8575C8" fill-opacity="0.45"/>
<circle cx="490.2" cy="89.8" r="1.25" fill="#8575C8" fill-opacity="0.45"/>
<circle cx="491.8" cy="90.2" r="1.25" fill="#8575C8" fill-opacity="0.45"/>
<circle cx="492.8" cy="90.1" r="1.25" fill="#8575C8" fill-opacity="0.45"/>
<circle cx="483.4" cy="98.7" r="1.4" fill="#8575C8" fill-opacity="0.6"/>
<circle cx="486.4" cy="98.5" r="1.4" fill="#8575C8" fill-opacity="0.6"/>
<circle cx="490.4" cy="98.3" r="1.4" fill="#8575C8" fill-opacity="0.6"/>
<rect x="480.5" y="111.8" width="14.0" height="2.4" rx="1.2" fill="#8575C8" fill-opacity="0.48"/>
<circle cx="481.3" cy="113.0" r="1.25" fill="#8575C8" fill-opacity="0.45"/>
<circle cx="482.3" cy="113.0" r="1.25" fill="#8575C8" fill-opacity="0.45"/>
<circle cx="483.2" cy="112.8" r="1.25" fill="#8575C8" fill-opacity="0.45"/>
<circle cx="484.4" cy="113.2" r="1.25" fill="#8575C8" fill-opacity="0.45"/>
<circle cx="485.8" cy="112.9" r="1.25" fill="#8575C8" fill-opacity="0.45"/>
<circle cx="486.5" cy="112.9" r="1.25" fill="#8575C8" fill-opacity="0.45"/>
<circle cx="488.3" cy="113.0" r="1.25" fill="#8575C8" fill-opacity="0.45"/>
<circle cx="489.4" cy="113.2" r="1.25" fill="#8575C8" fill-opacity="0.45"/>
<circle cx="490.1" cy="113.1" r="1.25" fill="#8575C8" fill-opacity="0.45"/>
<circle cx="491.2" cy="113.2" r="1.25" fill="#8575C8" fill-opacity="0.45"/>
<circle cx="492.5" cy="112.9" r="1.25" fill="#8575C8" fill-opacity="0.45"/>
<circle cx="494.5" cy="112.9" r="1.25" fill="#8575C8" fill-opacity="0.45"/>
<rect x="480.5" y="122.8" width="13.0" height="2.4" rx="1.2" fill="#8575C8" fill-opacity="0.48"/>
<circle cx="480.7" cy="124.2" r="1.25" fill="#8575C8" fill-opacity="0.45"/>
<circle cx="482.4" cy="124.2" r="1.25" fill="#8575C8" fill-opacity="0.45"/>
<circle cx="483.6" cy="124.0" r="1.25" fill="#8575C8" fill-opacity="0.45"/>
<circle cx="485.5" cy="124.0" r="1.25" fill="#8575C8" fill-opacity="0.45"/>
<circle cx="486.8" cy="123.8" r="1.25" fill="#8575C8" fill-opacity="0.45"/>
<circle cx="488.0" cy="123.8" r="1.25" fill="#8575C8" fill-opacity="0.45"/>
<circle cx="489.0" cy="123.7" r="1.25" fill="#8575C8" fill-opacity="0.45"/>
<circle cx="490.0" cy="124.3" r="1.25" fill="#8575C8" fill-opacity="0.45"/>
<circle cx="491.6" cy="124.2" r="1.25" fill="#8575C8" fill-opacity="0.45"/>
<circle cx="492.8" cy="123.9" r="1.25" fill="#8575C8" fill-opacity="0.45"/>
<circle cx="483.8" cy="133.5" r="1.4" fill="#8575C8" fill-opacity="0.6"/>
<circle cx="492.1" cy="133.5" r="1.4" fill="#8575C8" fill-opacity="0.6"/>
<circle cx="484.9" cy="136.3" r="1.4" fill="#8575C8" fill-opacity="0.6"/>
<circle cx="490.5" cy="136.1" r="1.4" fill="#8575C8" fill-opacity="0.6"/>
<g stroke="#000" stroke-width="1.3">
<line x1="52.2" y1="19.2" x2="64.8" y2="19.2"/>
<line x1="52.2" y1="21.5" x2="64.8" y2="21.5"/>
<line x1="58.5" y1="19.2" x2="58.5" y2="21.5" stroke-width="1"/>
</g>
<circle cx="58.5" cy="20.3" r="2.0" fill="#000"/>
<g stroke="#000" stroke-width="1.3">
<line x1="69.9" y1="19.8" x2="82.5" y2="19.8"/>
<line x1="69.9" y1="21.4" x2="82.5" y2="21.4"/>
<line x1="76.2" y1="19.8" x2="76.2" y2="21.4" stroke-width="1"/>
</g>
<circle cx="76.2" cy="20.6" r="2.0" fill="#000"/>
<g stroke="#000" stroke-width="1.3">
<line x1="87.3" y1="57.1" x2="100.5" y2="57.1"/>
<line x1="87.3" y1="47.45" x2="100.5" y2="47.45"/>
<line x1="93.9" y1="57.1" x2="93.9" y2="47.45" stroke-width="1"/>
</g>
<circle cx="93.9" cy="52.3" r="2.0" fill="#000"/>
<g stroke="#000" stroke-width="1.3">
<line x1="118.0" y1="25.9" x2="130.6" y2="25.9"/>
<line x1="118.0" y1="29.3" x2="130.6" y2="29.3"/>
<line x1="124.3" y1="25.9" x2="124.3" y2="29.3" stroke-width="1"/>
</g>
<circle cx="124.3" cy="27.6" r="2.0" fill="#000"/>
<g stroke="#000" stroke-width="1.3">
<line x1="135.7" y1="28.3" x2="148.3" y2="28.3"/>
<line x1="135.7" y1="30.3" x2="148.3" y2="30.3"/>
<line x1="142.0" y1="28.3" x2="142.0" y2="30.3" stroke-width="1"/>
</g>
<circle cx="142.0" cy="29.3" r="2.0" fill="#000"/>
<g stroke="#000" stroke-width="1.3">
<line x1="153.1" y1="71.5" x2="166.3" y2="71.5"/>
<line x1="153.1" y1="59.5" x2="166.3" y2="59.5"/>
<line x1="159.7" y1="71.5" x2="159.7" y2="59.5" stroke-width="1"/>
</g>
<circle cx="159.7" cy="66.0" r="2.0" fill="#000"/>
<g stroke="#000" stroke-width="1.3">
<line x1="183.7" y1="19.2" x2="196.3" y2="19.2"/>
<line x1="183.7" y1="23.3" x2="196.3" y2="23.3"/>
<line x1="190.0" y1="19.2" x2="190.0" y2="23.3" stroke-width="1"/>
</g>
<circle cx="190.0" cy="21.1" r="2.0" fill="#000"/>
<g stroke="#000" stroke-width="1.3">
<line x1="201.4" y1="20.0" x2="214.0" y2="20.0"/>
<line x1="201.4" y1="22.2" x2="214.0" y2="22.2"/>
<line x1="207.7" y1="20.0" x2="207.7" y2="22.2" stroke-width="1"/>
</g>
<circle cx="207.7" cy="21.1" r="2.0" fill="#000"/>
<g stroke="#000" stroke-width="1.3">
<line x1="218.8" y1="73.1" x2="232.0" y2="73.1"/>
<line x1="218.8" y1="61.9" x2="232.0" y2="61.9"/>
<line x1="225.4" y1="73.1" x2="225.4" y2="61.9" stroke-width="1"/>
</g>
<circle cx="225.4" cy="68.3" r="2.0" fill="#000"/>
<g stroke="#000" stroke-width="1.3">
<line x1="249.5" y1="45.6" x2="262.1" y2="45.6"/>
<line x1="249.5" y1="49.2" x2="262.1" y2="49.2"/>
<line x1="255.8" y1="45.6" x2="255.8" y2="49.2" stroke-width="1"/>
</g>
<circle cx="255.8" cy="47.2" r="2.0" fill="#000"/>
<g stroke="#000" stroke-width="1.3">
<line x1="267.2" y1="47.6" x2="279.8" y2="47.6"/>
<line x1="267.2" y1="49.8" x2="279.8" y2="49.8"/>
<line x1="273.5" y1="47.6" x2="273.5" y2="49.8" stroke-width="1"/>
</g>
<circle cx="273.5" cy="48.7" r="2.0" fill="#000"/>
<g stroke="#000" stroke-width="1.3">
<line x1="284.6" y1="91.1" x2="297.8" y2="91.1"/>
<line x1="284.6" y1="78.7" x2="297.8" y2="78.7"/>
<line x1="291.2" y1="91.1" x2="291.2" y2="78.7" stroke-width="1"/>
</g>
<circle cx="291.2" cy="85.1" r="2.0" fill="#000"/>
<g stroke="#000" stroke-width="1.3">
<line x1="315.3" y1="54.7" x2="327.9" y2="54.7"/>
<line x1="315.3" y1="57.4" x2="327.9" y2="57.4"/>
<line x1="321.6" y1="54.7" x2="321.6" y2="57.4" stroke-width="1"/>
</g>
<circle cx="321.6" cy="55.9" r="2.0" fill="#000"/>
<g stroke="#000" stroke-width="1.3">
<line x1="333.0" y1="54.4" x2="345.6" y2="54.4"/>
<line x1="333.0" y1="56.8" x2="345.6" y2="56.8"/>
<line x1="339.3" y1="54.4" x2="339.3" y2="56.8" stroke-width="1"/>
</g>
<circle cx="339.3" cy="55.6" r="2.0" fill="#000"/>
<g stroke="#000" stroke-width="1.3">
<line x1="350.4" y1="94.0" x2="363.6" y2="94.0"/>
<line x1="350.4" y1="83.5" x2="363.6" y2="83.5"/>
<line x1="357.0" y1="94.0" x2="357.0" y2="83.5" stroke-width="1"/>
</g>
<circle cx="357.0" cy="88.7" r="2.0" fill="#000"/>
<g stroke="#000" stroke-width="1.3">
<line x1="381.0" y1="50.4" x2="393.6" y2="50.4"/>
<line x1="381.0" y1="54.7" x2="393.6" y2="54.7"/>
<line x1="387.3" y1="50.4" x2="387.3" y2="54.7" stroke-width="1"/>
</g>
<circle cx="387.3" cy="52.3" r="2.0" fill="#000"/>
<g stroke="#000" stroke-width="1.3">
<line x1="398.7" y1="57.6" x2="411.3" y2="57.6"/>
<line x1="398.7" y1="60.7" x2="411.3" y2="60.7"/>
<line x1="405.0" y1="57.6" x2="405.0" y2="60.7" stroke-width="1"/>
</g>
<circle cx="405.0" cy="59.5" r="2.0" fill="#000"/>
<g stroke="#000" stroke-width="1.3">
<line x1="416.1" y1="100.2" x2="429.3" y2="100.2"/>
<line x1="416.1" y1="89.4" x2="429.3" y2="89.4"/>
<line x1="422.7" y1="100.2" x2="422.7" y2="89.4" stroke-width="1"/>
</g>
<circle cx="422.7" cy="95.2" r="2.0" fill="#000"/>
<g stroke="#000" stroke-width="1.3">
<line x1="446.8" y1="97.8" x2="459.4" y2="97.8"/>
<line x1="446.8" y1="101.2" x2="459.4" y2="101.2"/>
<line x1="453.1" y1="97.8" x2="453.1" y2="101.2" stroke-width="1"/>
</g>
<circle cx="453.1" cy="99.5" r="2.0" fill="#000"/>
<g stroke="#000" stroke-width="1.3">
<line x1="464.5" y1="97.6" x2="477.1" y2="97.6"/>
<line x1="464.5" y1="100.0" x2="477.1" y2="100.0"/>
<line x1="470.8" y1="97.6" x2="470.8" y2="100.0" stroke-width="1"/>
</g>
<circle cx="470.8" cy="98.8" r="2.0" fill="#000"/>
<g stroke="#000" stroke-width="1.3">
<line x1="481.9" y1="108.0" x2="495.1" y2="108.0"/>
<line x1="481.9" y1="100.2" x2="495.1" y2="100.2"/>
<line x1="488.5" y1="108.0" x2="488.5" y2="100.2" stroke-width="1"/>
</g>
<circle cx="488.5" cy="104.8" r="2.0" fill="#000"/>
<line x1="43.5" y1="9.6" x2="43.5" y2="215.5" stroke="#707070" stroke-width="1.0"/>
<line x1="41" y1="215.9" x2="502.8" y2="215.9" stroke="#bdbdbd" stroke-width="1.6"/>
<g stroke="#707070" stroke-width="1.0" fill="none">
<line x1="41" y1="174.4" x2="43.5" y2="174.4"/>
<line x1="41" y1="133.2" x2="43.5" y2="133.2"/>
<line x1="41" y1="92.0" x2="43.5" y2="92.0"/>
<line x1="41" y1="50.8" x2="43.5" y2="50.8"/>
<line x1="41" y1="9.6" x2="43.5" y2="9.6"/>
<line x1="76.2" y1="216.5" x2="76.2" y2="218.7"/>
<line x1="142.0" y1="216.5" x2="142.0" y2="218.7"/>
<line x1="207.7" y1="216.5" x2="207.7" y2="218.7"/>
<line x1="273.5" y1="216.5" x2="273.5" y2="218.7"/>
<line x1="339.3" y1="216.5" x2="339.3" y2="218.7"/>
<line x1="405.0" y1="216.5" x2="405.0" y2="218.7"/>
<line x1="470.8" y1="216.5" x2="470.8" y2="218.7"/>
</g>
<g font-family='"Liberation Sans", sans-serif' font-size="9.8" fill="#000" text-anchor="end">
<text x="39.3" y="219.6">0.0</text>
<text x="39.3" y="178.4">0.2</text>
<text x="39.3" y="137.2">0.4</text>
<text x="39.3" y="96.0">0.6</text>
<text x="39.3" y="54.8">0.8</text>
<text x="39.3" y="13.6">1.0</text>
</g>
<text x="-0.4" y="11.2" font-family='"Liberation Sans", sans-serif' font-size="16" font-weight="bold">A</text>
<text transform="translate(17.4,109.8) rotate(-90)" text-anchor="middle" font-family='"Liberation Sans", sans-serif' font-size="11.7" font-weight="bold">Balanced Accuracy</text>
<text x="271.7" y="299.6" text-anchor="middle" font-family='"Liberation Sans", sans-serif' font-size="11.2" font-weight="bold">Features</text>
<g transform="translate(70.4,224.8) rotate(-45)" font-family='"Liberation Sans", sans-serif' font-size="11.0" text-anchor="middle">
<text x="-40.3" y="0.0">Weighted Phase</text>
<text x="-40.3" y="13.2">Lag Index</text>
</g>
<g transform="translate(142.0,225.0) rotate(-45)" font-family='"Liberation Sans", sans-serif' font-size="11.0" text-anchor="middle">
<text x="-44.3" y="0.0">Granger Causality</text>
</g>
<g transform="translate(210.7,224.5) rotate(-45)" font-family='"Liberation Sans", sans-serif' font-size="11.0" text-anchor="middle">
<text x="-29.3" y="0.0">All Features</text>
</g>
<g transform="translate(271.7,223.5) rotate(-45)" font-family='"Liberation Sans", sans-serif' font-size="11.0" text-anchor="middle">
<text x="-26.9" y="0.0">Imaginary</text>
<text x="-26.9" y="13.2">Coherence</text>
</g>
<g transform="translate(334.6,224.5) rotate(-45)" font-family='"Liberation Sans", sans-serif' font-size="11.0" text-anchor="middle">
<text x="-40.1" y="0.0">Power Envelope</text>
<text x="-40.1" y="13.2">Correlation</text>
</g>
<g transform="translate(405.5,224.5) rotate(-45)" font-family='"Liberation Sans", sans-serif' font-size="11.0" text-anchor="middle">
<text x="-15.6" y="0.0">Power</text>
</g>
<g transform="translate(473.1,224.9) rotate(-45)" font-family='"Liberation Sans", sans-serif' font-size="11.0" text-anchor="middle">
<text x="-28.1" y="0.0">Microstates</text>
</g>
<rect x="508.9" y="93.5" width="65.6" height="43" rx="2" fill="#fff" stroke="#dddddd" stroke-width="1"/>
<circle cx="515" cy="102.6" r="2.8" fill="#E9432F"/>
<text x="524.1" y="106.5" font-family='"Liberation Sans", sans-serif' font-size="10.8">Train</text>
<circle cx="515" cy="116.1" r="2.8" fill="#128DC6"/>
<text x="524.1" y="120.0" font-family='"Liberation Sans", sans-serif' font-size="10.8">Validation</text>
<circle cx="515" cy="129.7" r="2.8" fill="#9A8AC8"/>
<text x="524.1" y="133.6" font-family='"Liberation Sans", sans-serif' font-size="10.8">Test</text>
</g>
<g id="panelB">
<text x="0" y="319.1" font-family='"Liberation Sans", sans-serif' font-size="16.4" font-weight="bold">B</text>
<polygon points="63.0,385.0 81.7,385.0 82.2,375 87.5,370 88.2,352.2 105,352.2 105.5,346.2 111,346.2 111.5,340.9 128,340.9 128.5,338.3 137,338.3 137.5,332.5 150.5,332.5 151,331.8 162.5,331.8 163,330.4 190,330.0 215,329.4 221,329.3 235,329.6 235,330.5 221,331.5 215,333.5 190,336.0 163,337.4 162.5,340.2 151,340.2 150.5,341.9 137.5,341.9 137,348.6 128.5,348.6 128,353.4 111.5,353.4 111,359.4 105.5,359.4 105,366.6 88.2,366.6 87.5,385 82.2,385 81.7,407.7 63.0,407.7" fill="#e3e3e3"/>
<line x1="60.7" y1="500.3" x2="290.4" y2="330.0" stroke="#777777" stroke-width="0.95" stroke-dasharray="2.4 1.0"/>
<polyline points="60.7,500.3 63.2,396.4 81.5,396.4 83.4,379.3 85.8,379.3 88.2,359.4 105,359.4 106.9,352.7 111,352.7 113.4,346.7 127.8,346.7 130.2,343.3 136.9,343.3 139,337.8 150.5,337.8 152.2,336.1 162.5,336.1 164.9,333.5 187,333.5 188.5,332.5 197,332.5 198.5,331.3 213.4,331.3 215,330.5 220.4,330.5 221.5,330.0 290.3,330.0" fill="none" stroke="#222" stroke-width="1.1" stroke-linejoin="miter"/>
<line x1="220" y1="330.1" x2="290.3" y2="330.1" stroke="#555" stroke-width="1.8"/>
<rect x="49.5" y="321.5" width="251.9" height="187.7" fill="none" stroke="#5a5a5a" stroke-width="1"/>
<g stroke="#6e6e6e" stroke-width="1">
<line x1="46.5" y1="500.3" x2="49.5" y2="500.3"/>
<line x1="60.7" y1="508.9" x2="60.7" y2="511.9"/>
<line x1="46.5" y1="466.2" x2="49.5" y2="466.2"/>
<line x1="106.6" y1="508.9" x2="106.6" y2="511.9"/>
<line x1="46.5" y1="432.1" x2="49.5" y2="432.1"/>
<line x1="152.6" y1="508.9" x2="152.6" y2="511.9"/>
<line x1="46.5" y1="398.0" x2="49.5" y2="398.0"/>
<line x1="198.5" y1="508.9" x2="198.5" y2="511.9"/>
<line x1="46.5" y1="363.9" x2="49.5" y2="363.9"/>
<line x1="244.5" y1="508.9" x2="244.5" y2="511.9"/>
<line x1="46.5" y1="329.8" x2="49.5" y2="329.8"/>
<line x1="290.4" y1="508.9" x2="290.4" y2="511.9"/>
</g>
<g font-family='"Liberation Sans", sans-serif' font-size="11" text-anchor="end">
<text x="42.3" y="504.4">0.0</text>
<text x="42.3" y="470.3">0.2</text>
<text x="42.3" y="436.2">0.4</text>
<text x="42.3" y="402.1">0.6</text>
<text x="42.3" y="368.0">0.8</text>
<text x="42.3" y="333.9">1.0</text>
</g>
<g font-family='"Liberation Sans", sans-serif' font-size="11" text-anchor="middle">
<text x="60.7" y="524.5">0.0</text>
<text x="106.6" y="524.5">0.2</text>
<text x="152.6" y="524.5">0.4</text>
<text x="198.5" y="524.5">0.6</text>
<text x="244.5" y="524.5">0.8</text>
<text x="290.4" y="524.5">1.0</text>
</g>
<text transform="translate(21,414) rotate(-90)" text-anchor="middle" font-family='"Liberation Sans", sans-serif' font-size="11.5" font-weight="bold">True positive rate</text>
<text x="175.5" y="539.8" text-anchor="middle" font-family='"Liberation Sans", sans-serif' font-size="11.5" font-weight="bold">False positive rate</text>
<rect x="132.3" y="465.8" width="166.5" height="39.6" rx="2" fill="#fff" fill-opacity="0.85" stroke="#dcdcdc" stroke-width="1"/>
<line x1="135.8" y1="472.4" x2="153.7" y2="472.4" stroke="#777777" stroke-width="0.95" stroke-dasharray="2.4 1.0"/>
<line x1="135.8" y1="484.9" x2="153.7" y2="484.9" stroke="#666" stroke-width="1.9"/>
<rect x="135.8" y="494" width="17.9" height="7" fill="#e3e3e3"/>
<g class="lg" font-family='"Liberation Sans", sans-serif' font-size="9.45">
<text x="160.3" y="475.5">Chance</text>
<text x="160.3" y="488">Mean ROC (AUC = 0.92 ± 0.02)</text>
<text x="160.3" y="500.6">95% CI</text>
</g>
</g>
<g id="panelC">
<text x="316.9" y="319.1" font-family='"Liberation Sans", sans-serif' font-size="15.7" font-weight="bold">C</text>
<circle cx="389.8" cy="327.8" r="2.75" fill="#EE4E38" fill-opacity="0.55"/>
<circle cx="385.0" cy="334.7" r="2.75" fill="#EE4E38" fill-opacity="0.55"/>
<circle cx="386.8" cy="337.3" r="2.75" fill="#EE4E38" fill-opacity="0.55"/>
<circle cx="404.0" cy="337.3" r="2.75" fill="#EE4E38" fill-opacity="0.55"/>
<circle cx="409.7" cy="339.0" r="2.75" fill="#EE4E38" fill-opacity="0.55"/>
<circle cx="379.7" cy="343.0" r="2.75" fill="#EE4E38" fill-opacity="0.55"/>
<circle cx="381.3" cy="344.0" r="2.75" fill="#EE4E38" fill-opacity="0.55"/>
<circle cx="386.4" cy="347.9" r="2.75" fill="#EE4E38" fill-opacity="0.55"/>
<circle cx="393.5" cy="347.5" r="2.75" fill="#EE4E38" fill-opacity="0.55"/>
<circle cx="394.5" cy="347.2" r="2.75" fill="#EE4E38" fill-opacity="0.55"/>
<circle cx="403.0" cy="348.9" r="2.75" fill="#EE4E38" fill-opacity="0.55"/>
<circle cx="409.1" cy="346.9" r="2.75" fill="#EE4E38" fill-opacity="0.55"/>
<circle cx="420.9" cy="346.3" r="2.75" fill="#EE4E38" fill-opacity="0.55"/>
<circle cx="384.4" cy="352.5" r="2.75" fill="#EE4E38" fill-opacity="0.55"/>
<circle cx="386.4" cy="354.0" r="2.75" fill="#EE4E38" fill-opacity="0.55"/>
<circle cx="394.5" cy="355.2" r="2.75" fill="#EE4E38" fill-opacity="0.55"/>
<circle cx="373.2" cy="357.8" r="2.75" fill="#EE4E38" fill-opacity="0.55"/>
<circle cx="394.5" cy="359.0" r="2.75" fill="#EE4E38" fill-opacity="0.55"/>
<circle cx="395.5" cy="362.9" r="2.75" fill="#EE4E38" fill-opacity="0.55"/>
<circle cx="413.4" cy="358.8" r="2.75" fill="#EE4E38" fill-opacity="0.55"/>
<circle cx="380.3" cy="362.1" r="2.75" fill="#EE4E38" fill-opacity="0.55"/>
<circle cx="384.0" cy="362.9" r="2.75" fill="#EE4E38" fill-opacity="0.55"/>
<circle cx="424.1" cy="363.7" r="2.75" fill="#EE4E38" fill-opacity="0.55"/>
<circle cx="381.7" cy="368.4" r="2.75" fill="#EE4E38" fill-opacity="0.55"/>
<circle cx="386.4" cy="371.2" r="2.75" fill="#EE4E38" fill-opacity="0.55"/>
<circle cx="404.0" cy="370.4" r="2.75" fill="#EE4E38" fill-opacity="0.55"/>
<circle cx="402.2" cy="374.5" r="2.75" fill="#EE4E38" fill-opacity="0.55"/>
<circle cx="403.2" cy="376.9" r="2.75" fill="#EE4E38" fill-opacity="0.55"/>
<circle cx="409.7" cy="373.3" r="2.75" fill="#EE4E38" fill-opacity="0.55"/>
<circle cx="396.1" cy="376.3" r="2.75" fill="#EE4E38" fill-opacity="0.55"/>
<circle cx="403.6" cy="381.4" r="2.75" fill="#EE4E38" fill-opacity="0.55"/>
<circle cx="411.8" cy="379.3" r="2.75" fill="#EE4E38" fill-opacity="0.55"/>
<circle cx="391.1" cy="383.4" r="2.75" fill="#EE4E38" fill-opacity="0.55"/>
<circle cx="427.6" cy="372.4" r="2.75" fill="#EE4E38" fill-opacity="0.55"/>
<circle cx="443.2" cy="372.4" r="2.75" fill="#EE4E38" fill-opacity="0.55"/>
<circle cx="452.3" cy="372.4" r="2.75" fill="#EE4E38" fill-opacity="0.55"/>
<circle cx="467.2" cy="367.4" r="2.75" fill="#EE4E38" fill-opacity="0.55"/>
<circle cx="430.4" cy="385.0" r="2.75" fill="#EE4E38" fill-opacity="0.55"/>
<circle cx="446.7" cy="386.0" r="2.75" fill="#EE4E38" fill-opacity="0.55"/>
<circle cx="448.3" cy="384.4" r="2.75" fill="#EE4E38" fill-opacity="0.55"/>
<circle cx="459.5" cy="390.5" r="2.75" fill="#EE4E38" fill-opacity="0.55"/>
<circle cx="464.5" cy="393.8" r="2.75" fill="#EE4E38" fill-opacity="0.55"/>
<circle cx="446.3" cy="395.6" r="2.75" fill="#EE4E38" fill-opacity="0.55"/>
<circle cx="455.6" cy="400.9" r="2.75" fill="#EE4E38" fill-opacity="0.55"/>
<circle cx="459.5" cy="407.8" r="2.75" fill="#EE4E38" fill-opacity="0.55"/>
<circle cx="458.0" cy="412.4" r="2.75" fill="#EE4E38" fill-opacity="0.55"/>
<circle cx="400.2" cy="396.2" r="2.75" fill="#EE4E38" fill-opacity="0.55"/>
<circle cx="407.9" cy="394.6" r="2.75" fill="#EE4E38" fill-opacity="0.55"/>
<circle cx="406.9" cy="400.2" r="2.75" fill="#EE4E38" fill-opacity="0.55"/>
<circle cx="418.9" cy="393.1" r="2.75" fill="#EE4E38" fill-opacity="0.55"/>
<circle cx="418.5" cy="399.2" r="2.75" fill="#EE4E38" fill-opacity="0.55"/>
<circle cx="419.5" cy="415.5" r="2.75" fill="#EE4E38" fill-opacity="0.55"/>
<circle cx="430.6" cy="413.0" r="2.75" fill="#EE4E38" fill-opacity="0.55"/>
<circle cx="435.1" cy="412.0" r="2.75" fill="#EE4E38" fill-opacity="0.55"/>
<circle cx="442.2" cy="421.6" r="2.75" fill="#EE4E38" fill-opacity="0.55"/>
<circle cx="446.7" cy="424.0" r="2.75" fill="#EE4E38" fill-opacity="0.55"/>
<circle cx="468.6" cy="421.6" r="2.75" fill="#EE4E38" fill-opacity="0.55"/>
<circle cx="492.4" cy="369.8" r="2.75" fill="#EE4E38" fill-opacity="0.55"/>
<circle cx="480.2" cy="379.1" r="2.75" fill="#EE4E38" fill-opacity="0.55"/>
<circle cx="493.0" cy="389.1" r="2.75" fill="#EE4E38" fill-opacity="0.55"/>
<circle cx="480.2" cy="395.4" r="2.75" fill="#EE4E38" fill-opacity="0.55"/>
<circle cx="489.4" cy="410.8" r="2.75" fill="#EE4E38" fill-opacity="0.55"/>
<circle cx="494.4" cy="412.8" r="2.75" fill="#EE4E38" fill-opacity="0.55"/>
<circle cx="503.2" cy="409.4" r="2.75" fill="#EE4E38" fill-opacity="0.55"/>
<circle cx="476.2" cy="416.5" r="2.75" fill="#EE4E38" fill-opacity="0.55"/>
<circle cx="479.2" cy="418.5" r="2.75" fill="#EE4E38" fill-opacity="0.55"/>
<circle cx="477.2" cy="421.6" r="2.75" fill="#EE4E38" fill-opacity="0.55"/>
<circle cx="437.5" cy="427.3" r="2.75" fill="#EE4E38" fill-opacity="0.55"/>
<circle cx="443.2" cy="429.3" r="2.75" fill="#EE4E38" fill-opacity="0.55"/>
<circle cx="464.9" cy="427.7" r="2.75" fill="#EE4E38" fill-opacity="0.55"/>
<circle cx="425.4" cy="443.9" r="2.75" fill="#EE4E38" fill-opacity="0.55"/>
<circle cx="437.3" cy="439.0" r="2.75" fill="#EE4E38" fill-opacity="0.55"/>
<circle cx="456.8" cy="441.9" r="2.75" fill="#EE4E38" fill-opacity="0.55"/>
<circle cx="434.1" cy="456.7" r="2.75" fill="#EE4E38" fill-opacity="0.55"/>
<circle cx="454.6" cy="454.2" r="2.75" fill="#EE4E38" fill-opacity="0.55"/>
<circle cx="460.3" cy="462.2" r="2.75" fill="#EE4E38" fill-opacity="0.55"/>
<circle cx="450.7" cy="466.0" r="2.75" fill="#EE4E38" fill-opacity="0.55"/>
<circle cx="439.2" cy="468.0" r="2.75" fill="#EE4E38" fill-opacity="0.55"/>
<circle cx="485.3" cy="429.7" r="2.75" fill="#EE4E38" fill-opacity="0.55"/>
<circle cx="490.4" cy="427.3" r="2.75" fill="#EE4E38" fill-opacity="0.55"/>
<circle cx="494.4" cy="429.7" r="2.75" fill="#EE4E38" fill-opacity="0.55"/>
<circle cx="489.4" cy="435.8" r="2.75" fill="#EE4E38" fill-opacity="0.55"/>
<circle cx="489.0" cy="437.4" r="2.75" fill="#EE4E38" fill-opacity="0.55"/>
<circle cx="486.7" cy="441.5" r="2.75" fill="#EE4E38" fill-opacity="0.55"/>
<circle cx="510.7" cy="437.8" r="2.75" fill="#EE4E38" fill-opacity="0.55"/>
<circle cx="473.1" cy="462.4" r="2.75" fill="#EE4E38" fill-opacity="0.55"/>
<circle cx="478.2" cy="460.7" r="2.75" fill="#EE4E38" fill-opacity="0.55"/>
<circle cx="509.0" cy="478.0" r="2.75" fill="#EE4E38" fill-opacity="0.55"/>
<circle cx="560.4" cy="465.4" r="2.75" fill="#EE4E38" fill-opacity="0.55"/>
<circle cx="544.2" cy="480.0" r="2.75" fill="#EE4E38" fill-opacity="0.55"/>
<circle cx="475.6" cy="492.2" r="2.75" fill="#EE4E38" fill-opacity="0.55"/>
<circle cx="477.2" cy="490.6" r="2.75" fill="#EE4E38" fill-opacity="0.55"/>
<circle cx="496.9" cy="496.7" r="2.75" fill="#EE4E38" fill-opacity="0.55"/>
<circle cx="499.5" cy="500.3" r="2.75" fill="#EE4E38" fill-opacity="0.55"/>
<circle cx="485.3" cy="503.8" r="2.75" fill="#EE4E38" fill-opacity="0.55"/>
<circle cx="490.4" cy="416.1" r="2.75" fill="#1592C9" fill-opacity="0.55"/>
<circle cx="504.6" cy="414.0" r="2.75" fill="#1592C9" fill-opacity="0.55"/>
<circle cx="518.2" cy="416.1" r="2.75" fill="#1592C9" fill-opacity="0.55"/>
<circle cx="527.9" cy="419.9" r="2.75" fill="#1592C9" fill-opacity="0.55"/>
<circle cx="547.2" cy="422.6" r="2.75" fill="#1592C9" fill-opacity="0.55"/>
<circle cx="543.3" cy="424.9" r="2.75" fill="#1592C9" fill-opacity="0.55"/>
<circle cx="515.7" cy="428.3" r="2.75" fill="#1592C9" fill-opacity="0.55"/>
<circle cx="527.9" cy="436.4" r="2.75" fill="#1592C9" fill-opacity="0.55"/>
<circle cx="527.9" cy="442.1" r="2.75" fill="#1592C9" fill-opacity="0.55"/>
<circle cx="531.0" cy="444.1" r="2.75" fill="#1592C9" fill-opacity="0.55"/>
<circle cx="547.2" cy="438.4" r="2.75" fill="#1592C9" fill-opacity="0.55"/>
<circle cx="504.6" cy="441.9" r="2.75" fill="#1592C9" fill-opacity="0.55"/>
<circle cx="500.5" cy="448.0" r="2.75" fill="#1592C9" fill-opacity="0.55"/>
<circle cx="546.2" cy="448.2" r="2.75" fill="#1592C9" fill-opacity="0.55"/>
<circle cx="551.9" cy="448.6" r="2.75" fill="#1592C9" fill-opacity="0.55"/>
<circle cx="556.9" cy="445.5" r="2.75" fill="#1592C9" fill-opacity="0.55"/>
<circle cx="499.5" cy="455.7" r="2.75" fill="#1592C9" fill-opacity="0.55"/>
<circle cx="498.1" cy="459.7" r="2.75" fill="#1592C9" fill-opacity="0.55"/>
<circle cx="511.3" cy="455.7" r="2.75" fill="#1592C9" fill-opacity="0.55"/>
<circle cx="536.0" cy="459.3" r="2.75" fill="#1592C9" fill-opacity="0.55"/>
<circle cx="545.2" cy="461.8" r="2.75" fill="#1592C9" fill-opacity="0.55"/>
<circle cx="550.2" cy="467.8" r="2.75" fill="#1592C9" fill-opacity="0.55"/>
<circle cx="527.9" cy="468.2" r="2.75" fill="#1592C9" fill-opacity="0.55"/>
<circle cx="549.6" cy="476.6" r="2.75" fill="#1592C9" fill-opacity="0.55"/>
<circle cx="545.6" cy="484.5" r="2.75" fill="#1592C9" fill-opacity="0.55"/>
<circle cx="519.4" cy="484.1" r="2.75" fill="#1592C9" fill-opacity="0.55"/>
<circle cx="542.7" cy="491.2" r="2.75" fill="#1592C9" fill-opacity="0.55"/>
<circle cx="490.4" cy="494.8" r="2.75" fill="#1592C9" fill-opacity="0.55"/>
<circle cx="507.2" cy="502.3" r="2.75" fill="#1592C9" fill-opacity="0.55"/>
<path d="M363.5,318.9 H570.0 V512.8 H363.5" fill="none" stroke="#b5b5b5" stroke-width="1.4"/>
<line x1="363.5" y1="318.3" x2="363.5" y2="513.5" stroke="#6a6a6a" stroke-width="1.1"/>
<g stroke="#555" stroke-width="0.9">
<line x1="361" y1="484.7" x2="363.8" y2="484.7"/>
<line x1="361" y1="451.2" x2="363.8" y2="451.2"/>
<line x1="361" y1="417.7" x2="363.8" y2="417.7"/>
<line x1="361" y1="384.2" x2="363.8" y2="384.2"/>
<line x1="361" y1="350.7" x2="363.8" y2="350.7"/>
<line x1="394.7" y1="512.4" x2="394.7" y2="515.2"/>
<line x1="434.0" y1="512.4" x2="434.0" y2="515.2"/>
<line x1="473.3" y1="512.4" x2="473.3" y2="515.2"/>
<line x1="512.6" y1="512.4" x2="512.6" y2="515.2"/>
<line x1="551.9" y1="512.4" x2="551.9" y2="515.2"/>
</g>
<g font-family='"Liberation Sans", sans-serif' font-size="10.5" text-anchor="end">
<text x="357.0" y="488.7">−3</text>
<text x="357.0" y="455.2">−2</text>
<text x="357.0" y="421.7">−1</text>
<text x="357.0" y="388.2">0</text>
<text x="357.0" y="354.7">1</text>
</g>
<g font-family='"Liberation Sans", sans-serif' font-size="10.5" text-anchor="middle">
<text x="394.7" y="527">−2</text>
<text x="434.0" y="527">0</text>
<text x="473.3" y="527">2</text>
<text x="512.6" y="527">4</text>
<text x="551.9" y="527">6</text>
</g>
<text transform="translate(338.4,418.5) rotate(-90)" text-anchor="middle" font-family='"Liberation Sans", sans-serif' font-size="12" font-weight="bold">tSNE2</text>
<text x="473.5" y="542" text-anchor="middle" font-family='"Liberation Sans", sans-serif' font-size="11.5" font-weight="bold">tSNE1</text>
<rect x="501.1" y="323.1" width="65.4" height="28.4" rx="2" fill="#fff" fill-opacity="0.85" stroke="#dcdcdc" stroke-width="1"/>
<circle cx="510" cy="330.6" r="3.2" fill="#E9432F"/>
<circle cx="510" cy="343.4" r="3.2" fill="#128DC6"/>
<g font-family='"Liberation Sans", sans-serif' font-size="9.5">
<text x="518.8" y="334">Controls</text>
<text x="518.8" y="346.8">Subtype 1</text>
</g>
</g>
</svg></body></html>
